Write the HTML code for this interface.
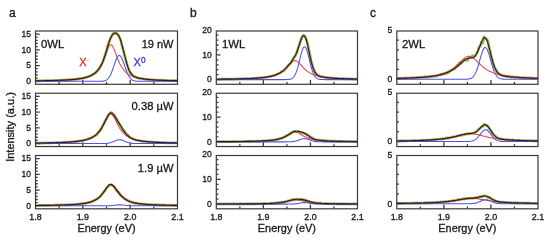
<!DOCTYPE html><html><head><meta charset="utf-8"><style>html,body{margin:0;padding:0;background:#fff;width:550px;height:240px;overflow:hidden}svg{display:block;will-change:transform;filter:blur(0.3px)}text{font-family:"Liberation Sans",sans-serif;fill:#1a1a1a;stroke:#1a1a1a;stroke-width:0.32px}</style></head><body>
<svg width="550" height="240" viewBox="0 0 550 240">
<clipPath id="cp00"><rect x="35.50" y="31.00" width="142.00" height="53.30"/></clipPath>
<path d="M35.50,81.31 h4.20 M35.50,78.15 h2.20 M35.50,75.00 h2.20 M35.50,71.85 h2.20 M35.50,68.70 h2.20 M35.50,65.55 h4.20 M35.50,62.39 h2.20 M35.50,59.24 h2.20 M35.50,56.09 h2.20 M35.50,52.94 h2.20 M35.50,49.79 h4.20 M35.50,46.63 h2.20 M35.50,43.48 h2.20 M35.50,40.33 h2.20 M35.50,37.18 h2.20 M35.50,34.03 h4.20 M59.17,84.30 v-2.40 M82.83,84.30 v-4.20 M106.50,84.30 v-2.40 M130.17,84.30 v-4.20 M153.83,84.30 v-2.40" stroke="#3a3a3a" stroke-width="1.3" fill="none"/>
<g clip-path="url(#cp00)">
<path d="M35.50,80.84 L36.79,80.80 L38.08,80.81 L39.37,80.80 L40.66,80.80 L41.95,80.75 L43.25,80.67 L44.54,80.68 L45.83,80.63 L47.12,80.64 L48.41,80.60 L49.70,80.58 L50.99,80.65 L52.28,80.49 L53.57,80.47 L54.86,80.43 L56.15,80.52 L57.45,80.48 L58.74,80.39 L60.03,80.31 L61.32,80.21 L62.61,80.18 L63.90,80.08 L65.19,80.09 L66.48,79.96 L67.77,79.87 L69.06,79.86 L70.35,79.59 L71.65,79.58 L72.94,79.42 L74.23,79.44 L75.52,79.32 L76.81,79.14 L78.10,78.95 L79.39,78.70 L80.68,78.53 L81.97,78.36 L83.26,78.16 L84.55,77.82 L85.85,77.28 L87.14,77.14 L88.43,76.57 L89.72,76.04 L91.01,75.72 L92.30,74.81 L93.59,73.81 L94.88,73.41 L96.17,72.00 L97.46,70.62 L98.75,69.16 L100.05,66.95 L101.34,64.77 L102.63,62.38 L103.92,58.50 L105.21,54.76 L106.50,50.46 L107.79,45.87 L109.08,42.03 L110.37,38.51 L111.66,36.38 L112.95,33.86 L114.25,33.44 L115.54,33.13 L116.83,33.91 L118.12,35.10 L119.41,37.27 L120.70,40.02 L121.99,45.67 L123.28,50.49 L124.57,55.19 L125.86,59.90 L127.15,64.61 L128.45,68.84 L129.74,71.79 L131.03,73.39 L132.32,75.09 L133.61,76.21 L134.90,76.69 L136.19,77.23 L137.48,77.75 L138.77,78.07 L140.06,78.32 L141.35,78.44 L142.65,78.74 L143.94,78.94 L145.23,79.10 L146.52,79.42 L147.81,79.32 L149.10,79.46 L150.39,79.61 L151.68,79.89 L152.97,79.88 L154.26,79.86 L155.55,80.12 L156.85,80.08 L158.14,80.06 L159.43,80.27 L160.72,80.15 L162.01,80.26 L163.30,80.35 L164.59,80.37 L165.88,80.39 L167.17,80.46 L168.46,80.44 L169.75,80.57 L171.05,80.59 L172.34,80.55 L173.63,80.63 L174.92,80.70 L176.21,80.64 L177.50,80.64" stroke="#a9ad4c" stroke-width="2.7" fill="none" stroke-linejoin="round"/>
<path d="M35.50,80.83 L35.97,80.83 L36.45,80.82 L36.92,80.82 L37.39,80.81 L37.87,80.80 L38.34,80.80 L38.81,80.79 L39.29,80.78 L39.76,80.78 L40.23,80.77 L40.71,80.76 L41.18,80.76 L41.65,80.75 L42.13,80.74 L42.60,80.73 L43.07,80.72 L43.55,80.72 L44.02,80.71 L44.49,80.70 L44.97,80.69 L45.44,80.68 L45.91,80.67 L46.39,80.66 L46.86,80.65 L47.33,80.65 L47.81,80.64 L48.28,80.63 L48.75,80.62 L49.23,80.60 L49.70,80.59 L50.17,80.58 L50.65,80.57 L51.12,80.56 L51.59,80.55 L52.07,80.54 L52.54,80.52 L53.01,80.51 L53.49,80.50 L53.96,80.49 L54.43,80.47 L54.91,80.46 L55.38,80.44 L55.85,80.43 L56.33,80.42 L56.80,80.40 L57.27,80.38 L57.75,80.37 L58.22,80.35 L58.69,80.33 L59.17,80.32 L59.64,80.30 L60.11,80.28 L60.59,80.26 L61.06,80.24 L61.53,80.22 L62.01,80.20 L62.48,80.18 L62.95,80.16 L63.43,80.14 L63.90,80.11 L64.37,80.09 L64.85,80.07 L65.32,80.04 L65.79,80.02 L66.27,79.99 L66.74,79.96 L67.21,79.93 L67.69,79.91 L68.16,79.88 L68.63,79.84 L69.11,79.81 L69.58,79.78 L70.05,79.75 L70.53,79.71 L71.00,79.67 L71.47,79.64 L71.95,79.60 L72.42,79.56 L72.89,79.51 L73.37,79.47 L73.84,79.43 L74.31,79.38 L74.79,79.33 L75.26,79.28 L75.73,79.23 L76.21,79.18 L76.68,79.12 L77.15,79.06 L77.63,79.00 L78.10,78.94 L78.57,78.87 L79.05,78.81 L79.52,78.74 L79.99,78.66 L80.47,78.59 L80.94,78.51 L81.41,78.42 L81.89,78.33 L82.36,78.24 L82.83,78.15 L83.31,78.05 L83.78,77.94 L84.25,77.84 L84.73,77.72 L85.20,77.60 L85.67,77.47 L86.15,77.34 L86.62,77.20 L87.09,77.06 L87.57,76.90 L88.04,76.74 L88.51,76.57 L88.99,76.39 L89.46,76.20 L89.93,76.01 L90.41,75.79 L90.88,75.57 L91.35,75.34 L91.83,75.09 L92.30,74.82 L92.77,74.54 L93.25,74.24 L93.72,73.93 L94.19,73.59 L94.67,73.24 L95.14,72.86 L95.61,72.45 L96.09,72.02 L96.56,71.56 L97.03,71.08 L97.51,70.55 L97.98,70.00 L98.45,69.40 L98.93,68.77 L99.40,68.10 L99.87,67.38 L100.35,66.61 L100.82,65.79 L101.29,64.92 L101.77,64.00 L102.24,63.02 L102.71,61.99 L103.19,60.91 L103.66,59.77 L104.13,58.58 L104.61,57.35 L105.08,56.08 L105.55,54.79 L106.03,53.48 L106.50,52.18 L106.97,50.91 L107.45,49.69 L107.92,48.54 L108.39,47.50 L108.87,46.59 L109.34,45.84 L109.81,45.27 L110.29,44.90 L110.76,44.75 L111.23,44.81 L111.71,45.10 L112.18,45.59 L112.65,46.27 L113.13,47.12 L113.60,48.11 L114.07,49.22 L114.55,50.42 L115.02,51.67 L115.49,52.96 L115.97,54.26 L116.44,55.56 L116.91,56.84 L117.39,58.09 L117.86,59.30 L118.33,60.46 L118.81,61.56 L119.28,62.62 L119.75,63.62 L120.23,64.56 L120.70,65.45 L121.17,66.29 L121.65,67.08 L122.12,67.81 L122.59,68.51 L123.07,69.16 L123.54,69.77 L124.01,70.34 L124.49,70.87 L124.96,71.37 L125.43,71.84 L125.91,72.28 L126.38,72.70 L126.85,73.09 L127.33,73.45 L127.80,73.80 L128.27,74.12 L128.75,74.42 L129.22,74.71 L129.69,74.98 L130.17,75.24 L130.64,75.48 L131.11,75.71 L131.59,75.92 L132.06,76.13 L132.53,76.32 L133.01,76.50 L133.48,76.68 L133.95,76.84 L134.43,77.00 L134.90,77.15 L135.37,77.29 L135.85,77.42 L136.32,77.55 L136.79,77.67 L137.27,77.79 L137.74,77.90 L138.21,78.01 L138.69,78.11 L139.16,78.21 L139.63,78.30 L140.11,78.39 L140.58,78.47 L141.05,78.55 L141.53,78.63 L142.00,78.71 L142.47,78.78 L142.95,78.85 L143.42,78.91 L143.89,78.98 L144.37,79.04 L144.84,79.10 L145.31,79.15 L145.79,79.21 L146.26,79.26 L146.73,79.31 L147.21,79.36 L147.68,79.41 L148.15,79.45 L148.63,79.50 L149.10,79.54 L149.57,79.58 L150.05,79.62 L150.52,79.66 L150.99,79.70 L151.47,79.73 L151.94,79.77 L152.41,79.80 L152.89,79.83 L153.36,79.86 L153.83,79.89 L154.31,79.92 L154.78,79.95 L155.25,79.98 L155.73,80.01 L156.20,80.03 L156.67,80.06 L157.15,80.08 L157.62,80.11 L158.09,80.13 L158.57,80.15 L159.04,80.17 L159.51,80.19 L159.99,80.22 L160.46,80.24 L160.93,80.25 L161.41,80.27 L161.88,80.29 L162.35,80.31 L162.83,80.33 L163.30,80.35 L163.77,80.36 L164.25,80.38 L164.72,80.39 L165.19,80.41 L165.67,80.42 L166.14,80.44 L166.61,80.45 L167.09,80.47 L167.56,80.48 L168.03,80.49 L168.51,80.51 L168.98,80.52 L169.45,80.53 L169.93,80.54 L170.40,80.56 L170.87,80.57 L171.35,80.58 L171.82,80.59 L172.29,80.60 L172.77,80.61 L173.24,80.62 L173.71,80.63 L174.19,80.64 L174.66,80.65 L175.13,80.66 L175.61,80.67 L176.08,80.68 L176.55,80.69 L177.03,80.70 L177.50,80.70" stroke="#e8404a" stroke-width="1.05" fill="none"/>
<path d="M35.50,81.31 L35.97,81.31 L36.45,81.31 L36.92,81.31 L37.39,81.31 L37.87,81.31 L38.34,81.31 L38.81,81.31 L39.29,81.31 L39.76,81.31 L40.23,81.31 L40.71,81.31 L41.18,81.31 L41.65,81.31 L42.13,81.31 L42.60,81.31 L43.07,81.31 L43.55,81.31 L44.02,81.31 L44.49,81.31 L44.97,81.31 L45.44,81.31 L45.91,81.31 L46.39,81.31 L46.86,81.31 L47.33,81.31 L47.81,81.31 L48.28,81.31 L48.75,81.31 L49.23,81.31 L49.70,81.31 L50.17,81.31 L50.65,81.31 L51.12,81.31 L51.59,81.31 L52.07,81.31 L52.54,81.31 L53.01,81.31 L53.49,81.31 L53.96,81.31 L54.43,81.31 L54.91,81.31 L55.38,81.31 L55.85,81.31 L56.33,81.31 L56.80,81.31 L57.27,81.31 L57.75,81.31 L58.22,81.31 L58.69,81.31 L59.17,81.31 L59.64,81.31 L60.11,81.31 L60.59,81.31 L61.06,81.31 L61.53,81.31 L62.01,81.31 L62.48,81.31 L62.95,81.31 L63.43,81.31 L63.90,81.31 L64.37,81.31 L64.85,81.31 L65.32,81.31 L65.79,81.31 L66.27,81.31 L66.74,81.31 L67.21,81.31 L67.69,81.31 L68.16,81.31 L68.63,81.31 L69.11,81.31 L69.58,81.31 L70.05,81.31 L70.53,81.31 L71.00,81.31 L71.47,81.31 L71.95,81.31 L72.42,81.31 L72.89,81.31 L73.37,81.31 L73.84,81.31 L74.31,81.31 L74.79,81.31 L75.26,81.31 L75.73,81.31 L76.21,81.31 L76.68,81.31 L77.15,81.31 L77.63,81.31 L78.10,81.31 L78.57,81.31 L79.05,81.31 L79.52,81.31 L79.99,81.31 L80.47,81.31 L80.94,81.31 L81.41,81.31 L81.89,81.31 L82.36,81.31 L82.83,81.31 L83.31,81.31 L83.78,81.31 L84.25,81.31 L84.73,81.31 L85.20,81.31 L85.67,81.31 L86.15,81.31 L86.62,81.31 L87.09,81.31 L87.57,81.31 L88.04,81.31 L88.51,81.31 L88.99,81.31 L89.46,81.31 L89.93,81.31 L90.41,81.31 L90.88,81.31 L91.35,81.31 L91.83,81.31 L92.30,81.31 L92.77,81.31 L93.25,81.31 L93.72,81.31 L94.19,81.31 L94.67,81.31 L95.14,81.30 L95.61,81.30 L96.09,81.30 L96.56,81.30 L97.03,81.30 L97.51,81.30 L97.98,81.30 L98.45,81.29 L98.93,81.29 L99.40,81.28 L99.87,81.27 L100.35,81.26 L100.82,81.25 L101.29,81.22 L101.77,81.20 L102.24,81.16 L102.71,81.11 L103.19,81.05 L103.66,80.97 L104.13,80.87 L104.61,80.74 L105.08,80.59 L105.55,80.40 L106.03,80.17 L106.50,79.89 L106.97,79.56 L107.45,79.17 L107.92,78.70 L108.39,78.17 L108.87,77.55 L109.34,76.85 L109.81,76.06 L110.29,75.18 L110.76,74.20 L111.23,73.14 L111.71,71.99 L112.18,70.76 L112.65,69.47 L113.13,68.13 L113.60,66.75 L114.07,65.35 L114.55,63.96 L115.02,62.59 L115.49,61.28 L115.97,60.05 L116.44,58.91 L116.91,57.91 L117.39,57.06 L117.86,56.37 L118.33,55.87 L118.81,55.56 L119.28,55.46 L119.75,55.56 L120.23,55.87 L120.70,56.37 L121.17,57.06 L121.65,57.91 L122.12,58.91 L122.59,60.05 L123.07,61.28 L123.54,62.59 L124.01,63.96 L124.49,65.35 L124.96,66.75 L125.43,68.13 L125.91,69.47 L126.38,70.76 L126.85,71.99 L127.33,73.14 L127.80,74.20 L128.27,75.18 L128.75,76.06 L129.22,76.85 L129.69,77.55 L130.17,78.17 L130.64,78.70 L131.11,79.17 L131.59,79.56 L132.06,79.89 L132.53,80.17 L133.01,80.40 L133.48,80.59 L133.95,80.74 L134.43,80.87 L134.90,80.97 L135.37,81.05 L135.85,81.11 L136.32,81.16 L136.79,81.20 L137.27,81.22 L137.74,81.25 L138.21,81.26 L138.69,81.27 L139.16,81.28 L139.63,81.29 L140.11,81.29 L140.58,81.30 L141.05,81.30 L141.53,81.30 L142.00,81.30 L142.47,81.30 L142.95,81.30 L143.42,81.30 L143.89,81.31 L144.37,81.31 L144.84,81.31 L145.31,81.31 L145.79,81.31 L146.26,81.31 L146.73,81.31 L147.21,81.31 L147.68,81.31 L148.15,81.31 L148.63,81.31 L149.10,81.31 L149.57,81.31 L150.05,81.31 L150.52,81.31 L150.99,81.31 L151.47,81.31 L151.94,81.31 L152.41,81.31 L152.89,81.31 L153.36,81.31 L153.83,81.31 L154.31,81.31 L154.78,81.31 L155.25,81.31 L155.73,81.31 L156.20,81.31 L156.67,81.31 L157.15,81.31 L157.62,81.31 L158.09,81.31 L158.57,81.31 L159.04,81.31 L159.51,81.31 L159.99,81.31 L160.46,81.31 L160.93,81.31 L161.41,81.31 L161.88,81.31 L162.35,81.31 L162.83,81.31 L163.30,81.31 L163.77,81.31 L164.25,81.31 L164.72,81.31 L165.19,81.31 L165.67,81.31 L166.14,81.31 L166.61,81.31 L167.09,81.31 L167.56,81.31 L168.03,81.31 L168.51,81.31 L168.98,81.31 L169.45,81.31 L169.93,81.31 L170.40,81.31 L170.87,81.31 L171.35,81.31 L171.82,81.31 L172.29,81.31 L172.77,81.31 L173.24,81.31 L173.71,81.31 L174.19,81.31 L174.66,81.31 L175.13,81.31 L175.61,81.31 L176.08,81.31 L176.55,81.31 L177.03,81.31 L177.50,81.31" stroke="#5050e8" stroke-width="1.05" fill="none"/>
<path d="M35.50,80.83 L35.97,80.83 L36.45,80.82 L36.92,80.82 L37.39,80.81 L37.87,80.80 L38.34,80.80 L38.81,80.79 L39.29,80.78 L39.76,80.78 L40.23,80.77 L40.71,80.76 L41.18,80.76 L41.65,80.75 L42.13,80.74 L42.60,80.73 L43.07,80.72 L43.55,80.72 L44.02,80.71 L44.49,80.70 L44.97,80.69 L45.44,80.68 L45.91,80.67 L46.39,80.66 L46.86,80.65 L47.33,80.65 L47.81,80.64 L48.28,80.63 L48.75,80.62 L49.23,80.60 L49.70,80.59 L50.17,80.58 L50.65,80.57 L51.12,80.56 L51.59,80.55 L52.07,80.54 L52.54,80.52 L53.01,80.51 L53.49,80.50 L53.96,80.49 L54.43,80.47 L54.91,80.46 L55.38,80.44 L55.85,80.43 L56.33,80.42 L56.80,80.40 L57.27,80.38 L57.75,80.37 L58.22,80.35 L58.69,80.33 L59.17,80.32 L59.64,80.30 L60.11,80.28 L60.59,80.26 L61.06,80.24 L61.53,80.22 L62.01,80.20 L62.48,80.18 L62.95,80.16 L63.43,80.14 L63.90,80.11 L64.37,80.09 L64.85,80.07 L65.32,80.04 L65.79,80.02 L66.27,79.99 L66.74,79.96 L67.21,79.93 L67.69,79.91 L68.16,79.88 L68.63,79.84 L69.11,79.81 L69.58,79.78 L70.05,79.75 L70.53,79.71 L71.00,79.67 L71.47,79.64 L71.95,79.60 L72.42,79.56 L72.89,79.51 L73.37,79.47 L73.84,79.43 L74.31,79.38 L74.79,79.33 L75.26,79.28 L75.73,79.23 L76.21,79.18 L76.68,79.12 L77.15,79.06 L77.63,79.00 L78.10,78.94 L78.57,78.87 L79.05,78.81 L79.52,78.74 L79.99,78.66 L80.47,78.59 L80.94,78.51 L81.41,78.42 L81.89,78.33 L82.36,78.24 L82.83,78.15 L83.31,78.05 L83.78,77.94 L84.25,77.84 L84.73,77.72 L85.20,77.60 L85.67,77.47 L86.15,77.34 L86.62,77.20 L87.09,77.06 L87.57,76.90 L88.04,76.74 L88.51,76.57 L88.99,76.39 L89.46,76.20 L89.93,76.01 L90.41,75.79 L90.88,75.57 L91.35,75.34 L91.83,75.09 L92.30,74.82 L92.77,74.54 L93.25,74.24 L93.72,73.93 L94.19,73.59 L94.67,73.24 L95.14,72.86 L95.61,72.45 L96.09,72.02 L96.56,71.56 L97.03,71.07 L97.51,70.55 L97.98,69.99 L98.45,69.39 L98.93,68.76 L99.40,68.07 L99.87,67.34 L100.35,66.57 L100.82,65.73 L101.29,64.84 L101.77,63.89 L102.24,62.88 L102.71,61.80 L103.19,60.65 L103.66,59.43 L104.13,58.14 L104.61,56.79 L105.08,55.36 L105.55,53.88 L106.03,52.35 L106.50,50.77 L106.97,49.17 L107.45,47.55 L107.92,45.94 L108.39,44.36 L108.87,42.84 L109.34,41.38 L109.81,40.02 L110.29,38.77 L110.76,37.64 L111.23,36.65 L111.71,35.78 L112.18,35.05 L112.65,34.44 L113.13,33.94 L113.60,33.55 L114.07,33.27 L114.55,33.07 L115.02,32.96 L115.49,32.93 L115.97,33.00 L116.44,33.17 L116.91,33.45 L117.39,33.84 L117.86,34.36 L118.33,35.02 L118.81,35.82 L119.28,36.77 L119.75,37.87 L120.23,39.12 L120.70,40.52 L121.17,42.04 L121.65,43.68 L122.12,45.42 L122.59,47.25 L123.07,49.13 L123.54,51.05 L124.01,52.99 L124.49,54.91 L124.96,56.81 L125.43,58.67 L125.91,60.45 L126.38,62.16 L126.85,63.77 L127.33,65.28 L127.80,66.69 L128.27,67.99 L128.75,69.18 L129.22,70.26 L129.69,71.23 L130.17,72.10 L130.64,72.88 L131.11,73.57 L131.59,74.18 L132.06,74.71 L132.53,75.18 L133.01,75.60 L133.48,75.96 L133.95,76.28 L134.43,76.56 L134.90,76.81 L135.37,77.03 L135.85,77.23 L136.32,77.40 L136.79,77.56 L137.27,77.71 L137.74,77.84 L138.21,77.96 L138.69,78.08 L139.16,78.18 L139.63,78.28 L140.11,78.38 L140.58,78.46 L141.05,78.55 L141.53,78.63 L142.00,78.70 L142.47,78.78 L142.95,78.85 L143.42,78.91 L143.89,78.98 L144.37,79.04 L144.84,79.10 L145.31,79.15 L145.79,79.21 L146.26,79.26 L146.73,79.31 L147.21,79.36 L147.68,79.41 L148.15,79.45 L148.63,79.50 L149.10,79.54 L149.57,79.58 L150.05,79.62 L150.52,79.66 L150.99,79.70 L151.47,79.73 L151.94,79.77 L152.41,79.80 L152.89,79.83 L153.36,79.86 L153.83,79.89 L154.31,79.92 L154.78,79.95 L155.25,79.98 L155.73,80.01 L156.20,80.03 L156.67,80.06 L157.15,80.08 L157.62,80.11 L158.09,80.13 L158.57,80.15 L159.04,80.17 L159.51,80.19 L159.99,80.22 L160.46,80.24 L160.93,80.25 L161.41,80.27 L161.88,80.29 L162.35,80.31 L162.83,80.33 L163.30,80.35 L163.77,80.36 L164.25,80.38 L164.72,80.39 L165.19,80.41 L165.67,80.42 L166.14,80.44 L166.61,80.45 L167.09,80.47 L167.56,80.48 L168.03,80.49 L168.51,80.51 L168.98,80.52 L169.45,80.53 L169.93,80.54 L170.40,80.56 L170.87,80.57 L171.35,80.58 L171.82,80.59 L172.29,80.60 L172.77,80.61 L173.24,80.62 L173.71,80.63 L174.19,80.64 L174.66,80.65 L175.13,80.66 L175.61,80.67 L176.08,80.68 L176.55,80.69 L177.03,80.70 L177.50,80.70" stroke="#222" stroke-width="1.15" fill="none"/>
</g>
<rect x="35.50" y="31.00" width="142.00" height="53.30" fill="none" stroke="#3a3a3a" stroke-width="1.2"/>
<text x="30.90" y="84.11" font-size="8.5" text-anchor="end">0</text>
<text x="30.90" y="68.35" font-size="8.5" text-anchor="end">5</text>
<text x="30.90" y="52.59" font-size="8.5" text-anchor="end">10</text>
<text x="30.90" y="36.83" font-size="8.5" text-anchor="end">15</text>
<clipPath id="cp01"><rect x="35.50" y="93.25" width="142.00" height="53.30"/></clipPath>
<path d="M35.50,143.56 h4.20 M35.50,140.40 h2.20 M35.50,137.25 h2.20 M35.50,134.10 h2.20 M35.50,130.95 h2.20 M35.50,127.80 h4.20 M35.50,124.64 h2.20 M35.50,121.49 h2.20 M35.50,118.34 h2.20 M35.50,115.19 h2.20 M35.50,112.04 h4.20 M35.50,108.88 h2.20 M35.50,105.73 h2.20 M35.50,102.58 h2.20 M35.50,99.43 h2.20 M35.50,96.28 h4.20 M59.17,146.55 v-2.40 M82.83,146.55 v-4.20 M106.50,146.55 v-2.40 M130.17,146.55 v-4.20 M153.83,146.55 v-2.40" stroke="#3a3a3a" stroke-width="1.3" fill="none"/>
<g clip-path="url(#cp01)">
<path d="M35.50,143.11 L36.79,143.14 L38.08,143.07 L39.37,143.05 L40.66,143.04 L41.95,142.93 L43.25,143.03 L44.54,142.90 L45.83,143.00 L47.12,142.95 L48.41,142.85 L49.70,142.80 L50.99,142.78 L52.28,142.78 L53.57,142.75 L54.86,142.72 L56.15,142.65 L57.45,142.66 L58.74,142.58 L60.03,142.52 L61.32,142.50 L62.61,142.39 L63.90,142.35 L65.19,142.18 L66.48,142.23 L67.77,142.21 L69.06,142.12 L70.35,142.00 L71.65,141.83 L72.94,141.83 L74.23,141.64 L75.52,141.38 L76.81,141.65 L78.10,141.35 L79.39,141.04 L80.68,140.82 L81.97,140.61 L83.26,140.44 L84.55,140.02 L85.85,139.74 L87.14,139.48 L88.43,138.65 L89.72,138.46 L91.01,138.04 L92.30,137.33 L93.59,136.60 L94.88,135.69 L96.17,135.19 L97.46,133.55 L98.75,131.80 L100.05,130.64 L101.34,128.46 L102.63,125.97 L103.92,123.52 L105.21,120.66 L106.50,119.01 L107.79,116.15 L109.08,114.26 L110.37,112.87 L111.66,112.63 L112.95,114.83 L114.25,115.04 L115.54,117.86 L116.83,119.29 L118.12,122.16 L119.41,123.81 L120.70,125.66 L121.99,128.08 L123.28,129.95 L124.57,131.64 L125.86,133.43 L127.15,134.92 L128.45,135.85 L129.74,136.96 L131.03,138.00 L132.32,138.21 L133.61,139.31 L134.90,139.47 L136.19,139.99 L137.48,140.25 L138.77,140.46 L140.06,140.75 L141.35,140.92 L142.65,141.33 L143.94,141.49 L145.23,141.44 L146.52,141.72 L147.81,141.84 L149.10,141.99 L150.39,141.86 L151.68,142.00 L152.97,142.03 L154.26,142.30 L155.55,142.30 L156.85,142.44 L158.14,142.37 L159.43,142.37 L160.72,142.59 L162.01,142.48 L163.30,142.57 L164.59,142.68 L165.88,142.83 L167.17,142.67 L168.46,142.79 L169.75,142.85 L171.05,142.82 L172.34,142.85 L173.63,142.82 L174.92,142.98 L176.21,142.89 L177.50,142.90" stroke="#a9ad4c" stroke-width="2.7" fill="none" stroke-linejoin="round"/>
<path d="M35.50,143.09 L35.97,143.09 L36.45,143.08 L36.92,143.07 L37.39,143.07 L37.87,143.06 L38.34,143.06 L38.81,143.05 L39.29,143.04 L39.76,143.04 L40.23,143.03 L40.71,143.02 L41.18,143.01 L41.65,143.01 L42.13,143.00 L42.60,142.99 L43.07,142.98 L43.55,142.98 L44.02,142.97 L44.49,142.96 L44.97,142.95 L45.44,142.94 L45.91,142.93 L46.39,142.93 L46.86,142.92 L47.33,142.91 L47.81,142.90 L48.28,142.89 L48.75,142.88 L49.23,142.87 L49.70,142.86 L50.17,142.85 L50.65,142.84 L51.12,142.82 L51.59,142.81 L52.07,142.80 L52.54,142.79 L53.01,142.78 L53.49,142.76 L53.96,142.75 L54.43,142.74 L54.91,142.72 L55.38,142.71 L55.85,142.70 L56.33,142.68 L56.80,142.67 L57.27,142.65 L57.75,142.64 L58.22,142.62 L58.69,142.60 L59.17,142.59 L59.64,142.57 L60.11,142.55 L60.59,142.53 L61.06,142.51 L61.53,142.49 L62.01,142.47 L62.48,142.45 L62.95,142.43 L63.43,142.41 L63.90,142.39 L64.37,142.36 L64.85,142.34 L65.32,142.32 L65.79,142.29 L66.27,142.26 L66.74,142.24 L67.21,142.21 L67.69,142.18 L68.16,142.15 L68.63,142.12 L69.11,142.09 L69.58,142.06 L70.05,142.03 L70.53,141.99 L71.00,141.96 L71.47,141.92 L71.95,141.88 L72.42,141.84 L72.89,141.80 L73.37,141.76 L73.84,141.71 L74.31,141.67 L74.79,141.62 L75.26,141.57 L75.73,141.52 L76.21,141.47 L76.68,141.42 L77.15,141.36 L77.63,141.30 L78.10,141.24 L78.57,141.18 L79.05,141.11 L79.52,141.04 L79.99,140.97 L80.47,140.90 L80.94,140.82 L81.41,140.74 L81.89,140.65 L82.36,140.57 L82.83,140.47 L83.31,140.38 L83.78,140.28 L84.25,140.17 L84.73,140.06 L85.20,139.95 L85.67,139.83 L86.15,139.70 L86.62,139.57 L87.09,139.43 L87.57,139.28 L88.04,139.13 L88.51,138.96 L88.99,138.79 L89.46,138.61 L89.93,138.42 L90.41,138.23 L90.88,138.01 L91.35,137.79 L91.83,137.56 L92.30,137.31 L92.77,137.05 L93.25,136.77 L93.72,136.48 L94.19,136.17 L94.67,135.84 L95.14,135.49 L95.61,135.12 L96.09,134.73 L96.56,134.31 L97.03,133.87 L97.51,133.40 L97.98,132.91 L98.45,132.38 L98.93,131.82 L99.40,131.23 L99.87,130.61 L100.35,129.95 L100.82,129.25 L101.29,128.52 L101.77,127.75 L102.24,126.94 L102.71,126.10 L103.19,125.22 L103.66,124.32 L104.13,123.39 L104.61,122.44 L105.08,121.48 L105.55,120.52 L106.03,119.57 L106.50,118.64 L106.97,117.75 L107.45,116.92 L107.92,116.15 L108.39,115.48 L108.87,114.91 L109.34,114.46 L109.81,114.14 L110.29,113.96 L110.76,113.93 L111.23,114.05 L111.71,114.31 L112.18,114.71 L112.65,115.24 L113.13,115.87 L113.60,116.60 L114.07,117.41 L114.55,118.28 L115.02,119.19 L115.49,120.14 L115.97,121.10 L116.44,122.06 L116.91,123.01 L117.39,123.95 L117.86,124.87 L118.33,125.75 L118.81,126.61 L119.28,127.43 L119.75,128.21 L120.23,128.96 L120.70,129.67 L121.17,130.35 L121.65,130.99 L122.12,131.59 L122.59,132.16 L123.07,132.70 L123.54,133.21 L124.01,133.69 L124.49,134.14 L124.96,134.56 L125.43,134.97 L125.91,135.34 L126.38,135.70 L126.85,136.04 L127.33,136.36 L127.80,136.66 L128.27,136.94 L128.75,137.21 L129.22,137.46 L129.69,137.70 L130.17,137.93 L130.64,138.14 L131.11,138.35 L131.59,138.54 L132.06,138.72 L132.53,138.90 L133.01,139.06 L133.48,139.22 L133.95,139.37 L134.43,139.51 L134.90,139.65 L135.37,139.78 L135.85,139.90 L136.32,140.02 L136.79,140.13 L137.27,140.24 L137.74,140.34 L138.21,140.44 L138.69,140.53 L139.16,140.62 L139.63,140.71 L140.11,140.79 L140.58,140.87 L141.05,140.94 L141.53,141.01 L142.00,141.08 L142.47,141.15 L142.95,141.22 L143.42,141.28 L143.89,141.34 L144.37,141.39 L144.84,141.45 L145.31,141.50 L145.79,141.55 L146.26,141.60 L146.73,141.65 L147.21,141.70 L147.68,141.74 L148.15,141.78 L148.63,141.82 L149.10,141.86 L149.57,141.90 L150.05,141.94 L150.52,141.98 L150.99,142.01 L151.47,142.05 L151.94,142.08 L152.41,142.11 L152.89,142.14 L153.36,142.17 L153.83,142.20 L154.31,142.23 L154.78,142.25 L155.25,142.28 L155.73,142.31 L156.20,142.33 L156.67,142.35 L157.15,142.38 L157.62,142.40 L158.09,142.42 L158.57,142.44 L159.04,142.46 L159.51,142.49 L159.99,142.50 L160.46,142.52 L160.93,142.54 L161.41,142.56 L161.88,142.58 L162.35,142.60 L162.83,142.61 L163.30,142.63 L163.77,142.64 L164.25,142.66 L164.72,142.68 L165.19,142.69 L165.67,142.70 L166.14,142.72 L166.61,142.73 L167.09,142.75 L167.56,142.76 L168.03,142.77 L168.51,142.78 L168.98,142.80 L169.45,142.81 L169.93,142.82 L170.40,142.83 L170.87,142.84 L171.35,142.85 L171.82,142.86 L172.29,142.87 L172.77,142.88 L173.24,142.89 L173.71,142.90 L174.19,142.91 L174.66,142.92 L175.13,142.93 L175.61,142.94 L176.08,142.95 L176.55,142.96 L177.03,142.97 L177.50,142.97" stroke="#e8404a" stroke-width="1.05" fill="none"/>
<path d="M35.50,143.56 L35.97,143.56 L36.45,143.56 L36.92,143.56 L37.39,143.56 L37.87,143.56 L38.34,143.56 L38.81,143.56 L39.29,143.56 L39.76,143.56 L40.23,143.56 L40.71,143.56 L41.18,143.56 L41.65,143.56 L42.13,143.56 L42.60,143.56 L43.07,143.56 L43.55,143.56 L44.02,143.56 L44.49,143.56 L44.97,143.56 L45.44,143.56 L45.91,143.56 L46.39,143.56 L46.86,143.56 L47.33,143.56 L47.81,143.56 L48.28,143.56 L48.75,143.56 L49.23,143.56 L49.70,143.56 L50.17,143.56 L50.65,143.56 L51.12,143.56 L51.59,143.56 L52.07,143.56 L52.54,143.56 L53.01,143.56 L53.49,143.56 L53.96,143.56 L54.43,143.56 L54.91,143.56 L55.38,143.56 L55.85,143.56 L56.33,143.56 L56.80,143.56 L57.27,143.56 L57.75,143.56 L58.22,143.56 L58.69,143.56 L59.17,143.56 L59.64,143.56 L60.11,143.56 L60.59,143.56 L61.06,143.56 L61.53,143.56 L62.01,143.56 L62.48,143.56 L62.95,143.56 L63.43,143.56 L63.90,143.56 L64.37,143.56 L64.85,143.56 L65.32,143.56 L65.79,143.56 L66.27,143.56 L66.74,143.56 L67.21,143.56 L67.69,143.56 L68.16,143.56 L68.63,143.56 L69.11,143.56 L69.58,143.56 L70.05,143.56 L70.53,143.56 L71.00,143.56 L71.47,143.56 L71.95,143.56 L72.42,143.56 L72.89,143.56 L73.37,143.56 L73.84,143.56 L74.31,143.56 L74.79,143.56 L75.26,143.56 L75.73,143.56 L76.21,143.56 L76.68,143.56 L77.15,143.56 L77.63,143.56 L78.10,143.56 L78.57,143.56 L79.05,143.56 L79.52,143.56 L79.99,143.56 L80.47,143.56 L80.94,143.56 L81.41,143.56 L81.89,143.56 L82.36,143.56 L82.83,143.56 L83.31,143.56 L83.78,143.56 L84.25,143.56 L84.73,143.56 L85.20,143.56 L85.67,143.56 L86.15,143.56 L86.62,143.56 L87.09,143.56 L87.57,143.56 L88.04,143.56 L88.51,143.56 L88.99,143.56 L89.46,143.56 L89.93,143.56 L90.41,143.56 L90.88,143.56 L91.35,143.56 L91.83,143.56 L92.30,143.56 L92.77,143.56 L93.25,143.56 L93.72,143.56 L94.19,143.56 L94.67,143.56 L95.14,143.56 L95.61,143.56 L96.09,143.56 L96.56,143.56 L97.03,143.56 L97.51,143.55 L97.98,143.55 L98.45,143.55 L98.93,143.55 L99.40,143.55 L99.87,143.55 L100.35,143.55 L100.82,143.55 L101.29,143.55 L101.77,143.54 L102.24,143.54 L102.71,143.53 L103.19,143.52 L103.66,143.51 L104.13,143.50 L104.61,143.48 L105.08,143.46 L105.55,143.44 L106.03,143.41 L106.50,143.37 L106.97,143.33 L107.45,143.27 L107.92,143.21 L108.39,143.14 L108.87,143.05 L109.34,142.96 L109.81,142.85 L110.29,142.72 L110.76,142.59 L111.23,142.44 L111.71,142.28 L112.18,142.10 L112.65,141.92 L113.13,141.73 L113.60,141.53 L114.07,141.32 L114.55,141.12 L115.02,140.92 L115.49,140.72 L115.97,140.53 L116.44,140.36 L116.91,140.20 L117.39,140.07 L117.86,139.95 L118.33,139.87 L118.81,139.81 L119.28,139.78 L119.75,139.78 L120.23,139.81 L120.70,139.87 L121.17,139.95 L121.65,140.07 L122.12,140.20 L122.59,140.36 L123.07,140.53 L123.54,140.72 L124.01,140.92 L124.49,141.12 L124.96,141.32 L125.43,141.53 L125.91,141.73 L126.38,141.92 L126.85,142.10 L127.33,142.28 L127.80,142.44 L128.27,142.59 L128.75,142.72 L129.22,142.85 L129.69,142.96 L130.17,143.05 L130.64,143.14 L131.11,143.21 L131.59,143.27 L132.06,143.33 L132.53,143.37 L133.01,143.41 L133.48,143.44 L133.95,143.46 L134.43,143.48 L134.90,143.50 L135.37,143.51 L135.85,143.52 L136.32,143.53 L136.79,143.54 L137.27,143.54 L137.74,143.55 L138.21,143.55 L138.69,143.55 L139.16,143.55 L139.63,143.55 L140.11,143.55 L140.58,143.55 L141.05,143.55 L141.53,143.55 L142.00,143.56 L142.47,143.56 L142.95,143.56 L143.42,143.56 L143.89,143.56 L144.37,143.56 L144.84,143.56 L145.31,143.56 L145.79,143.56 L146.26,143.56 L146.73,143.56 L147.21,143.56 L147.68,143.56 L148.15,143.56 L148.63,143.56 L149.10,143.56 L149.57,143.56 L150.05,143.56 L150.52,143.56 L150.99,143.56 L151.47,143.56 L151.94,143.56 L152.41,143.56 L152.89,143.56 L153.36,143.56 L153.83,143.56 L154.31,143.56 L154.78,143.56 L155.25,143.56 L155.73,143.56 L156.20,143.56 L156.67,143.56 L157.15,143.56 L157.62,143.56 L158.09,143.56 L158.57,143.56 L159.04,143.56 L159.51,143.56 L159.99,143.56 L160.46,143.56 L160.93,143.56 L161.41,143.56 L161.88,143.56 L162.35,143.56 L162.83,143.56 L163.30,143.56 L163.77,143.56 L164.25,143.56 L164.72,143.56 L165.19,143.56 L165.67,143.56 L166.14,143.56 L166.61,143.56 L167.09,143.56 L167.56,143.56 L168.03,143.56 L168.51,143.56 L168.98,143.56 L169.45,143.56 L169.93,143.56 L170.40,143.56 L170.87,143.56 L171.35,143.56 L171.82,143.56 L172.29,143.56 L172.77,143.56 L173.24,143.56 L173.71,143.56 L174.19,143.56 L174.66,143.56 L175.13,143.56 L175.61,143.56 L176.08,143.56 L176.55,143.56 L177.03,143.56 L177.50,143.56" stroke="#5050e8" stroke-width="1.05" fill="none"/>
<path d="M35.50,143.09 L35.97,143.09 L36.45,143.08 L36.92,143.07 L37.39,143.07 L37.87,143.06 L38.34,143.06 L38.81,143.05 L39.29,143.04 L39.76,143.04 L40.23,143.03 L40.71,143.02 L41.18,143.01 L41.65,143.01 L42.13,143.00 L42.60,142.99 L43.07,142.98 L43.55,142.98 L44.02,142.97 L44.49,142.96 L44.97,142.95 L45.44,142.94 L45.91,142.93 L46.39,142.93 L46.86,142.92 L47.33,142.91 L47.81,142.90 L48.28,142.89 L48.75,142.88 L49.23,142.87 L49.70,142.86 L50.17,142.85 L50.65,142.84 L51.12,142.82 L51.59,142.81 L52.07,142.80 L52.54,142.79 L53.01,142.78 L53.49,142.76 L53.96,142.75 L54.43,142.74 L54.91,142.72 L55.38,142.71 L55.85,142.70 L56.33,142.68 L56.80,142.67 L57.27,142.65 L57.75,142.64 L58.22,142.62 L58.69,142.60 L59.17,142.59 L59.64,142.57 L60.11,142.55 L60.59,142.53 L61.06,142.51 L61.53,142.49 L62.01,142.47 L62.48,142.45 L62.95,142.43 L63.43,142.41 L63.90,142.39 L64.37,142.36 L64.85,142.34 L65.32,142.32 L65.79,142.29 L66.27,142.26 L66.74,142.24 L67.21,142.21 L67.69,142.18 L68.16,142.15 L68.63,142.12 L69.11,142.09 L69.58,142.06 L70.05,142.03 L70.53,141.99 L71.00,141.96 L71.47,141.92 L71.95,141.88 L72.42,141.84 L72.89,141.80 L73.37,141.76 L73.84,141.71 L74.31,141.67 L74.79,141.62 L75.26,141.57 L75.73,141.52 L76.21,141.47 L76.68,141.42 L77.15,141.36 L77.63,141.30 L78.10,141.24 L78.57,141.18 L79.05,141.11 L79.52,141.04 L79.99,140.97 L80.47,140.90 L80.94,140.82 L81.41,140.74 L81.89,140.65 L82.36,140.57 L82.83,140.47 L83.31,140.38 L83.78,140.28 L84.25,140.17 L84.73,140.06 L85.20,139.95 L85.67,139.83 L86.15,139.70 L86.62,139.57 L87.09,139.43 L87.57,139.28 L88.04,139.13 L88.51,138.96 L88.99,138.79 L89.46,138.61 L89.93,138.42 L90.41,138.23 L90.88,138.01 L91.35,137.79 L91.83,137.56 L92.30,137.31 L92.77,137.05 L93.25,136.77 L93.72,136.48 L94.19,136.17 L94.67,135.84 L95.14,135.49 L95.61,135.12 L96.09,134.73 L96.56,134.31 L97.03,133.87 L97.51,133.40 L97.98,132.91 L98.45,132.38 L98.93,131.82 L99.40,131.23 L99.87,130.60 L100.35,129.94 L100.82,129.24 L101.29,128.51 L101.77,127.73 L102.24,126.92 L102.71,126.07 L103.19,125.19 L103.66,124.28 L104.13,123.33 L104.61,122.37 L105.08,121.39 L105.55,120.40 L106.03,119.42 L106.50,118.46 L106.97,117.52 L107.45,116.63 L107.92,115.81 L108.39,115.06 L108.87,114.40 L109.34,113.86 L109.81,113.43 L110.29,113.13 L110.76,112.97 L111.23,112.94 L111.71,113.04 L112.18,113.26 L112.65,113.60 L113.13,114.04 L113.60,114.57 L114.07,115.18 L114.55,115.84 L115.02,116.55 L115.49,117.30 L115.97,118.07 L116.44,118.86 L116.91,119.66 L117.39,120.46 L117.86,121.26 L118.33,122.06 L118.81,122.86 L119.28,123.65 L119.75,124.44 L120.23,125.21 L120.70,125.98 L121.17,126.75 L121.65,127.50 L122.12,128.24 L122.59,128.96 L123.07,129.68 L123.54,130.37 L124.01,131.05 L124.49,131.70 L124.96,132.33 L125.43,132.94 L125.91,133.51 L126.38,134.07 L126.85,134.59 L127.33,135.08 L127.80,135.54 L128.27,135.97 L128.75,136.38 L129.22,136.75 L129.69,137.10 L130.17,137.42 L130.64,137.72 L131.11,138.00 L131.59,138.26 L132.06,138.49 L132.53,138.71 L133.01,138.91 L133.48,139.10 L133.95,139.28 L134.43,139.44 L134.90,139.59 L135.37,139.73 L135.85,139.87 L136.32,139.99 L136.79,140.11 L137.27,140.22 L137.74,140.33 L138.21,140.43 L138.69,140.52 L139.16,140.62 L139.63,140.70 L140.11,140.79 L140.58,140.86 L141.05,140.94 L141.53,141.01 L142.00,141.08 L142.47,141.15 L142.95,141.22 L143.42,141.28 L143.89,141.34 L144.37,141.39 L144.84,141.45 L145.31,141.50 L145.79,141.55 L146.26,141.60 L146.73,141.65 L147.21,141.70 L147.68,141.74 L148.15,141.78 L148.63,141.82 L149.10,141.86 L149.57,141.90 L150.05,141.94 L150.52,141.98 L150.99,142.01 L151.47,142.05 L151.94,142.08 L152.41,142.11 L152.89,142.14 L153.36,142.17 L153.83,142.20 L154.31,142.23 L154.78,142.25 L155.25,142.28 L155.73,142.31 L156.20,142.33 L156.67,142.35 L157.15,142.38 L157.62,142.40 L158.09,142.42 L158.57,142.44 L159.04,142.46 L159.51,142.49 L159.99,142.50 L160.46,142.52 L160.93,142.54 L161.41,142.56 L161.88,142.58 L162.35,142.60 L162.83,142.61 L163.30,142.63 L163.77,142.64 L164.25,142.66 L164.72,142.68 L165.19,142.69 L165.67,142.70 L166.14,142.72 L166.61,142.73 L167.09,142.75 L167.56,142.76 L168.03,142.77 L168.51,142.78 L168.98,142.80 L169.45,142.81 L169.93,142.82 L170.40,142.83 L170.87,142.84 L171.35,142.85 L171.82,142.86 L172.29,142.87 L172.77,142.88 L173.24,142.89 L173.71,142.90 L174.19,142.91 L174.66,142.92 L175.13,142.93 L175.61,142.94 L176.08,142.95 L176.55,142.96 L177.03,142.97 L177.50,142.97" stroke="#222" stroke-width="1.15" fill="none"/>
</g>
<rect x="35.50" y="93.25" width="142.00" height="53.30" fill="none" stroke="#3a3a3a" stroke-width="1.2"/>
<text x="30.90" y="146.36" font-size="8.5" text-anchor="end">0</text>
<text x="30.90" y="130.60" font-size="8.5" text-anchor="end">5</text>
<text x="30.90" y="114.84" font-size="8.5" text-anchor="end">10</text>
<text x="30.90" y="99.08" font-size="8.5" text-anchor="end">15</text>
<clipPath id="cp02"><rect x="35.50" y="155.50" width="142.00" height="53.30"/></clipPath>
<path d="M35.50,205.81 h4.20 M35.50,202.65 h2.20 M35.50,199.50 h2.20 M35.50,196.35 h2.20 M35.50,193.20 h2.20 M35.50,190.05 h4.20 M35.50,186.89 h2.20 M35.50,183.74 h2.20 M35.50,180.59 h2.20 M35.50,177.44 h2.20 M35.50,174.29 h4.20 M35.50,171.13 h2.20 M35.50,167.98 h2.20 M35.50,164.83 h2.20 M35.50,161.68 h2.20 M35.50,158.53 h4.20 M59.17,208.80 v-2.40 M82.83,208.80 v-4.20 M106.50,208.80 v-2.40 M130.17,208.80 v-4.20 M153.83,208.80 v-2.40" stroke="#3a3a3a" stroke-width="1.3" fill="none"/>
<g clip-path="url(#cp02)">
<path d="M35.50,205.42 L36.79,205.47 L38.08,205.48 L39.37,205.40 L40.66,205.42 L41.95,205.41 L43.25,205.34 L44.54,205.39 L45.83,205.47 L47.12,205.36 L48.41,205.41 L49.70,205.27 L50.99,205.27 L52.28,205.29 L53.57,205.24 L54.86,205.17 L56.15,205.18 L57.45,205.09 L58.74,205.13 L60.03,205.03 L61.32,204.97 L62.61,204.92 L63.90,205.01 L65.19,204.87 L66.48,205.00 L67.77,204.89 L69.06,204.90 L70.35,204.62 L71.65,204.72 L72.94,204.55 L74.23,204.48 L75.52,204.38 L76.81,204.32 L78.10,204.14 L79.39,203.87 L80.68,203.88 L81.97,203.67 L83.26,203.45 L84.55,203.37 L85.85,203.25 L87.14,202.92 L88.43,202.42 L89.72,202.42 L91.01,201.89 L92.30,201.21 L93.59,200.70 L94.88,200.19 L96.17,199.32 L97.46,198.57 L98.75,197.82 L100.05,196.73 L101.34,195.18 L102.63,193.25 L103.92,191.86 L105.21,190.10 L106.50,188.22 L107.79,186.79 L109.08,185.13 L110.37,184.85 L111.66,184.51 L112.95,186.17 L114.25,186.72 L115.54,188.64 L116.83,190.72 L118.12,191.74 L119.41,193.59 L120.70,195.48 L121.99,196.50 L123.28,197.44 L124.57,198.63 L125.86,199.34 L127.15,200.14 L128.45,200.83 L129.74,201.45 L131.03,201.80 L132.32,202.30 L133.61,202.66 L134.90,203.24 L136.19,203.16 L137.48,203.34 L138.77,203.69 L140.06,203.87 L141.35,203.80 L142.65,204.26 L143.94,204.19 L145.23,204.14 L146.52,204.51 L147.81,204.47 L149.10,204.46 L150.39,204.68 L151.68,204.70 L152.97,204.74 L154.26,204.92 L155.55,204.91 L156.85,204.94 L158.14,204.95 L159.43,205.04 L160.72,205.09 L162.01,205.17 L163.30,205.16 L164.59,205.13 L165.88,205.20 L167.17,205.27 L168.46,205.30 L169.75,205.15 L171.05,205.25 L172.34,205.29 L173.63,205.46 L174.92,205.33 L176.21,205.35 L177.50,205.32" stroke="#a9ad4c" stroke-width="2.7" fill="none" stroke-linejoin="round"/>
<path d="M35.50,205.48 L35.97,205.47 L36.45,205.47 L36.92,205.46 L37.39,205.46 L37.87,205.45 L38.34,205.45 L38.81,205.44 L39.29,205.44 L39.76,205.44 L40.23,205.43 L40.71,205.43 L41.18,205.42 L41.65,205.42 L42.13,205.41 L42.60,205.40 L43.07,205.40 L43.55,205.39 L44.02,205.39 L44.49,205.38 L44.97,205.38 L45.44,205.37 L45.91,205.36 L46.39,205.36 L46.86,205.35 L47.33,205.34 L47.81,205.34 L48.28,205.33 L48.75,205.32 L49.23,205.32 L49.70,205.31 L50.17,205.30 L50.65,205.29 L51.12,205.28 L51.59,205.28 L52.07,205.27 L52.54,205.26 L53.01,205.25 L53.49,205.24 L53.96,205.23 L54.43,205.22 L54.91,205.21 L55.38,205.20 L55.85,205.19 L56.33,205.18 L56.80,205.17 L57.27,205.16 L57.75,205.15 L58.22,205.14 L58.69,205.13 L59.17,205.11 L59.64,205.10 L60.11,205.09 L60.59,205.08 L61.06,205.06 L61.53,205.05 L62.01,205.03 L62.48,205.02 L62.95,205.00 L63.43,204.99 L63.90,204.97 L64.37,204.96 L64.85,204.94 L65.32,204.92 L65.79,204.90 L66.27,204.89 L66.74,204.87 L67.21,204.85 L67.69,204.83 L68.16,204.81 L68.63,204.78 L69.11,204.76 L69.58,204.74 L70.05,204.71 L70.53,204.69 L71.00,204.66 L71.47,204.64 L71.95,204.61 L72.42,204.58 L72.89,204.55 L73.37,204.52 L73.84,204.49 L74.31,204.46 L74.79,204.43 L75.26,204.39 L75.73,204.36 L76.21,204.32 L76.68,204.28 L77.15,204.24 L77.63,204.20 L78.10,204.16 L78.57,204.11 L79.05,204.06 L79.52,204.01 L79.99,203.96 L80.47,203.91 L80.94,203.86 L81.41,203.80 L81.89,203.74 L82.36,203.67 L82.83,203.61 L83.31,203.54 L83.78,203.47 L84.25,203.39 L84.73,203.32 L85.20,203.23 L85.67,203.15 L86.15,203.06 L86.62,202.96 L87.09,202.86 L87.57,202.76 L88.04,202.65 L88.51,202.53 L88.99,202.41 L89.46,202.28 L89.93,202.15 L90.41,202.01 L90.88,201.86 L91.35,201.70 L91.83,201.53 L92.30,201.35 L92.77,201.17 L93.25,200.97 L93.72,200.76 L94.19,200.54 L94.67,200.30 L95.14,200.06 L95.61,199.79 L96.09,199.51 L96.56,199.22 L97.03,198.90 L97.51,198.57 L97.98,198.22 L98.45,197.84 L98.93,197.44 L99.40,197.02 L99.87,196.58 L100.35,196.11 L100.82,195.61 L101.29,195.09 L101.77,194.54 L102.24,193.96 L102.71,193.36 L103.19,192.74 L103.66,192.09 L104.13,191.43 L104.61,190.76 L105.08,190.07 L105.55,189.39 L106.03,188.71 L106.50,188.05 L106.97,187.41 L107.45,186.82 L107.92,186.27 L108.39,185.79 L108.87,185.39 L109.34,185.07 L109.81,184.84 L110.29,184.71 L110.76,184.69 L111.23,184.78 L111.71,184.96 L112.18,185.25 L112.65,185.62 L113.13,186.07 L113.60,186.59 L114.07,187.17 L114.55,187.79 L115.02,188.44 L115.49,189.11 L115.97,189.80 L116.44,190.48 L116.91,191.16 L117.39,191.83 L117.86,192.48 L118.33,193.12 L118.81,193.73 L119.28,194.31 L119.75,194.87 L120.23,195.40 L120.70,195.91 L121.17,196.39 L121.65,196.85 L122.12,197.28 L122.59,197.68 L123.07,198.07 L123.54,198.43 L124.01,198.77 L124.49,199.09 L124.96,199.40 L125.43,199.68 L125.91,199.95 L126.38,200.21 L126.85,200.45 L127.33,200.67 L127.80,200.89 L128.27,201.09 L128.75,201.28 L129.22,201.46 L129.69,201.63 L130.17,201.79 L130.64,201.95 L131.11,202.09 L131.59,202.23 L132.06,202.36 L132.53,202.48 L133.01,202.60 L133.48,202.71 L133.95,202.82 L134.43,202.92 L134.90,203.02 L135.37,203.11 L135.85,203.20 L136.32,203.28 L136.79,203.36 L137.27,203.44 L137.74,203.51 L138.21,203.58 L138.69,203.65 L139.16,203.71 L139.63,203.77 L140.11,203.83 L140.58,203.89 L141.05,203.94 L141.53,203.99 L142.00,204.04 L142.47,204.09 L142.95,204.14 L143.42,204.18 L143.89,204.22 L144.37,204.27 L144.84,204.30 L145.31,204.34 L145.79,204.38 L146.26,204.41 L146.73,204.45 L147.21,204.48 L147.68,204.51 L148.15,204.54 L148.63,204.57 L149.10,204.60 L149.57,204.63 L150.05,204.65 L150.52,204.68 L150.99,204.71 L151.47,204.73 L151.94,204.75 L152.41,204.78 L152.89,204.80 L153.36,204.82 L153.83,204.84 L154.31,204.86 L154.78,204.88 L155.25,204.90 L155.73,204.91 L156.20,204.93 L156.67,204.95 L157.15,204.97 L157.62,204.98 L158.09,205.00 L158.57,205.01 L159.04,205.03 L159.51,205.04 L159.99,205.06 L160.46,205.07 L160.93,205.08 L161.41,205.10 L161.88,205.11 L162.35,205.12 L162.83,205.13 L163.30,205.15 L163.77,205.16 L164.25,205.17 L164.72,205.18 L165.19,205.19 L165.67,205.20 L166.14,205.21 L166.61,205.22 L167.09,205.23 L167.56,205.24 L168.03,205.25 L168.51,205.26 L168.98,205.26 L169.45,205.27 L169.93,205.28 L170.40,205.29 L170.87,205.30 L171.35,205.30 L171.82,205.31 L172.29,205.32 L172.77,205.33 L173.24,205.33 L173.71,205.34 L174.19,205.35 L174.66,205.35 L175.13,205.36 L175.61,205.37 L176.08,205.37 L176.55,205.38 L177.03,205.39 L177.50,205.39" stroke="#e8404a" stroke-width="1.05" fill="none"/>
<path d="M35.50,205.81 L35.97,205.81 L36.45,205.81 L36.92,205.81 L37.39,205.81 L37.87,205.81 L38.34,205.81 L38.81,205.81 L39.29,205.81 L39.76,205.81 L40.23,205.81 L40.71,205.81 L41.18,205.81 L41.65,205.81 L42.13,205.81 L42.60,205.81 L43.07,205.81 L43.55,205.81 L44.02,205.81 L44.49,205.81 L44.97,205.81 L45.44,205.81 L45.91,205.81 L46.39,205.81 L46.86,205.81 L47.33,205.81 L47.81,205.81 L48.28,205.81 L48.75,205.81 L49.23,205.81 L49.70,205.81 L50.17,205.81 L50.65,205.81 L51.12,205.81 L51.59,205.81 L52.07,205.81 L52.54,205.81 L53.01,205.81 L53.49,205.81 L53.96,205.81 L54.43,205.81 L54.91,205.81 L55.38,205.81 L55.85,205.81 L56.33,205.81 L56.80,205.81 L57.27,205.81 L57.75,205.81 L58.22,205.81 L58.69,205.81 L59.17,205.81 L59.64,205.81 L60.11,205.81 L60.59,205.81 L61.06,205.81 L61.53,205.81 L62.01,205.81 L62.48,205.81 L62.95,205.81 L63.43,205.81 L63.90,205.81 L64.37,205.81 L64.85,205.81 L65.32,205.81 L65.79,205.81 L66.27,205.81 L66.74,205.81 L67.21,205.81 L67.69,205.81 L68.16,205.81 L68.63,205.81 L69.11,205.81 L69.58,205.81 L70.05,205.81 L70.53,205.81 L71.00,205.81 L71.47,205.81 L71.95,205.81 L72.42,205.81 L72.89,205.81 L73.37,205.81 L73.84,205.81 L74.31,205.81 L74.79,205.81 L75.26,205.81 L75.73,205.81 L76.21,205.81 L76.68,205.81 L77.15,205.81 L77.63,205.81 L78.10,205.81 L78.57,205.81 L79.05,205.81 L79.52,205.81 L79.99,205.81 L80.47,205.81 L80.94,205.81 L81.41,205.81 L81.89,205.81 L82.36,205.81 L82.83,205.81 L83.31,205.81 L83.78,205.81 L84.25,205.81 L84.73,205.81 L85.20,205.81 L85.67,205.81 L86.15,205.81 L86.62,205.81 L87.09,205.81 L87.57,205.81 L88.04,205.81 L88.51,205.81 L88.99,205.81 L89.46,205.81 L89.93,205.81 L90.41,205.81 L90.88,205.81 L91.35,205.81 L91.83,205.81 L92.30,205.81 L92.77,205.81 L93.25,205.81 L93.72,205.81 L94.19,205.81 L94.67,205.81 L95.14,205.81 L95.61,205.81 L96.09,205.81 L96.56,205.81 L97.03,205.81 L97.51,205.81 L97.98,205.81 L98.45,205.81 L98.93,205.81 L99.40,205.80 L99.87,205.80 L100.35,205.80 L100.82,205.80 L101.29,205.80 L101.77,205.80 L102.24,205.80 L102.71,205.80 L103.19,205.80 L103.66,205.79 L104.13,205.79 L104.61,205.79 L105.08,205.78 L105.55,205.78 L106.03,205.77 L106.50,205.76 L106.97,205.75 L107.45,205.73 L107.92,205.72 L108.39,205.70 L108.87,205.68 L109.34,205.66 L109.81,205.63 L110.29,205.60 L110.76,205.56 L111.23,205.53 L111.71,205.49 L112.18,205.44 L112.65,205.40 L113.13,205.35 L113.60,205.30 L114.07,205.25 L114.55,205.20 L115.02,205.15 L115.49,205.10 L115.97,205.05 L116.44,205.01 L116.91,204.97 L117.39,204.93 L117.86,204.91 L118.33,204.88 L118.81,204.87 L119.28,204.86 L119.75,204.86 L120.23,204.87 L120.70,204.88 L121.17,204.91 L121.65,204.93 L122.12,204.97 L122.59,205.01 L123.07,205.05 L123.54,205.10 L124.01,205.15 L124.49,205.20 L124.96,205.25 L125.43,205.30 L125.91,205.35 L126.38,205.40 L126.85,205.44 L127.33,205.49 L127.80,205.53 L128.27,205.56 L128.75,205.60 L129.22,205.63 L129.69,205.66 L130.17,205.68 L130.64,205.70 L131.11,205.72 L131.59,205.73 L132.06,205.75 L132.53,205.76 L133.01,205.77 L133.48,205.78 L133.95,205.78 L134.43,205.79 L134.90,205.79 L135.37,205.79 L135.85,205.80 L136.32,205.80 L136.79,205.80 L137.27,205.80 L137.74,205.80 L138.21,205.80 L138.69,205.80 L139.16,205.80 L139.63,205.80 L140.11,205.81 L140.58,205.81 L141.05,205.81 L141.53,205.81 L142.00,205.81 L142.47,205.81 L142.95,205.81 L143.42,205.81 L143.89,205.81 L144.37,205.81 L144.84,205.81 L145.31,205.81 L145.79,205.81 L146.26,205.81 L146.73,205.81 L147.21,205.81 L147.68,205.81 L148.15,205.81 L148.63,205.81 L149.10,205.81 L149.57,205.81 L150.05,205.81 L150.52,205.81 L150.99,205.81 L151.47,205.81 L151.94,205.81 L152.41,205.81 L152.89,205.81 L153.36,205.81 L153.83,205.81 L154.31,205.81 L154.78,205.81 L155.25,205.81 L155.73,205.81 L156.20,205.81 L156.67,205.81 L157.15,205.81 L157.62,205.81 L158.09,205.81 L158.57,205.81 L159.04,205.81 L159.51,205.81 L159.99,205.81 L160.46,205.81 L160.93,205.81 L161.41,205.81 L161.88,205.81 L162.35,205.81 L162.83,205.81 L163.30,205.81 L163.77,205.81 L164.25,205.81 L164.72,205.81 L165.19,205.81 L165.67,205.81 L166.14,205.81 L166.61,205.81 L167.09,205.81 L167.56,205.81 L168.03,205.81 L168.51,205.81 L168.98,205.81 L169.45,205.81 L169.93,205.81 L170.40,205.81 L170.87,205.81 L171.35,205.81 L171.82,205.81 L172.29,205.81 L172.77,205.81 L173.24,205.81 L173.71,205.81 L174.19,205.81 L174.66,205.81 L175.13,205.81 L175.61,205.81 L176.08,205.81 L176.55,205.81 L177.03,205.81 L177.50,205.81" stroke="#5050e8" stroke-width="1.05" fill="none"/>
<path d="M35.50,205.48 L35.97,205.47 L36.45,205.47 L36.92,205.46 L37.39,205.46 L37.87,205.45 L38.34,205.45 L38.81,205.44 L39.29,205.44 L39.76,205.44 L40.23,205.43 L40.71,205.43 L41.18,205.42 L41.65,205.42 L42.13,205.41 L42.60,205.40 L43.07,205.40 L43.55,205.39 L44.02,205.39 L44.49,205.38 L44.97,205.38 L45.44,205.37 L45.91,205.36 L46.39,205.36 L46.86,205.35 L47.33,205.34 L47.81,205.34 L48.28,205.33 L48.75,205.32 L49.23,205.32 L49.70,205.31 L50.17,205.30 L50.65,205.29 L51.12,205.28 L51.59,205.28 L52.07,205.27 L52.54,205.26 L53.01,205.25 L53.49,205.24 L53.96,205.23 L54.43,205.22 L54.91,205.21 L55.38,205.20 L55.85,205.19 L56.33,205.18 L56.80,205.17 L57.27,205.16 L57.75,205.15 L58.22,205.14 L58.69,205.13 L59.17,205.11 L59.64,205.10 L60.11,205.09 L60.59,205.08 L61.06,205.06 L61.53,205.05 L62.01,205.03 L62.48,205.02 L62.95,205.00 L63.43,204.99 L63.90,204.97 L64.37,204.96 L64.85,204.94 L65.32,204.92 L65.79,204.90 L66.27,204.89 L66.74,204.87 L67.21,204.85 L67.69,204.83 L68.16,204.81 L68.63,204.78 L69.11,204.76 L69.58,204.74 L70.05,204.71 L70.53,204.69 L71.00,204.66 L71.47,204.64 L71.95,204.61 L72.42,204.58 L72.89,204.55 L73.37,204.52 L73.84,204.49 L74.31,204.46 L74.79,204.43 L75.26,204.39 L75.73,204.36 L76.21,204.32 L76.68,204.28 L77.15,204.24 L77.63,204.20 L78.10,204.16 L78.57,204.11 L79.05,204.06 L79.52,204.01 L79.99,203.96 L80.47,203.91 L80.94,203.86 L81.41,203.80 L81.89,203.74 L82.36,203.67 L82.83,203.61 L83.31,203.54 L83.78,203.47 L84.25,203.39 L84.73,203.32 L85.20,203.23 L85.67,203.15 L86.15,203.06 L86.62,202.96 L87.09,202.86 L87.57,202.76 L88.04,202.65 L88.51,202.53 L88.99,202.41 L89.46,202.28 L89.93,202.15 L90.41,202.01 L90.88,201.86 L91.35,201.70 L91.83,201.53 L92.30,201.35 L92.77,201.17 L93.25,200.97 L93.72,200.76 L94.19,200.54 L94.67,200.30 L95.14,200.06 L95.61,199.79 L96.09,199.51 L96.56,199.22 L97.03,198.90 L97.51,198.57 L97.98,198.21 L98.45,197.84 L98.93,197.44 L99.40,197.02 L99.87,196.58 L100.35,196.10 L100.82,195.61 L101.29,195.08 L101.77,194.53 L102.24,193.96 L102.71,193.36 L103.19,192.73 L103.66,192.08 L104.13,191.42 L104.61,190.74 L105.08,190.05 L105.55,189.36 L106.03,188.67 L106.50,188.00 L106.97,187.36 L107.45,186.75 L107.92,186.19 L108.39,185.69 L108.87,185.26 L109.34,184.92 L109.81,184.66 L110.29,184.51 L110.76,184.45 L111.23,184.50 L111.71,184.64 L112.18,184.88 L112.65,185.21 L113.13,185.62 L113.60,186.09 L114.07,186.61 L114.55,187.18 L115.02,187.78 L115.49,188.41 L115.97,189.04 L116.44,189.68 L116.91,190.32 L117.39,190.96 L117.86,191.58 L118.33,192.19 L118.81,192.79 L119.28,193.37 L119.75,193.93 L120.23,194.47 L120.70,194.99 L121.17,195.49 L121.65,195.97 L122.12,196.44 L122.59,196.88 L123.07,197.31 L123.54,197.72 L124.01,198.11 L124.49,198.48 L124.96,198.84 L125.43,199.18 L125.91,199.50 L126.38,199.80 L126.85,200.08 L127.33,200.35 L127.80,200.61 L128.27,200.85 L128.75,201.07 L129.22,201.28 L129.69,201.48 L130.17,201.67 L130.64,201.84 L131.11,202.01 L131.59,202.16 L132.06,202.30 L132.53,202.44 L133.01,202.57 L133.48,202.69 L133.95,202.80 L134.43,202.90 L134.90,203.01 L135.37,203.10 L135.85,203.19 L136.32,203.28 L136.79,203.36 L137.27,203.44 L137.74,203.51 L138.21,203.58 L138.69,203.65 L139.16,203.71 L139.63,203.77 L140.11,203.83 L140.58,203.89 L141.05,203.94 L141.53,203.99 L142.00,204.04 L142.47,204.09 L142.95,204.14 L143.42,204.18 L143.89,204.22 L144.37,204.27 L144.84,204.30 L145.31,204.34 L145.79,204.38 L146.26,204.41 L146.73,204.45 L147.21,204.48 L147.68,204.51 L148.15,204.54 L148.63,204.57 L149.10,204.60 L149.57,204.63 L150.05,204.65 L150.52,204.68 L150.99,204.71 L151.47,204.73 L151.94,204.75 L152.41,204.78 L152.89,204.80 L153.36,204.82 L153.83,204.84 L154.31,204.86 L154.78,204.88 L155.25,204.90 L155.73,204.91 L156.20,204.93 L156.67,204.95 L157.15,204.97 L157.62,204.98 L158.09,205.00 L158.57,205.01 L159.04,205.03 L159.51,205.04 L159.99,205.06 L160.46,205.07 L160.93,205.08 L161.41,205.10 L161.88,205.11 L162.35,205.12 L162.83,205.13 L163.30,205.15 L163.77,205.16 L164.25,205.17 L164.72,205.18 L165.19,205.19 L165.67,205.20 L166.14,205.21 L166.61,205.22 L167.09,205.23 L167.56,205.24 L168.03,205.25 L168.51,205.26 L168.98,205.26 L169.45,205.27 L169.93,205.28 L170.40,205.29 L170.87,205.30 L171.35,205.30 L171.82,205.31 L172.29,205.32 L172.77,205.33 L173.24,205.33 L173.71,205.34 L174.19,205.35 L174.66,205.35 L175.13,205.36 L175.61,205.37 L176.08,205.37 L176.55,205.38 L177.03,205.39 L177.50,205.39" stroke="#222" stroke-width="1.15" fill="none"/>
</g>
<rect x="35.50" y="155.50" width="142.00" height="53.30" fill="none" stroke="#3a3a3a" stroke-width="1.2"/>
<text x="30.90" y="208.61" font-size="8.5" text-anchor="end">0</text>
<text x="30.90" y="192.85" font-size="8.5" text-anchor="end">5</text>
<text x="30.90" y="177.09" font-size="8.5" text-anchor="end">10</text>
<text x="30.90" y="161.33" font-size="8.5" text-anchor="end">15</text>
<text x="35.50" y="220.30" font-size="8.9" text-anchor="middle">1.8</text>
<text x="82.83" y="220.30" font-size="8.9" text-anchor="middle">1.9</text>
<text x="130.17" y="220.30" font-size="8.9" text-anchor="middle">2.0</text>
<text x="177.50" y="220.30" font-size="8.9" text-anchor="middle">2.1</text>
<text x="106.50" y="232.2" font-size="10.9" text-anchor="middle">Energy (eV)</text>
<clipPath id="cp10"><rect x="216.30" y="31.00" width="141.20" height="53.30"/></clipPath>
<path d="M216.30,79.61 h4.20 M216.30,74.66 h2.20 M216.30,69.72 h2.20 M216.30,64.78 h2.20 M216.30,59.84 h2.20 M216.30,54.89 h4.20 M216.30,49.95 h2.20 M216.30,45.01 h2.20 M216.30,40.07 h2.20 M216.30,35.13 h2.20 M239.83,84.30 v-2.40 M263.37,84.30 v-4.20 M286.90,84.30 v-2.40 M310.43,84.30 v-4.20 M333.97,84.30 v-2.40" stroke="#3a3a3a" stroke-width="1.3" fill="none"/>
<g clip-path="url(#cp10)">
<path d="M216.30,79.22 L217.58,79.23 L218.87,79.19 L220.15,79.31 L221.43,79.13 L222.72,79.15 L224.00,79.20 L225.29,79.06 L226.57,79.02 L227.85,79.19 L229.14,79.13 L230.42,79.05 L231.70,79.03 L232.99,79.05 L234.27,79.06 L235.55,78.83 L236.84,78.87 L238.12,79.00 L239.41,78.98 L240.69,78.72 L241.97,78.74 L243.26,78.64 L244.54,78.67 L245.82,78.76 L247.11,78.62 L248.39,78.78 L249.67,78.61 L250.96,78.49 L252.24,78.37 L253.53,78.42 L254.81,78.28 L256.09,78.14 L257.38,78.06 L258.66,77.93 L259.94,77.86 L261.23,77.80 L262.51,77.54 L263.79,77.48 L265.08,77.43 L266.36,77.22 L267.65,76.93 L268.93,76.72 L270.21,76.42 L271.50,76.16 L272.78,75.80 L274.06,75.47 L275.35,75.25 L276.63,74.45 L277.91,73.76 L279.20,73.24 L280.48,72.64 L281.77,71.64 L283.05,71.03 L284.33,70.21 L285.62,68.45 L286.90,67.39 L288.18,65.40 L289.47,64.43 L290.75,63.34 L292.03,61.05 L293.32,58.17 L294.60,56.83 L295.89,54.76 L297.17,51.47 L298.45,47.26 L299.74,43.32 L301.02,39.71 L302.30,36.08 L303.59,35.20 L304.87,36.39 L306.15,39.00 L307.44,43.21 L308.72,49.42 L310.01,55.53 L311.29,61.98 L312.57,66.33 L313.86,69.68 L315.14,72.50 L316.42,73.94 L317.71,75.15 L318.99,75.82 L320.27,76.47 L321.56,76.40 L322.84,76.85 L324.13,77.26 L325.41,77.40 L326.69,77.25 L327.98,77.75 L329.26,77.73 L330.54,77.84 L331.83,78.05 L333.11,78.27 L334.39,78.21 L335.68,78.28 L336.96,78.28 L338.25,78.38 L339.53,78.51 L340.81,78.50 L342.10,78.58 L343.38,78.65 L344.66,78.71 L345.95,78.78 L347.23,78.75 L348.51,78.91 L349.80,78.92 L351.08,78.90 L352.37,79.03 L353.65,78.99 L354.93,79.12 L356.22,79.06 L357.50,79.00" stroke="#a9ad4c" stroke-width="2.7" fill="none" stroke-linejoin="round"/>
<path d="M216.30,79.24 L216.77,79.23 L217.24,79.23 L217.71,79.23 L218.18,79.22 L218.65,79.22 L219.12,79.21 L219.59,79.21 L220.07,79.20 L220.54,79.20 L221.01,79.19 L221.48,79.19 L221.95,79.18 L222.42,79.18 L222.89,79.17 L223.36,79.16 L223.83,79.16 L224.30,79.15 L224.77,79.15 L225.24,79.14 L225.71,79.13 L226.18,79.13 L226.65,79.12 L227.13,79.12 L227.60,79.11 L228.07,79.10 L228.54,79.10 L229.01,79.09 L229.48,79.08 L229.95,79.07 L230.42,79.07 L230.89,79.06 L231.36,79.05 L231.83,79.04 L232.30,79.03 L232.77,79.03 L233.24,79.02 L233.71,79.01 L234.19,79.00 L234.66,78.99 L235.13,78.98 L235.60,78.97 L236.07,78.96 L236.54,78.95 L237.01,78.94 L237.48,78.93 L237.95,78.92 L238.42,78.91 L238.89,78.90 L239.36,78.89 L239.83,78.87 L240.30,78.86 L240.77,78.85 L241.25,78.84 L241.72,78.82 L242.19,78.81 L242.66,78.80 L243.13,78.78 L243.60,78.77 L244.07,78.75 L244.54,78.74 L245.01,78.72 L245.48,78.70 L245.95,78.69 L246.42,78.67 L246.89,78.65 L247.36,78.64 L247.83,78.62 L248.31,78.60 L248.78,78.58 L249.25,78.56 L249.72,78.54 L250.19,78.52 L250.66,78.49 L251.13,78.47 L251.60,78.45 L252.07,78.42 L252.54,78.40 L253.01,78.37 L253.48,78.35 L253.95,78.32 L254.42,78.29 L254.89,78.26 L255.37,78.23 L255.84,78.20 L256.31,78.17 L256.78,78.14 L257.25,78.11 L257.72,78.07 L258.19,78.03 L258.66,78.00 L259.13,77.96 L259.60,77.92 L260.07,77.88 L260.54,77.83 L261.01,77.79 L261.48,77.74 L261.95,77.69 L262.43,77.64 L262.90,77.59 L263.37,77.54 L263.84,77.48 L264.31,77.42 L264.78,77.36 L265.25,77.30 L265.72,77.23 L266.19,77.16 L266.66,77.09 L267.13,77.02 L267.60,76.94 L268.07,76.86 L268.54,76.78 L269.01,76.69 L269.49,76.60 L269.96,76.50 L270.43,76.40 L270.90,76.30 L271.37,76.19 L271.84,76.07 L272.31,75.95 L272.78,75.83 L273.25,75.69 L273.72,75.56 L274.19,75.41 L274.66,75.26 L275.13,75.10 L275.60,74.93 L276.07,74.75 L276.55,74.57 L277.02,74.37 L277.49,74.17 L277.96,73.95 L278.43,73.73 L278.90,73.49 L279.37,73.24 L279.84,72.98 L280.31,72.70 L280.78,72.41 L281.25,72.10 L281.72,71.78 L282.19,71.44 L282.66,71.09 L283.13,70.72 L283.61,70.33 L284.08,69.93 L284.55,69.51 L285.02,69.07 L285.49,68.61 L285.96,68.14 L286.43,67.65 L286.90,67.15 L287.37,66.64 L287.84,66.12 L288.31,65.59 L288.78,65.07 L289.25,64.54 L289.72,64.02 L290.19,63.52 L290.67,63.03 L291.14,62.57 L291.61,62.14 L292.08,61.75 L292.55,61.41 L293.02,61.12 L293.49,60.89 L293.96,60.72 L294.43,60.61 L294.90,60.58 L295.37,60.61 L295.84,60.72 L296.31,60.89 L296.78,61.12 L297.25,61.41 L297.73,61.75 L298.20,62.14 L298.67,62.57 L299.14,63.03 L299.61,63.52 L300.08,64.02 L300.55,64.54 L301.02,65.07 L301.49,65.59 L301.96,66.12 L302.43,66.64 L302.90,67.15 L303.37,67.65 L303.84,68.14 L304.31,68.61 L304.79,69.07 L305.26,69.51 L305.73,69.93 L306.20,70.33 L306.67,70.72 L307.14,71.09 L307.61,71.44 L308.08,71.78 L308.55,72.10 L309.02,72.41 L309.49,72.70 L309.96,72.98 L310.43,73.24 L310.90,73.49 L311.37,73.73 L311.85,73.95 L312.32,74.17 L312.79,74.37 L313.26,74.57 L313.73,74.75 L314.20,74.93 L314.67,75.10 L315.14,75.26 L315.61,75.41 L316.08,75.56 L316.55,75.69 L317.02,75.83 L317.49,75.95 L317.96,76.07 L318.43,76.19 L318.91,76.30 L319.38,76.40 L319.85,76.50 L320.32,76.60 L320.79,76.69 L321.26,76.78 L321.73,76.86 L322.20,76.94 L322.67,77.02 L323.14,77.09 L323.61,77.16 L324.08,77.23 L324.55,77.30 L325.02,77.36 L325.49,77.42 L325.97,77.48 L326.44,77.54 L326.91,77.59 L327.38,77.64 L327.85,77.69 L328.32,77.74 L328.79,77.79 L329.26,77.83 L329.73,77.88 L330.20,77.92 L330.67,77.96 L331.14,78.00 L331.61,78.03 L332.08,78.07 L332.55,78.11 L333.03,78.14 L333.50,78.17 L333.97,78.20 L334.44,78.23 L334.91,78.26 L335.38,78.29 L335.85,78.32 L336.32,78.35 L336.79,78.37 L337.26,78.40 L337.73,78.42 L338.20,78.45 L338.67,78.47 L339.14,78.49 L339.61,78.52 L340.09,78.54 L340.56,78.56 L341.03,78.58 L341.50,78.60 L341.97,78.62 L342.44,78.64 L342.91,78.65 L343.38,78.67 L343.85,78.69 L344.32,78.70 L344.79,78.72 L345.26,78.74 L345.73,78.75 L346.20,78.77 L346.67,78.78 L347.15,78.80 L347.62,78.81 L348.09,78.82 L348.56,78.84 L349.03,78.85 L349.50,78.86 L349.97,78.87 L350.44,78.89 L350.91,78.90 L351.38,78.91 L351.85,78.92 L352.32,78.93 L352.79,78.94 L353.26,78.95 L353.73,78.96 L354.21,78.97 L354.68,78.98 L355.15,78.99 L355.62,79.00 L356.09,79.01 L356.56,79.02 L357.03,79.03 L357.50,79.03" stroke="#e8404a" stroke-width="1.05" fill="none"/>
<path d="M216.30,79.61 L216.77,79.61 L217.24,79.61 L217.71,79.61 L218.18,79.61 L218.65,79.61 L219.12,79.61 L219.59,79.61 L220.07,79.61 L220.54,79.61 L221.01,79.61 L221.48,79.61 L221.95,79.61 L222.42,79.61 L222.89,79.61 L223.36,79.61 L223.83,79.61 L224.30,79.61 L224.77,79.61 L225.24,79.61 L225.71,79.61 L226.18,79.61 L226.65,79.61 L227.13,79.61 L227.60,79.61 L228.07,79.61 L228.54,79.61 L229.01,79.61 L229.48,79.61 L229.95,79.61 L230.42,79.61 L230.89,79.61 L231.36,79.61 L231.83,79.61 L232.30,79.61 L232.77,79.61 L233.24,79.61 L233.71,79.61 L234.19,79.61 L234.66,79.61 L235.13,79.61 L235.60,79.61 L236.07,79.61 L236.54,79.61 L237.01,79.61 L237.48,79.61 L237.95,79.61 L238.42,79.61 L238.89,79.61 L239.36,79.61 L239.83,79.61 L240.30,79.61 L240.77,79.61 L241.25,79.61 L241.72,79.61 L242.19,79.61 L242.66,79.61 L243.13,79.61 L243.60,79.61 L244.07,79.61 L244.54,79.61 L245.01,79.61 L245.48,79.61 L245.95,79.61 L246.42,79.61 L246.89,79.61 L247.36,79.61 L247.83,79.61 L248.31,79.61 L248.78,79.61 L249.25,79.61 L249.72,79.61 L250.19,79.61 L250.66,79.61 L251.13,79.61 L251.60,79.61 L252.07,79.61 L252.54,79.61 L253.01,79.61 L253.48,79.61 L253.95,79.61 L254.42,79.61 L254.89,79.61 L255.37,79.61 L255.84,79.61 L256.31,79.61 L256.78,79.61 L257.25,79.61 L257.72,79.61 L258.19,79.61 L258.66,79.61 L259.13,79.61 L259.60,79.61 L260.07,79.61 L260.54,79.61 L261.01,79.61 L261.48,79.61 L261.95,79.61 L262.43,79.61 L262.90,79.61 L263.37,79.61 L263.84,79.61 L264.31,79.61 L264.78,79.61 L265.25,79.61 L265.72,79.61 L266.19,79.61 L266.66,79.61 L267.13,79.61 L267.60,79.61 L268.07,79.61 L268.54,79.61 L269.01,79.61 L269.49,79.61 L269.96,79.61 L270.43,79.61 L270.90,79.61 L271.37,79.61 L271.84,79.61 L272.31,79.61 L272.78,79.61 L273.25,79.61 L273.72,79.61 L274.19,79.61 L274.66,79.61 L275.13,79.61 L275.60,79.61 L276.07,79.61 L276.55,79.61 L277.02,79.61 L277.49,79.61 L277.96,79.61 L278.43,79.61 L278.90,79.61 L279.37,79.61 L279.84,79.60 L280.31,79.60 L280.78,79.60 L281.25,79.60 L281.72,79.60 L282.19,79.60 L282.66,79.60 L283.13,79.60 L283.61,79.60 L284.08,79.60 L284.55,79.60 L285.02,79.60 L285.49,79.59 L285.96,79.59 L286.43,79.58 L286.90,79.57 L287.37,79.55 L287.84,79.53 L288.31,79.49 L288.78,79.45 L289.25,79.39 L289.72,79.32 L290.19,79.22 L290.67,79.09 L291.14,78.92 L291.61,78.71 L292.08,78.45 L292.55,78.13 L293.02,77.73 L293.49,77.24 L293.96,76.66 L294.43,75.97 L294.90,75.16 L295.37,74.22 L295.84,73.15 L296.31,71.93 L296.78,70.58 L297.25,69.09 L297.73,67.47 L298.20,65.74 L298.67,63.91 L299.14,62.01 L299.61,60.06 L300.08,58.11 L300.55,56.19 L301.02,54.34 L301.49,52.61 L301.96,51.04 L302.43,49.66 L302.90,48.52 L303.37,47.64 L303.84,47.05 L304.31,46.77 L304.79,46.80 L305.26,47.14 L305.73,47.79 L306.20,48.72 L306.67,49.92 L307.14,51.34 L307.61,52.95 L308.08,54.71 L308.55,56.57 L309.02,58.50 L309.49,60.45 L309.96,62.39 L310.43,64.28 L310.90,66.09 L311.37,67.81 L311.85,69.40 L312.32,70.86 L312.79,72.19 L313.26,73.37 L313.73,74.42 L314.20,75.33 L314.67,76.11 L315.14,76.78 L315.61,77.34 L316.08,77.81 L316.55,78.20 L317.02,78.51 L317.49,78.76 L317.96,78.96 L318.43,79.12 L318.91,79.24 L319.38,79.33 L319.85,79.41 L320.32,79.46 L320.79,79.50 L321.26,79.53 L321.73,79.55 L322.20,79.57 L322.67,79.58 L323.14,79.59 L323.61,79.59 L324.08,79.60 L324.55,79.60 L325.02,79.60 L325.49,79.60 L325.97,79.60 L326.44,79.60 L326.91,79.60 L327.38,79.60 L327.85,79.60 L328.32,79.60 L328.79,79.60 L329.26,79.60 L329.73,79.61 L330.20,79.61 L330.67,79.61 L331.14,79.61 L331.61,79.61 L332.08,79.61 L332.55,79.61 L333.03,79.61 L333.50,79.61 L333.97,79.61 L334.44,79.61 L334.91,79.61 L335.38,79.61 L335.85,79.61 L336.32,79.61 L336.79,79.61 L337.26,79.61 L337.73,79.61 L338.20,79.61 L338.67,79.61 L339.14,79.61 L339.61,79.61 L340.09,79.61 L340.56,79.61 L341.03,79.61 L341.50,79.61 L341.97,79.61 L342.44,79.61 L342.91,79.61 L343.38,79.61 L343.85,79.61 L344.32,79.61 L344.79,79.61 L345.26,79.61 L345.73,79.61 L346.20,79.61 L346.67,79.61 L347.15,79.61 L347.62,79.61 L348.09,79.61 L348.56,79.61 L349.03,79.61 L349.50,79.61 L349.97,79.61 L350.44,79.61 L350.91,79.61 L351.38,79.61 L351.85,79.61 L352.32,79.61 L352.79,79.61 L353.26,79.61 L353.73,79.61 L354.21,79.61 L354.68,79.61 L355.15,79.61 L355.62,79.61 L356.09,79.61 L356.56,79.61 L357.03,79.61 L357.50,79.61" stroke="#5050e8" stroke-width="1.05" fill="none"/>
<path d="M216.30,79.24 L216.77,79.23 L217.24,79.23 L217.71,79.23 L218.18,79.22 L218.65,79.22 L219.12,79.21 L219.59,79.21 L220.07,79.20 L220.54,79.20 L221.01,79.19 L221.48,79.19 L221.95,79.18 L222.42,79.18 L222.89,79.17 L223.36,79.16 L223.83,79.16 L224.30,79.15 L224.77,79.15 L225.24,79.14 L225.71,79.13 L226.18,79.13 L226.65,79.12 L227.13,79.12 L227.60,79.11 L228.07,79.10 L228.54,79.10 L229.01,79.09 L229.48,79.08 L229.95,79.07 L230.42,79.07 L230.89,79.06 L231.36,79.05 L231.83,79.04 L232.30,79.03 L232.77,79.03 L233.24,79.02 L233.71,79.01 L234.19,79.00 L234.66,78.99 L235.13,78.98 L235.60,78.97 L236.07,78.96 L236.54,78.95 L237.01,78.94 L237.48,78.93 L237.95,78.92 L238.42,78.91 L238.89,78.90 L239.36,78.89 L239.83,78.87 L240.30,78.86 L240.77,78.85 L241.25,78.84 L241.72,78.82 L242.19,78.81 L242.66,78.80 L243.13,78.78 L243.60,78.77 L244.07,78.75 L244.54,78.74 L245.01,78.72 L245.48,78.70 L245.95,78.69 L246.42,78.67 L246.89,78.65 L247.36,78.64 L247.83,78.62 L248.31,78.60 L248.78,78.58 L249.25,78.56 L249.72,78.54 L250.19,78.52 L250.66,78.49 L251.13,78.47 L251.60,78.45 L252.07,78.42 L252.54,78.40 L253.01,78.37 L253.48,78.35 L253.95,78.32 L254.42,78.29 L254.89,78.26 L255.37,78.23 L255.84,78.20 L256.31,78.17 L256.78,78.14 L257.25,78.11 L257.72,78.07 L258.19,78.03 L258.66,78.00 L259.13,77.96 L259.60,77.92 L260.07,77.88 L260.54,77.83 L261.01,77.79 L261.48,77.74 L261.95,77.69 L262.43,77.64 L262.90,77.59 L263.37,77.54 L263.84,77.48 L264.31,77.42 L264.78,77.36 L265.25,77.30 L265.72,77.23 L266.19,77.16 L266.66,77.09 L267.13,77.02 L267.60,76.94 L268.07,76.86 L268.54,76.78 L269.01,76.69 L269.49,76.60 L269.96,76.50 L270.43,76.40 L270.90,76.30 L271.37,76.19 L271.84,76.07 L272.31,75.95 L272.78,75.83 L273.25,75.69 L273.72,75.56 L274.19,75.41 L274.66,75.26 L275.13,75.10 L275.60,74.93 L276.07,74.75 L276.55,74.57 L277.02,74.37 L277.49,74.17 L277.96,73.95 L278.43,73.73 L278.90,73.49 L279.37,73.24 L279.84,72.98 L280.31,72.70 L280.78,72.41 L281.25,72.10 L281.72,71.78 L282.19,71.44 L282.66,71.09 L283.13,70.72 L283.61,70.33 L284.08,69.92 L284.55,69.50 L285.02,69.06 L285.49,68.60 L285.96,68.12 L286.43,67.62 L286.90,67.11 L287.37,66.58 L287.84,66.04 L288.31,65.48 L288.78,64.91 L289.25,64.33 L289.72,63.73 L290.19,63.13 L290.67,62.51 L291.14,61.89 L291.61,61.25 L292.08,60.60 L292.55,59.93 L293.02,59.24 L293.49,58.52 L293.96,57.77 L294.43,56.97 L294.90,56.13 L295.37,55.23 L295.84,54.26 L296.31,53.22 L296.78,52.09 L297.25,50.90 L297.73,49.62 L298.20,48.27 L298.67,46.87 L299.14,45.43 L299.61,43.97 L300.08,42.53 L300.55,41.13 L301.02,39.81 L301.49,38.60 L301.96,37.55 L302.43,36.69 L302.90,36.06 L303.37,35.68 L303.84,35.58 L304.31,35.77 L304.79,36.26 L305.26,37.04 L305.73,38.11 L306.20,39.45 L306.67,41.03 L307.14,42.82 L307.61,44.79 L308.08,46.88 L308.55,49.07 L309.02,51.30 L309.49,53.55 L309.96,55.76 L310.43,57.92 L310.90,59.98 L311.37,61.93 L311.85,63.75 L312.32,65.43 L312.79,66.96 L313.26,68.34 L313.73,69.57 L314.20,70.65 L314.67,71.61 L315.14,72.43 L315.61,73.15 L316.08,73.76 L316.55,74.28 L317.02,74.73 L317.49,75.11 L317.96,75.43 L318.43,75.70 L318.91,75.93 L319.38,76.13 L319.85,76.30 L320.32,76.45 L320.79,76.58 L321.26,76.70 L321.73,76.81 L322.20,76.90 L322.67,76.99 L323.14,77.08 L323.61,77.15 L324.08,77.22 L324.55,77.29 L325.02,77.36 L325.49,77.42 L325.97,77.48 L326.44,77.54 L326.91,77.59 L327.38,77.64 L327.85,77.69 L328.32,77.74 L328.79,77.79 L329.26,77.83 L329.73,77.88 L330.20,77.92 L330.67,77.96 L331.14,78.00 L331.61,78.03 L332.08,78.07 L332.55,78.11 L333.03,78.14 L333.50,78.17 L333.97,78.20 L334.44,78.23 L334.91,78.26 L335.38,78.29 L335.85,78.32 L336.32,78.35 L336.79,78.37 L337.26,78.40 L337.73,78.42 L338.20,78.45 L338.67,78.47 L339.14,78.49 L339.61,78.52 L340.09,78.54 L340.56,78.56 L341.03,78.58 L341.50,78.60 L341.97,78.62 L342.44,78.64 L342.91,78.65 L343.38,78.67 L343.85,78.69 L344.32,78.70 L344.79,78.72 L345.26,78.74 L345.73,78.75 L346.20,78.77 L346.67,78.78 L347.15,78.80 L347.62,78.81 L348.09,78.82 L348.56,78.84 L349.03,78.85 L349.50,78.86 L349.97,78.87 L350.44,78.89 L350.91,78.90 L351.38,78.91 L351.85,78.92 L352.32,78.93 L352.79,78.94 L353.26,78.95 L353.73,78.96 L354.21,78.97 L354.68,78.98 L355.15,78.99 L355.62,79.00 L356.09,79.01 L356.56,79.02 L357.03,79.03 L357.50,79.03" stroke="#222" stroke-width="1.15" fill="none"/>
</g>
<rect x="216.30" y="31.00" width="141.20" height="53.30" fill="none" stroke="#3a3a3a" stroke-width="1.2"/>
<text x="211.70" y="82.41" font-size="8.5" text-anchor="end">0</text>
<text x="211.70" y="57.69" font-size="8.5" text-anchor="end">10</text>
<text x="211.70" y="32.98" font-size="8.5" text-anchor="end">20</text>
<clipPath id="cp11"><rect x="216.30" y="93.25" width="141.20" height="53.30"/></clipPath>
<path d="M216.30,141.86 h4.20 M216.30,136.91 h2.20 M216.30,131.97 h2.20 M216.30,127.03 h2.20 M216.30,122.09 h2.20 M216.30,117.14 h4.20 M216.30,112.20 h2.20 M216.30,107.26 h2.20 M216.30,102.32 h2.20 M216.30,97.38 h2.20 M239.83,146.55 v-2.40 M263.37,146.55 v-4.20 M286.90,146.55 v-2.40 M310.43,146.55 v-4.20 M333.97,146.55 v-2.40" stroke="#3a3a3a" stroke-width="1.3" fill="none"/>
<g clip-path="url(#cp11)">
<path d="M216.30,141.65 L217.58,141.68 L218.87,141.69 L220.15,141.75 L221.43,141.55 L222.72,141.62 L224.00,141.58 L225.29,141.70 L226.57,141.65 L227.85,141.74 L229.14,141.56 L230.42,141.54 L231.70,141.73 L232.99,141.59 L234.27,141.53 L235.55,141.69 L236.84,141.69 L238.12,141.62 L239.41,141.57 L240.69,141.62 L241.97,141.49 L243.26,141.45 L244.54,141.40 L245.82,141.37 L247.11,141.28 L248.39,141.28 L249.67,141.49 L250.96,141.38 L252.24,141.41 L253.53,141.38 L254.81,141.25 L256.09,141.20 L257.38,141.10 L258.66,141.30 L259.94,141.21 L261.23,141.00 L262.51,140.96 L263.79,140.91 L265.08,140.80 L266.36,140.82 L267.65,140.50 L268.93,140.44 L270.21,140.39 L271.50,140.35 L272.78,140.11 L274.06,140.42 L275.35,139.89 L276.63,139.44 L277.91,139.51 L279.20,138.81 L280.48,138.46 L281.77,138.43 L283.05,137.65 L284.33,137.11 L285.62,136.23 L286.90,135.45 L288.18,134.89 L289.47,134.38 L290.75,133.30 L292.03,132.53 L293.32,131.57 L294.60,131.33 L295.89,131.58 L297.17,131.85 L298.45,131.55 L299.74,131.96 L301.02,132.44 L302.30,132.43 L303.59,133.09 L304.87,133.48 L306.15,134.07 L307.44,135.26 L308.72,135.23 L310.01,136.97 L311.29,137.37 L312.57,138.34 L313.86,138.70 L315.14,139.92 L316.42,139.92 L317.71,140.00 L318.99,140.15 L320.27,140.03 L321.56,140.49 L322.84,140.46 L324.13,140.64 L325.41,140.70 L326.69,140.84 L327.98,140.99 L329.26,140.97 L330.54,141.21 L331.83,141.00 L333.11,141.29 L334.39,141.19 L335.68,141.03 L336.96,141.31 L338.25,141.32 L339.53,141.24 L340.81,141.37 L342.10,141.48 L343.38,141.40 L344.66,141.39 L345.95,141.40 L347.23,141.55 L348.51,141.36 L349.80,141.38 L351.08,141.53 L352.37,141.52 L353.65,141.59 L354.93,141.47 L356.22,141.63 L357.50,141.54" stroke="#a9ad4c" stroke-width="2.7" fill="none" stroke-linejoin="round"/>
<path d="M216.30,141.69 L216.77,141.68 L217.24,141.68 L217.71,141.68 L218.18,141.68 L218.65,141.68 L219.12,141.67 L219.59,141.67 L220.07,141.67 L220.54,141.67 L221.01,141.66 L221.48,141.66 L221.95,141.66 L222.42,141.66 L222.89,141.65 L223.36,141.65 L223.83,141.65 L224.30,141.65 L224.77,141.64 L225.24,141.64 L225.71,141.64 L226.18,141.64 L226.65,141.63 L227.13,141.63 L227.60,141.63 L228.07,141.62 L228.54,141.62 L229.01,141.62 L229.48,141.61 L229.95,141.61 L230.42,141.61 L230.89,141.60 L231.36,141.60 L231.83,141.60 L232.30,141.59 L232.77,141.59 L233.24,141.58 L233.71,141.58 L234.19,141.58 L234.66,141.57 L235.13,141.57 L235.60,141.56 L236.07,141.56 L236.54,141.55 L237.01,141.55 L237.48,141.54 L237.95,141.54 L238.42,141.53 L238.89,141.53 L239.36,141.52 L239.83,141.52 L240.30,141.51 L240.77,141.51 L241.25,141.50 L241.72,141.49 L242.19,141.49 L242.66,141.48 L243.13,141.47 L243.60,141.47 L244.07,141.46 L244.54,141.45 L245.01,141.45 L245.48,141.44 L245.95,141.43 L246.42,141.42 L246.89,141.42 L247.36,141.41 L247.83,141.40 L248.31,141.39 L248.78,141.38 L249.25,141.37 L249.72,141.36 L250.19,141.35 L250.66,141.34 L251.13,141.33 L251.60,141.32 L252.07,141.31 L252.54,141.30 L253.01,141.29 L253.48,141.27 L253.95,141.26 L254.42,141.25 L254.89,141.23 L255.37,141.22 L255.84,141.21 L256.31,141.19 L256.78,141.18 L257.25,141.16 L257.72,141.14 L258.19,141.13 L258.66,141.11 L259.13,141.09 L259.60,141.07 L260.07,141.05 L260.54,141.03 L261.01,141.01 L261.48,140.99 L261.95,140.97 L262.43,140.94 L262.90,140.92 L263.37,140.89 L263.84,140.87 L264.31,140.84 L264.78,140.81 L265.25,140.78 L265.72,140.75 L266.19,140.72 L266.66,140.68 L267.13,140.65 L267.60,140.61 L268.07,140.57 L268.54,140.53 L269.01,140.49 L269.49,140.45 L269.96,140.40 L270.43,140.35 L270.90,140.30 L271.37,140.25 L271.84,140.20 L272.31,140.14 L272.78,140.08 L273.25,140.02 L273.72,139.95 L274.19,139.88 L274.66,139.80 L275.13,139.73 L275.60,139.65 L276.07,139.56 L276.55,139.47 L277.02,139.37 L277.49,139.27 L277.96,139.17 L278.43,139.06 L278.90,138.94 L279.37,138.81 L279.84,138.68 L280.31,138.54 L280.78,138.40 L281.25,138.24 L281.72,138.08 L282.19,137.91 L282.66,137.73 L283.13,137.54 L283.61,137.34 L284.08,137.13 L284.55,136.91 L285.02,136.68 L285.49,136.44 L285.96,136.19 L286.43,135.93 L286.90,135.67 L287.37,135.39 L287.84,135.11 L288.31,134.82 L288.78,134.53 L289.25,134.24 L289.72,133.95 L290.19,133.66 L290.67,133.39 L291.14,133.13 L291.61,132.88 L292.08,132.66 L292.55,132.46 L293.02,132.29 L293.49,132.15 L293.96,132.05 L294.43,131.99 L294.90,131.97 L295.37,131.99 L295.84,132.05 L296.31,132.15 L296.78,132.29 L297.25,132.46 L297.73,132.66 L298.20,132.88 L298.67,133.13 L299.14,133.39 L299.61,133.66 L300.08,133.95 L300.55,134.24 L301.02,134.53 L301.49,134.82 L301.96,135.11 L302.43,135.39 L302.90,135.67 L303.37,135.93 L303.84,136.19 L304.31,136.44 L304.79,136.68 L305.26,136.91 L305.73,137.13 L306.20,137.34 L306.67,137.54 L307.14,137.73 L307.61,137.91 L308.08,138.08 L308.55,138.24 L309.02,138.40 L309.49,138.54 L309.96,138.68 L310.43,138.81 L310.90,138.94 L311.37,139.06 L311.85,139.17 L312.32,139.27 L312.79,139.37 L313.26,139.47 L313.73,139.56 L314.20,139.65 L314.67,139.73 L315.14,139.80 L315.61,139.88 L316.08,139.95 L316.55,140.02 L317.02,140.08 L317.49,140.14 L317.96,140.20 L318.43,140.25 L318.91,140.30 L319.38,140.35 L319.85,140.40 L320.32,140.45 L320.79,140.49 L321.26,140.53 L321.73,140.57 L322.20,140.61 L322.67,140.65 L323.14,140.68 L323.61,140.72 L324.08,140.75 L324.55,140.78 L325.02,140.81 L325.49,140.84 L325.97,140.87 L326.44,140.89 L326.91,140.92 L327.38,140.94 L327.85,140.97 L328.32,140.99 L328.79,141.01 L329.26,141.03 L329.73,141.05 L330.20,141.07 L330.67,141.09 L331.14,141.11 L331.61,141.13 L332.08,141.14 L332.55,141.16 L333.03,141.18 L333.50,141.19 L333.97,141.21 L334.44,141.22 L334.91,141.23 L335.38,141.25 L335.85,141.26 L336.32,141.27 L336.79,141.29 L337.26,141.30 L337.73,141.31 L338.20,141.32 L338.67,141.33 L339.14,141.34 L339.61,141.35 L340.09,141.36 L340.56,141.37 L341.03,141.38 L341.50,141.39 L341.97,141.40 L342.44,141.41 L342.91,141.42 L343.38,141.42 L343.85,141.43 L344.32,141.44 L344.79,141.45 L345.26,141.45 L345.73,141.46 L346.20,141.47 L346.67,141.47 L347.15,141.48 L347.62,141.49 L348.09,141.49 L348.56,141.50 L349.03,141.51 L349.50,141.51 L349.97,141.52 L350.44,141.52 L350.91,141.53 L351.38,141.53 L351.85,141.54 L352.32,141.54 L352.79,141.55 L353.26,141.55 L353.73,141.56 L354.21,141.56 L354.68,141.57 L355.15,141.57 L355.62,141.58 L356.09,141.58 L356.56,141.58 L357.03,141.59 L357.50,141.59" stroke="#e8404a" stroke-width="1.05" fill="none"/>
<path d="M216.30,141.86 L216.77,141.86 L217.24,141.86 L217.71,141.86 L218.18,141.86 L218.65,141.86 L219.12,141.86 L219.59,141.86 L220.07,141.86 L220.54,141.86 L221.01,141.86 L221.48,141.86 L221.95,141.86 L222.42,141.86 L222.89,141.86 L223.36,141.86 L223.83,141.86 L224.30,141.86 L224.77,141.86 L225.24,141.86 L225.71,141.86 L226.18,141.86 L226.65,141.86 L227.13,141.86 L227.60,141.86 L228.07,141.86 L228.54,141.86 L229.01,141.86 L229.48,141.86 L229.95,141.86 L230.42,141.86 L230.89,141.86 L231.36,141.86 L231.83,141.86 L232.30,141.86 L232.77,141.86 L233.24,141.86 L233.71,141.86 L234.19,141.86 L234.66,141.86 L235.13,141.86 L235.60,141.86 L236.07,141.86 L236.54,141.86 L237.01,141.86 L237.48,141.86 L237.95,141.86 L238.42,141.86 L238.89,141.86 L239.36,141.86 L239.83,141.86 L240.30,141.86 L240.77,141.86 L241.25,141.86 L241.72,141.86 L242.19,141.86 L242.66,141.86 L243.13,141.86 L243.60,141.86 L244.07,141.86 L244.54,141.86 L245.01,141.86 L245.48,141.86 L245.95,141.86 L246.42,141.86 L246.89,141.86 L247.36,141.86 L247.83,141.86 L248.31,141.86 L248.78,141.86 L249.25,141.86 L249.72,141.86 L250.19,141.86 L250.66,141.86 L251.13,141.86 L251.60,141.86 L252.07,141.86 L252.54,141.86 L253.01,141.86 L253.48,141.86 L253.95,141.86 L254.42,141.86 L254.89,141.86 L255.37,141.86 L255.84,141.86 L256.31,141.86 L256.78,141.86 L257.25,141.86 L257.72,141.86 L258.19,141.86 L258.66,141.86 L259.13,141.86 L259.60,141.86 L260.07,141.86 L260.54,141.86 L261.01,141.86 L261.48,141.86 L261.95,141.86 L262.43,141.86 L262.90,141.86 L263.37,141.86 L263.84,141.86 L264.31,141.86 L264.78,141.86 L265.25,141.86 L265.72,141.86 L266.19,141.86 L266.66,141.86 L267.13,141.86 L267.60,141.86 L268.07,141.86 L268.54,141.86 L269.01,141.86 L269.49,141.86 L269.96,141.86 L270.43,141.86 L270.90,141.86 L271.37,141.86 L271.84,141.86 L272.31,141.86 L272.78,141.86 L273.25,141.86 L273.72,141.86 L274.19,141.86 L274.66,141.86 L275.13,141.86 L275.60,141.86 L276.07,141.86 L276.55,141.86 L277.02,141.86 L277.49,141.86 L277.96,141.86 L278.43,141.86 L278.90,141.86 L279.37,141.86 L279.84,141.86 L280.31,141.85 L280.78,141.85 L281.25,141.85 L281.72,141.85 L282.19,141.85 L282.66,141.85 L283.13,141.85 L283.61,141.85 L284.08,141.85 L284.55,141.85 L285.02,141.85 L285.49,141.85 L285.96,141.85 L286.43,141.85 L286.90,141.85 L287.37,141.84 L287.84,141.84 L288.31,141.83 L288.78,141.82 L289.25,141.81 L289.72,141.80 L290.19,141.78 L290.67,141.76 L291.14,141.74 L291.61,141.71 L292.08,141.67 L292.55,141.63 L293.02,141.58 L293.49,141.52 L293.96,141.45 L294.43,141.37 L294.90,141.28 L295.37,141.18 L295.84,141.06 L296.31,140.94 L296.78,140.80 L297.25,140.65 L297.73,140.49 L298.20,140.33 L298.67,140.15 L299.14,139.98 L299.61,139.80 L300.08,139.63 L300.55,139.46 L301.02,139.29 L301.49,139.14 L301.96,139.01 L302.43,138.89 L302.90,138.79 L303.37,138.72 L303.84,138.67 L304.31,138.64 L304.79,138.65 L305.26,138.68 L305.73,138.73 L306.20,138.81 L306.67,138.91 L307.14,139.03 L307.61,139.17 L308.08,139.32 L308.55,139.49 L309.02,139.66 L309.49,139.84 L309.96,140.01 L310.43,140.19 L310.90,140.36 L311.37,140.52 L311.85,140.68 L312.32,140.83 L312.79,140.96 L313.26,141.09 L313.73,141.20 L314.20,141.30 L314.67,141.39 L315.14,141.47 L315.61,141.53 L316.08,141.59 L316.55,141.64 L317.02,141.68 L317.49,141.72 L317.96,141.75 L318.43,141.77 L318.91,141.79 L319.38,141.80 L319.85,141.82 L320.32,141.82 L320.79,141.83 L321.26,141.84 L321.73,141.84 L322.20,141.85 L322.67,141.85 L323.14,141.85 L323.61,141.85 L324.08,141.85 L324.55,141.85 L325.02,141.85 L325.49,141.85 L325.97,141.85 L326.44,141.85 L326.91,141.85 L327.38,141.85 L327.85,141.85 L328.32,141.85 L328.79,141.85 L329.26,141.86 L329.73,141.86 L330.20,141.86 L330.67,141.86 L331.14,141.86 L331.61,141.86 L332.08,141.86 L332.55,141.86 L333.03,141.86 L333.50,141.86 L333.97,141.86 L334.44,141.86 L334.91,141.86 L335.38,141.86 L335.85,141.86 L336.32,141.86 L336.79,141.86 L337.26,141.86 L337.73,141.86 L338.20,141.86 L338.67,141.86 L339.14,141.86 L339.61,141.86 L340.09,141.86 L340.56,141.86 L341.03,141.86 L341.50,141.86 L341.97,141.86 L342.44,141.86 L342.91,141.86 L343.38,141.86 L343.85,141.86 L344.32,141.86 L344.79,141.86 L345.26,141.86 L345.73,141.86 L346.20,141.86 L346.67,141.86 L347.15,141.86 L347.62,141.86 L348.09,141.86 L348.56,141.86 L349.03,141.86 L349.50,141.86 L349.97,141.86 L350.44,141.86 L350.91,141.86 L351.38,141.86 L351.85,141.86 L352.32,141.86 L352.79,141.86 L353.26,141.86 L353.73,141.86 L354.21,141.86 L354.68,141.86 L355.15,141.86 L355.62,141.86 L356.09,141.86 L356.56,141.86 L357.03,141.86 L357.50,141.86" stroke="#5050e8" stroke-width="1.05" fill="none"/>
<path d="M216.30,141.69 L216.77,141.68 L217.24,141.68 L217.71,141.68 L218.18,141.68 L218.65,141.68 L219.12,141.67 L219.59,141.67 L220.07,141.67 L220.54,141.67 L221.01,141.66 L221.48,141.66 L221.95,141.66 L222.42,141.66 L222.89,141.65 L223.36,141.65 L223.83,141.65 L224.30,141.65 L224.77,141.64 L225.24,141.64 L225.71,141.64 L226.18,141.64 L226.65,141.63 L227.13,141.63 L227.60,141.63 L228.07,141.62 L228.54,141.62 L229.01,141.62 L229.48,141.61 L229.95,141.61 L230.42,141.61 L230.89,141.60 L231.36,141.60 L231.83,141.60 L232.30,141.59 L232.77,141.59 L233.24,141.58 L233.71,141.58 L234.19,141.58 L234.66,141.57 L235.13,141.57 L235.60,141.56 L236.07,141.56 L236.54,141.55 L237.01,141.55 L237.48,141.54 L237.95,141.54 L238.42,141.53 L238.89,141.53 L239.36,141.52 L239.83,141.52 L240.30,141.51 L240.77,141.51 L241.25,141.50 L241.72,141.49 L242.19,141.49 L242.66,141.48 L243.13,141.47 L243.60,141.47 L244.07,141.46 L244.54,141.45 L245.01,141.45 L245.48,141.44 L245.95,141.43 L246.42,141.42 L246.89,141.42 L247.36,141.41 L247.83,141.40 L248.31,141.39 L248.78,141.38 L249.25,141.37 L249.72,141.36 L250.19,141.35 L250.66,141.34 L251.13,141.33 L251.60,141.32 L252.07,141.31 L252.54,141.30 L253.01,141.29 L253.48,141.27 L253.95,141.26 L254.42,141.25 L254.89,141.23 L255.37,141.22 L255.84,141.21 L256.31,141.19 L256.78,141.18 L257.25,141.16 L257.72,141.14 L258.19,141.13 L258.66,141.11 L259.13,141.09 L259.60,141.07 L260.07,141.05 L260.54,141.03 L261.01,141.01 L261.48,140.99 L261.95,140.97 L262.43,140.94 L262.90,140.92 L263.37,140.89 L263.84,140.87 L264.31,140.84 L264.78,140.81 L265.25,140.78 L265.72,140.75 L266.19,140.72 L266.66,140.68 L267.13,140.65 L267.60,140.61 L268.07,140.57 L268.54,140.53 L269.01,140.49 L269.49,140.45 L269.96,140.40 L270.43,140.35 L270.90,140.30 L271.37,140.25 L271.84,140.20 L272.31,140.14 L272.78,140.08 L273.25,140.02 L273.72,139.95 L274.19,139.88 L274.66,139.80 L275.13,139.73 L275.60,139.65 L276.07,139.56 L276.55,139.47 L277.02,139.37 L277.49,139.27 L277.96,139.17 L278.43,139.06 L278.90,138.94 L279.37,138.81 L279.84,138.68 L280.31,138.54 L280.78,138.40 L281.25,138.24 L281.72,138.08 L282.19,137.91 L282.66,137.73 L283.13,137.54 L283.61,137.34 L284.08,137.13 L284.55,136.91 L285.02,136.68 L285.49,136.44 L285.96,136.19 L286.43,135.93 L286.90,135.66 L287.37,135.38 L287.84,135.09 L288.31,134.80 L288.78,134.50 L289.25,134.20 L289.72,133.89 L290.19,133.59 L290.67,133.30 L291.14,133.01 L291.61,132.74 L292.08,132.47 L292.55,132.23 L293.02,132.01 L293.49,131.82 L293.96,131.65 L294.43,131.51 L294.90,131.40 L295.37,131.31 L295.84,131.26 L296.31,131.23 L296.78,131.23 L297.25,131.25 L297.73,131.29 L298.20,131.35 L298.67,131.42 L299.14,131.51 L299.61,131.61 L300.08,131.72 L300.55,131.84 L301.02,131.97 L301.49,132.11 L301.96,132.26 L302.43,132.42 L302.90,132.60 L303.37,132.80 L303.84,133.01 L304.31,133.23 L304.79,133.48 L305.26,133.73 L305.73,134.01 L306.20,134.30 L306.67,134.60 L307.14,134.91 L307.61,135.23 L308.08,135.55 L308.55,135.88 L309.02,136.20 L309.49,136.53 L309.96,136.84 L310.43,137.15 L310.90,137.44 L311.37,137.72 L311.85,137.99 L312.32,138.24 L312.79,138.48 L313.26,138.70 L313.73,138.90 L314.20,139.09 L314.67,139.26 L315.14,139.42 L315.61,139.56 L316.08,139.68 L316.55,139.80 L317.02,139.91 L317.49,140.00 L317.96,140.09 L318.43,140.17 L318.91,140.24 L319.38,140.30 L319.85,140.36 L320.32,140.42 L320.79,140.47 L321.26,140.52 L321.73,140.56 L322.20,140.60 L322.67,140.64 L323.14,140.68 L323.61,140.71 L324.08,140.75 L324.55,140.78 L325.02,140.81 L325.49,140.84 L325.97,140.87 L326.44,140.89 L326.91,140.92 L327.38,140.94 L327.85,140.97 L328.32,140.99 L328.79,141.01 L329.26,141.03 L329.73,141.05 L330.20,141.07 L330.67,141.09 L331.14,141.11 L331.61,141.13 L332.08,141.14 L332.55,141.16 L333.03,141.18 L333.50,141.19 L333.97,141.21 L334.44,141.22 L334.91,141.23 L335.38,141.25 L335.85,141.26 L336.32,141.27 L336.79,141.29 L337.26,141.30 L337.73,141.31 L338.20,141.32 L338.67,141.33 L339.14,141.34 L339.61,141.35 L340.09,141.36 L340.56,141.37 L341.03,141.38 L341.50,141.39 L341.97,141.40 L342.44,141.41 L342.91,141.42 L343.38,141.42 L343.85,141.43 L344.32,141.44 L344.79,141.45 L345.26,141.45 L345.73,141.46 L346.20,141.47 L346.67,141.47 L347.15,141.48 L347.62,141.49 L348.09,141.49 L348.56,141.50 L349.03,141.51 L349.50,141.51 L349.97,141.52 L350.44,141.52 L350.91,141.53 L351.38,141.53 L351.85,141.54 L352.32,141.54 L352.79,141.55 L353.26,141.55 L353.73,141.56 L354.21,141.56 L354.68,141.57 L355.15,141.57 L355.62,141.58 L356.09,141.58 L356.56,141.58 L357.03,141.59 L357.50,141.59" stroke="#222" stroke-width="1.15" fill="none"/>
</g>
<rect x="216.30" y="93.25" width="141.20" height="53.30" fill="none" stroke="#3a3a3a" stroke-width="1.2"/>
<text x="211.70" y="144.66" font-size="8.5" text-anchor="end">0</text>
<text x="211.70" y="119.94" font-size="8.5" text-anchor="end">10</text>
<text x="211.70" y="95.23" font-size="8.5" text-anchor="end">20</text>
<clipPath id="cp12"><rect x="216.30" y="155.50" width="141.20" height="53.30"/></clipPath>
<path d="M216.30,204.11 h4.20 M216.30,199.16 h2.20 M216.30,194.22 h2.20 M216.30,189.28 h2.20 M216.30,184.34 h2.20 M216.30,179.39 h4.20 M216.30,174.45 h2.20 M216.30,169.51 h2.20 M216.30,164.57 h2.20 M216.30,159.63 h2.20 M239.83,208.80 v-2.40 M263.37,208.80 v-4.20 M286.90,208.80 v-2.40 M310.43,208.80 v-4.20 M333.97,208.80 v-2.40" stroke="#3a3a3a" stroke-width="1.3" fill="none"/>
<g clip-path="url(#cp12)">
<path d="M216.30,204.04 L217.58,204.05 L218.87,203.99 L220.15,203.95 L221.43,204.01 L222.72,204.04 L224.00,203.97 L225.29,204.00 L226.57,203.98 L227.85,203.92 L229.14,203.93 L230.42,204.01 L231.70,203.86 L232.99,203.97 L234.27,203.93 L235.55,204.00 L236.84,203.96 L238.12,204.06 L239.41,203.84 L240.69,203.85 L241.97,204.01 L243.26,204.02 L244.54,204.02 L245.82,203.82 L247.11,203.92 L248.39,203.89 L249.67,203.89 L250.96,203.86 L252.24,203.93 L253.53,203.82 L254.81,203.93 L256.09,203.80 L257.38,203.74 L258.66,203.71 L259.94,203.75 L261.23,203.79 L262.51,203.65 L263.79,203.69 L265.08,203.43 L266.36,203.48 L267.65,203.53 L268.93,203.52 L270.21,203.50 L271.50,203.47 L272.78,203.32 L274.06,203.15 L275.35,203.02 L276.63,202.90 L277.91,202.51 L279.20,202.85 L280.48,202.56 L281.77,201.82 L283.05,202.56 L284.33,202.04 L285.62,201.61 L286.90,201.30 L288.18,200.90 L289.47,200.72 L290.75,200.19 L292.03,199.95 L293.32,199.42 L294.60,200.06 L295.89,199.59 L297.17,199.23 L298.45,199.59 L299.74,199.66 L301.02,199.22 L302.30,199.81 L303.59,199.62 L304.87,199.89 L306.15,200.37 L307.44,200.72 L308.72,201.30 L310.01,202.02 L311.29,202.08 L312.57,202.31 L313.86,202.78 L315.14,202.92 L316.42,202.95 L317.71,203.33 L318.99,203.22 L320.27,203.14 L321.56,203.52 L322.84,203.49 L324.13,203.57 L325.41,203.43 L326.69,203.60 L327.98,203.57 L329.26,203.76 L330.54,203.72 L331.83,203.75 L333.11,203.92 L334.39,203.66 L335.68,203.73 L336.96,203.96 L338.25,203.78 L339.53,203.86 L340.81,203.83 L342.10,203.85 L343.38,204.00 L344.66,203.91 L345.95,203.81 L347.23,203.96 L348.51,203.99 L349.80,204.02 L351.08,204.02 L352.37,203.93 L353.65,203.86 L354.93,203.94 L356.22,203.95 L357.50,203.85" stroke="#a9ad4c" stroke-width="2.7" fill="none" stroke-linejoin="round"/>
<path d="M216.30,204.02 L216.77,204.02 L217.24,204.02 L217.71,204.02 L218.18,204.02 L218.65,204.02 L219.12,204.02 L219.59,204.02 L220.07,204.02 L220.54,204.01 L221.01,204.01 L221.48,204.01 L221.95,204.01 L222.42,204.01 L222.89,204.01 L223.36,204.01 L223.83,204.01 L224.30,204.00 L224.77,204.00 L225.24,204.00 L225.71,204.00 L226.18,204.00 L226.65,204.00 L227.13,204.00 L227.60,203.99 L228.07,203.99 L228.54,203.99 L229.01,203.99 L229.48,203.99 L229.95,203.99 L230.42,203.98 L230.89,203.98 L231.36,203.98 L231.83,203.98 L232.30,203.98 L232.77,203.98 L233.24,203.97 L233.71,203.97 L234.19,203.97 L234.66,203.97 L235.13,203.97 L235.60,203.96 L236.07,203.96 L236.54,203.96 L237.01,203.96 L237.48,203.95 L237.95,203.95 L238.42,203.95 L238.89,203.95 L239.36,203.94 L239.83,203.94 L240.30,203.94 L240.77,203.94 L241.25,203.93 L241.72,203.93 L242.19,203.93 L242.66,203.93 L243.13,203.92 L243.60,203.92 L244.07,203.92 L244.54,203.91 L245.01,203.91 L245.48,203.91 L245.95,203.90 L246.42,203.90 L246.89,203.89 L247.36,203.89 L247.83,203.89 L248.31,203.88 L248.78,203.88 L249.25,203.87 L249.72,203.87 L250.19,203.86 L250.66,203.86 L251.13,203.85 L251.60,203.85 L252.07,203.84 L252.54,203.84 L253.01,203.83 L253.48,203.83 L253.95,203.82 L254.42,203.81 L254.89,203.81 L255.37,203.80 L255.84,203.79 L256.31,203.79 L256.78,203.78 L257.25,203.77 L257.72,203.77 L258.19,203.76 L258.66,203.75 L259.13,203.74 L259.60,203.73 L260.07,203.72 L260.54,203.71 L261.01,203.70 L261.48,203.69 L261.95,203.68 L262.43,203.67 L262.90,203.66 L263.37,203.65 L263.84,203.64 L264.31,203.62 L264.78,203.61 L265.25,203.60 L265.72,203.58 L266.19,203.57 L266.66,203.55 L267.13,203.54 L267.60,203.52 L268.07,203.50 L268.54,203.48 L269.01,203.46 L269.49,203.44 L269.96,203.42 L270.43,203.40 L270.90,203.38 L271.37,203.35 L271.84,203.33 L272.31,203.30 L272.78,203.27 L273.25,203.25 L273.72,203.22 L274.19,203.18 L274.66,203.15 L275.13,203.12 L275.60,203.08 L276.07,203.04 L276.55,203.00 L277.02,202.96 L277.49,202.91 L277.96,202.87 L278.43,202.82 L278.90,202.76 L279.37,202.71 L279.84,202.65 L280.31,202.59 L280.78,202.53 L281.25,202.46 L281.72,202.39 L282.19,202.31 L282.66,202.23 L283.13,202.15 L283.61,202.07 L284.08,201.98 L284.55,201.88 L285.02,201.78 L285.49,201.68 L285.96,201.57 L286.43,201.46 L286.90,201.35 L287.37,201.23 L287.84,201.11 L288.31,200.98 L288.78,200.86 L289.25,200.73 L289.72,200.61 L290.19,200.49 L290.67,200.36 L291.14,200.25 L291.61,200.14 L292.08,200.03 L292.55,199.94 L293.02,199.86 L293.49,199.79 L293.96,199.73 L294.43,199.69 L294.90,199.67 L295.37,199.66 L295.84,199.67 L296.31,199.69 L296.78,199.73 L297.25,199.79 L297.73,199.86 L298.20,199.94 L298.67,200.03 L299.14,200.14 L299.61,200.25 L300.08,200.36 L300.55,200.49 L301.02,200.61 L301.49,200.73 L301.96,200.86 L302.43,200.98 L302.90,201.11 L303.37,201.23 L303.84,201.35 L304.31,201.46 L304.79,201.57 L305.26,201.68 L305.73,201.78 L306.20,201.88 L306.67,201.98 L307.14,202.07 L307.61,202.15 L308.08,202.23 L308.55,202.31 L309.02,202.39 L309.49,202.46 L309.96,202.53 L310.43,202.59 L310.90,202.65 L311.37,202.71 L311.85,202.76 L312.32,202.82 L312.79,202.87 L313.26,202.91 L313.73,202.96 L314.20,203.00 L314.67,203.04 L315.14,203.08 L315.61,203.12 L316.08,203.15 L316.55,203.18 L317.02,203.22 L317.49,203.25 L317.96,203.27 L318.43,203.30 L318.91,203.33 L319.38,203.35 L319.85,203.38 L320.32,203.40 L320.79,203.42 L321.26,203.44 L321.73,203.46 L322.20,203.48 L322.67,203.50 L323.14,203.52 L323.61,203.54 L324.08,203.55 L324.55,203.57 L325.02,203.58 L325.49,203.60 L325.97,203.61 L326.44,203.62 L326.91,203.64 L327.38,203.65 L327.85,203.66 L328.32,203.67 L328.79,203.68 L329.26,203.69 L329.73,203.70 L330.20,203.71 L330.67,203.72 L331.14,203.73 L331.61,203.74 L332.08,203.75 L332.55,203.76 L333.03,203.77 L333.50,203.77 L333.97,203.78 L334.44,203.79 L334.91,203.79 L335.38,203.80 L335.85,203.81 L336.32,203.81 L336.79,203.82 L337.26,203.83 L337.73,203.83 L338.20,203.84 L338.67,203.84 L339.14,203.85 L339.61,203.85 L340.09,203.86 L340.56,203.86 L341.03,203.87 L341.50,203.87 L341.97,203.88 L342.44,203.88 L342.91,203.89 L343.38,203.89 L343.85,203.89 L344.32,203.90 L344.79,203.90 L345.26,203.91 L345.73,203.91 L346.20,203.91 L346.67,203.92 L347.15,203.92 L347.62,203.92 L348.09,203.93 L348.56,203.93 L349.03,203.93 L349.50,203.93 L349.97,203.94 L350.44,203.94 L350.91,203.94 L351.38,203.94 L351.85,203.95 L352.32,203.95 L352.79,203.95 L353.26,203.95 L353.73,203.96 L354.21,203.96 L354.68,203.96 L355.15,203.96 L355.62,203.97 L356.09,203.97 L356.56,203.97 L357.03,203.97 L357.50,203.97" stroke="#e8404a" stroke-width="1.05" fill="none"/>
<path d="M216.30,204.11 L216.77,204.11 L217.24,204.11 L217.71,204.11 L218.18,204.11 L218.65,204.11 L219.12,204.11 L219.59,204.11 L220.07,204.11 L220.54,204.11 L221.01,204.11 L221.48,204.11 L221.95,204.11 L222.42,204.11 L222.89,204.11 L223.36,204.11 L223.83,204.11 L224.30,204.11 L224.77,204.11 L225.24,204.11 L225.71,204.11 L226.18,204.11 L226.65,204.11 L227.13,204.11 L227.60,204.11 L228.07,204.11 L228.54,204.11 L229.01,204.11 L229.48,204.11 L229.95,204.11 L230.42,204.11 L230.89,204.11 L231.36,204.11 L231.83,204.11 L232.30,204.11 L232.77,204.11 L233.24,204.11 L233.71,204.11 L234.19,204.11 L234.66,204.11 L235.13,204.11 L235.60,204.11 L236.07,204.11 L236.54,204.11 L237.01,204.11 L237.48,204.11 L237.95,204.11 L238.42,204.11 L238.89,204.11 L239.36,204.11 L239.83,204.11 L240.30,204.11 L240.77,204.11 L241.25,204.11 L241.72,204.11 L242.19,204.11 L242.66,204.11 L243.13,204.11 L243.60,204.11 L244.07,204.11 L244.54,204.11 L245.01,204.11 L245.48,204.11 L245.95,204.11 L246.42,204.11 L246.89,204.11 L247.36,204.11 L247.83,204.11 L248.31,204.11 L248.78,204.11 L249.25,204.11 L249.72,204.11 L250.19,204.11 L250.66,204.11 L251.13,204.11 L251.60,204.11 L252.07,204.11 L252.54,204.11 L253.01,204.11 L253.48,204.11 L253.95,204.11 L254.42,204.11 L254.89,204.11 L255.37,204.11 L255.84,204.11 L256.31,204.11 L256.78,204.11 L257.25,204.11 L257.72,204.11 L258.19,204.11 L258.66,204.11 L259.13,204.11 L259.60,204.11 L260.07,204.11 L260.54,204.11 L261.01,204.11 L261.48,204.11 L261.95,204.11 L262.43,204.11 L262.90,204.11 L263.37,204.11 L263.84,204.11 L264.31,204.11 L264.78,204.11 L265.25,204.11 L265.72,204.11 L266.19,204.11 L266.66,204.11 L267.13,204.11 L267.60,204.11 L268.07,204.11 L268.54,204.11 L269.01,204.11 L269.49,204.11 L269.96,204.11 L270.43,204.11 L270.90,204.11 L271.37,204.11 L271.84,204.11 L272.31,204.11 L272.78,204.11 L273.25,204.11 L273.72,204.11 L274.19,204.11 L274.66,204.11 L275.13,204.11 L275.60,204.11 L276.07,204.11 L276.55,204.11 L277.02,204.11 L277.49,204.11 L277.96,204.11 L278.43,204.11 L278.90,204.11 L279.37,204.11 L279.84,204.11 L280.31,204.11 L280.78,204.11 L281.25,204.10 L281.72,204.10 L282.19,204.10 L282.66,204.10 L283.13,204.10 L283.61,204.10 L284.08,204.10 L284.55,204.10 L285.02,204.10 L285.49,204.10 L285.96,204.10 L286.43,204.10 L286.90,204.10 L287.37,204.10 L287.84,204.10 L288.31,204.09 L288.78,204.09 L289.25,204.09 L289.72,204.08 L290.19,204.07 L290.67,204.06 L291.14,204.05 L291.61,204.04 L292.08,204.02 L292.55,204.00 L293.02,203.98 L293.49,203.95 L293.96,203.92 L294.43,203.88 L294.90,203.84 L295.37,203.79 L295.84,203.74 L296.31,203.68 L296.78,203.62 L297.25,203.55 L297.73,203.48 L298.20,203.40 L298.67,203.32 L299.14,203.24 L299.61,203.16 L300.08,203.08 L300.55,203.00 L301.02,202.92 L301.49,202.85 L301.96,202.79 L302.43,202.74 L302.90,202.69 L303.37,202.66 L303.84,202.63 L304.31,202.62 L304.79,202.62 L305.26,202.64 L305.73,202.66 L306.20,202.70 L306.67,202.75 L307.14,202.80 L307.61,202.87 L308.08,202.94 L308.55,203.01 L309.02,203.09 L309.49,203.17 L309.96,203.25 L310.43,203.34 L310.90,203.41 L311.37,203.49 L311.85,203.56 L312.32,203.63 L312.79,203.69 L313.26,203.75 L313.73,203.80 L314.20,203.85 L314.67,203.89 L315.14,203.93 L315.61,203.96 L316.08,203.98 L316.55,204.01 L317.02,204.03 L317.49,204.04 L317.96,204.05 L318.43,204.07 L318.91,204.07 L319.38,204.08 L319.85,204.09 L320.32,204.09 L320.79,204.09 L321.26,204.10 L321.73,204.10 L322.20,204.10 L322.67,204.10 L323.14,204.10 L323.61,204.10 L324.08,204.10 L324.55,204.10 L325.02,204.10 L325.49,204.10 L325.97,204.10 L326.44,204.10 L326.91,204.10 L327.38,204.10 L327.85,204.10 L328.32,204.11 L328.79,204.11 L329.26,204.11 L329.73,204.11 L330.20,204.11 L330.67,204.11 L331.14,204.11 L331.61,204.11 L332.08,204.11 L332.55,204.11 L333.03,204.11 L333.50,204.11 L333.97,204.11 L334.44,204.11 L334.91,204.11 L335.38,204.11 L335.85,204.11 L336.32,204.11 L336.79,204.11 L337.26,204.11 L337.73,204.11 L338.20,204.11 L338.67,204.11 L339.14,204.11 L339.61,204.11 L340.09,204.11 L340.56,204.11 L341.03,204.11 L341.50,204.11 L341.97,204.11 L342.44,204.11 L342.91,204.11 L343.38,204.11 L343.85,204.11 L344.32,204.11 L344.79,204.11 L345.26,204.11 L345.73,204.11 L346.20,204.11 L346.67,204.11 L347.15,204.11 L347.62,204.11 L348.09,204.11 L348.56,204.11 L349.03,204.11 L349.50,204.11 L349.97,204.11 L350.44,204.11 L350.91,204.11 L351.38,204.11 L351.85,204.11 L352.32,204.11 L352.79,204.11 L353.26,204.11 L353.73,204.11 L354.21,204.11 L354.68,204.11 L355.15,204.11 L355.62,204.11 L356.09,204.11 L356.56,204.11 L357.03,204.11 L357.50,204.11" stroke="#5050e8" stroke-width="1.05" fill="none"/>
<path d="M216.30,204.02 L216.77,204.02 L217.24,204.02 L217.71,204.02 L218.18,204.02 L218.65,204.02 L219.12,204.02 L219.59,204.02 L220.07,204.02 L220.54,204.01 L221.01,204.01 L221.48,204.01 L221.95,204.01 L222.42,204.01 L222.89,204.01 L223.36,204.01 L223.83,204.01 L224.30,204.00 L224.77,204.00 L225.24,204.00 L225.71,204.00 L226.18,204.00 L226.65,204.00 L227.13,204.00 L227.60,203.99 L228.07,203.99 L228.54,203.99 L229.01,203.99 L229.48,203.99 L229.95,203.99 L230.42,203.98 L230.89,203.98 L231.36,203.98 L231.83,203.98 L232.30,203.98 L232.77,203.98 L233.24,203.97 L233.71,203.97 L234.19,203.97 L234.66,203.97 L235.13,203.97 L235.60,203.96 L236.07,203.96 L236.54,203.96 L237.01,203.96 L237.48,203.95 L237.95,203.95 L238.42,203.95 L238.89,203.95 L239.36,203.94 L239.83,203.94 L240.30,203.94 L240.77,203.94 L241.25,203.93 L241.72,203.93 L242.19,203.93 L242.66,203.93 L243.13,203.92 L243.60,203.92 L244.07,203.92 L244.54,203.91 L245.01,203.91 L245.48,203.91 L245.95,203.90 L246.42,203.90 L246.89,203.89 L247.36,203.89 L247.83,203.89 L248.31,203.88 L248.78,203.88 L249.25,203.87 L249.72,203.87 L250.19,203.86 L250.66,203.86 L251.13,203.85 L251.60,203.85 L252.07,203.84 L252.54,203.84 L253.01,203.83 L253.48,203.83 L253.95,203.82 L254.42,203.81 L254.89,203.81 L255.37,203.80 L255.84,203.79 L256.31,203.79 L256.78,203.78 L257.25,203.77 L257.72,203.77 L258.19,203.76 L258.66,203.75 L259.13,203.74 L259.60,203.73 L260.07,203.72 L260.54,203.71 L261.01,203.70 L261.48,203.69 L261.95,203.68 L262.43,203.67 L262.90,203.66 L263.37,203.65 L263.84,203.64 L264.31,203.62 L264.78,203.61 L265.25,203.60 L265.72,203.58 L266.19,203.57 L266.66,203.55 L267.13,203.54 L267.60,203.52 L268.07,203.50 L268.54,203.48 L269.01,203.46 L269.49,203.44 L269.96,203.42 L270.43,203.40 L270.90,203.38 L271.37,203.35 L271.84,203.33 L272.31,203.30 L272.78,203.27 L273.25,203.25 L273.72,203.22 L274.19,203.18 L274.66,203.15 L275.13,203.12 L275.60,203.08 L276.07,203.04 L276.55,203.00 L277.02,202.96 L277.49,202.91 L277.96,202.87 L278.43,202.82 L278.90,202.76 L279.37,202.71 L279.84,202.65 L280.31,202.59 L280.78,202.53 L281.25,202.46 L281.72,202.39 L282.19,202.31 L282.66,202.23 L283.13,202.15 L283.61,202.07 L284.08,201.98 L284.55,201.88 L285.02,201.78 L285.49,201.68 L285.96,201.57 L286.43,201.46 L286.90,201.34 L287.37,201.22 L287.84,201.10 L288.31,200.97 L288.78,200.84 L289.25,200.71 L289.72,200.58 L290.19,200.45 L290.67,200.32 L291.14,200.19 L291.61,200.07 L292.08,199.95 L292.55,199.84 L293.02,199.73 L293.49,199.63 L293.96,199.55 L294.43,199.47 L294.90,199.40 L295.37,199.34 L295.84,199.30 L296.31,199.27 L296.78,199.24 L297.25,199.23 L297.73,199.23 L298.20,199.23 L298.67,199.25 L299.14,199.27 L299.61,199.30 L300.08,199.34 L300.55,199.38 L301.02,199.43 L301.49,199.48 L301.96,199.55 L302.43,199.62 L302.90,199.69 L303.37,199.78 L303.84,199.88 L304.31,199.98 L304.79,200.09 L305.26,200.21 L305.73,200.34 L306.20,200.48 L306.67,200.62 L307.14,200.76 L307.61,200.91 L308.08,201.07 L308.55,201.22 L309.02,201.37 L309.49,201.53 L309.96,201.68 L310.43,201.82 L310.90,201.96 L311.37,202.09 L311.85,202.22 L312.32,202.34 L312.79,202.45 L313.26,202.56 L313.73,202.65 L314.20,202.74 L314.67,202.82 L315.14,202.90 L315.61,202.97 L316.08,203.03 L316.55,203.08 L317.02,203.14 L317.49,203.18 L317.96,203.22 L318.43,203.26 L318.91,203.30 L319.38,203.33 L319.85,203.36 L320.32,203.39 L320.79,203.41 L321.26,203.44 L321.73,203.46 L322.20,203.48 L322.67,203.50 L323.14,203.52 L323.61,203.53 L324.08,203.55 L324.55,203.57 L325.02,203.58 L325.49,203.60 L325.97,203.61 L326.44,203.62 L326.91,203.64 L327.38,203.65 L327.85,203.66 L328.32,203.67 L328.79,203.68 L329.26,203.69 L329.73,203.70 L330.20,203.71 L330.67,203.72 L331.14,203.73 L331.61,203.74 L332.08,203.75 L332.55,203.76 L333.03,203.77 L333.50,203.77 L333.97,203.78 L334.44,203.79 L334.91,203.79 L335.38,203.80 L335.85,203.81 L336.32,203.81 L336.79,203.82 L337.26,203.83 L337.73,203.83 L338.20,203.84 L338.67,203.84 L339.14,203.85 L339.61,203.85 L340.09,203.86 L340.56,203.86 L341.03,203.87 L341.50,203.87 L341.97,203.88 L342.44,203.88 L342.91,203.89 L343.38,203.89 L343.85,203.89 L344.32,203.90 L344.79,203.90 L345.26,203.91 L345.73,203.91 L346.20,203.91 L346.67,203.92 L347.15,203.92 L347.62,203.92 L348.09,203.93 L348.56,203.93 L349.03,203.93 L349.50,203.93 L349.97,203.94 L350.44,203.94 L350.91,203.94 L351.38,203.94 L351.85,203.95 L352.32,203.95 L352.79,203.95 L353.26,203.95 L353.73,203.96 L354.21,203.96 L354.68,203.96 L355.15,203.96 L355.62,203.97 L356.09,203.97 L356.56,203.97 L357.03,203.97 L357.50,203.97" stroke="#222" stroke-width="1.15" fill="none"/>
</g>
<rect x="216.30" y="155.50" width="141.20" height="53.30" fill="none" stroke="#3a3a3a" stroke-width="1.2"/>
<text x="211.70" y="206.91" font-size="8.5" text-anchor="end">0</text>
<text x="211.70" y="182.19" font-size="8.5" text-anchor="end">10</text>
<text x="211.70" y="157.48" font-size="8.5" text-anchor="end">20</text>
<text x="216.30" y="220.30" font-size="8.9" text-anchor="middle">1.8</text>
<text x="263.37" y="220.30" font-size="8.9" text-anchor="middle">1.9</text>
<text x="310.43" y="220.30" font-size="8.9" text-anchor="middle">2.0</text>
<text x="357.50" y="220.30" font-size="8.9" text-anchor="middle">2.1</text>
<text x="286.90" y="232.2" font-size="10.9" text-anchor="middle">Energy (eV)</text>
<clipPath id="cp20"><rect x="396.80" y="31.00" width="141.20" height="53.30"/></clipPath>
<path d="M396.80,79.26 h4.20 M396.80,69.47 h2.20 M396.80,59.68 h2.20 M396.80,49.89 h2.20 M396.80,40.10 h2.20 M420.33,84.30 v-2.40 M443.87,84.30 v-4.20 M467.40,84.30 v-2.40 M490.93,84.30 v-4.20 M514.47,84.30 v-2.40" stroke="#3a3a3a" stroke-width="1.3" fill="none"/>
<g clip-path="url(#cp20)">
<path d="M396.80,78.48 L398.08,78.47 L399.37,78.25 L400.65,78.21 L401.93,78.44 L403.22,78.43 L404.50,78.14 L405.79,78.10 L407.07,78.34 L408.35,78.09 L409.64,78.11 L410.92,77.86 L412.20,77.92 L413.49,77.86 L414.77,77.85 L416.05,77.48 L417.34,77.33 L418.62,77.64 L419.91,77.28 L421.19,77.57 L422.47,77.28 L423.76,77.01 L425.04,76.70 L426.32,77.07 L427.61,76.86 L428.89,76.65 L430.17,76.97 L431.46,76.38 L432.74,76.41 L434.03,75.91 L435.31,76.17 L436.59,76.23 L437.88,75.32 L439.16,74.96 L440.44,74.95 L441.73,74.08 L443.01,74.16 L444.29,73.90 L445.58,73.00 L446.86,73.40 L448.15,72.47 L449.43,71.57 L450.71,70.47 L452.00,70.24 L453.28,69.18 L454.56,68.84 L455.85,67.34 L457.13,65.47 L458.41,65.84 L459.70,62.70 L460.98,63.57 L462.27,61.99 L463.55,60.82 L464.83,59.23 L466.12,60.18 L467.40,60.29 L468.68,57.81 L469.97,57.44 L471.25,57.42 L472.53,55.57 L473.82,56.95 L475.10,55.83 L476.39,53.50 L477.67,51.47 L478.95,47.08 L480.24,46.43 L481.52,42.24 L482.80,42.94 L484.09,36.88 L485.37,38.38 L486.65,38.89 L487.94,41.11 L489.22,47.88 L490.51,53.19 L491.79,58.42 L493.07,63.21 L494.36,66.85 L495.64,69.12 L496.92,71.66 L498.21,73.20 L499.49,74.35 L500.77,74.67 L502.06,75.31 L503.34,75.86 L504.63,75.87 L505.91,76.33 L507.19,76.80 L508.48,76.22 L509.76,76.64 L511.04,77.16 L512.33,76.75 L513.61,77.05 L514.89,77.63 L516.18,76.96 L517.46,77.36 L518.75,77.32 L520.03,77.56 L521.31,77.71 L522.60,78.07 L523.88,77.61 L525.16,77.86 L526.45,77.98 L527.73,77.91 L529.01,78.02 L530.30,77.95 L531.58,78.19 L532.87,78.17 L534.15,78.59 L535.43,78.32 L536.72,78.17 L538.00,78.09" stroke="#a9ad4c" stroke-width="2.7" fill="none" stroke-linejoin="round"/>
<path d="M396.80,78.30 L397.27,78.29 L397.74,78.28 L398.21,78.26 L398.68,78.25 L399.15,78.24 L399.62,78.22 L400.09,78.21 L400.57,78.20 L401.04,78.18 L401.51,78.17 L401.98,78.15 L402.45,78.14 L402.92,78.12 L403.39,78.11 L403.86,78.09 L404.33,78.08 L404.80,78.06 L405.27,78.04 L405.74,78.02 L406.21,78.01 L406.68,77.99 L407.15,77.97 L407.63,77.95 L408.10,77.93 L408.57,77.91 L409.04,77.89 L409.51,77.87 L409.98,77.85 L410.45,77.83 L410.92,77.81 L411.39,77.79 L411.86,77.76 L412.33,77.74 L412.80,77.72 L413.27,77.69 L413.74,77.67 L414.21,77.64 L414.69,77.62 L415.16,77.59 L415.63,77.56 L416.10,77.53 L416.57,77.51 L417.04,77.48 L417.51,77.45 L417.98,77.41 L418.45,77.38 L418.92,77.35 L419.39,77.32 L419.86,77.28 L420.33,77.25 L420.80,77.21 L421.27,77.18 L421.75,77.14 L422.22,77.10 L422.69,77.06 L423.16,77.02 L423.63,76.98 L424.10,76.93 L424.57,76.89 L425.04,76.84 L425.51,76.80 L425.98,76.75 L426.45,76.70 L426.92,76.65 L427.39,76.59 L427.86,76.54 L428.33,76.48 L428.81,76.43 L429.28,76.37 L429.75,76.31 L430.22,76.24 L430.69,76.18 L431.16,76.11 L431.63,76.04 L432.10,75.97 L432.57,75.90 L433.04,75.83 L433.51,75.75 L433.98,75.67 L434.45,75.58 L434.92,75.50 L435.39,75.41 L435.87,75.32 L436.34,75.23 L436.81,75.13 L437.28,75.03 L437.75,74.92 L438.22,74.82 L438.69,74.70 L439.16,74.59 L439.63,74.47 L440.10,74.35 L440.57,74.22 L441.04,74.08 L441.51,73.95 L441.98,73.80 L442.45,73.66 L442.93,73.50 L443.40,73.35 L443.87,73.18 L444.34,73.01 L444.81,72.83 L445.28,72.65 L445.75,72.46 L446.22,72.26 L446.69,72.06 L447.16,71.84 L447.63,71.62 L448.10,71.39 L448.57,71.16 L449.04,70.91 L449.51,70.66 L449.99,70.39 L450.46,70.12 L450.93,69.83 L451.40,69.54 L451.87,69.23 L452.34,68.91 L452.81,68.59 L453.28,68.25 L453.75,67.90 L454.22,67.54 L454.69,67.17 L455.16,66.78 L455.63,66.39 L456.10,65.99 L456.57,65.57 L457.05,65.15 L457.52,64.71 L457.99,64.27 L458.46,63.82 L458.93,63.36 L459.40,62.90 L459.87,62.44 L460.34,61.97 L460.81,61.50 L461.28,61.04 L461.75,60.58 L462.22,60.13 L462.69,59.69 L463.16,59.26 L463.63,58.85 L464.11,58.45 L464.58,58.08 L465.05,57.74 L465.52,57.42 L465.99,57.14 L466.46,56.89 L466.93,56.68 L467.40,56.51 L467.87,56.38 L468.34,56.30 L468.81,56.26 L469.28,56.26 L469.75,56.31 L470.22,56.41 L470.69,56.54 L471.17,56.72 L471.64,56.94 L472.11,57.19 L472.58,57.48 L473.05,57.80 L473.52,58.15 L473.99,58.53 L474.46,58.93 L474.93,59.34 L475.40,59.77 L475.87,60.22 L476.34,60.67 L476.81,61.13 L477.28,61.60 L477.75,62.06 L478.23,62.53 L478.70,63.00 L479.17,63.46 L479.64,63.91 L480.11,64.36 L480.58,64.80 L481.05,65.23 L481.52,65.65 L481.99,66.07 L482.46,66.47 L482.93,66.86 L483.40,67.24 L483.87,67.61 L484.34,67.97 L484.81,68.32 L485.29,68.65 L485.76,68.98 L486.23,69.29 L486.70,69.60 L487.17,69.89 L487.64,70.17 L488.11,70.44 L488.58,70.71 L489.05,70.96 L489.52,71.21 L489.99,71.44 L490.46,71.67 L490.93,71.89 L491.40,72.10 L491.87,72.30 L492.35,72.50 L492.82,72.69 L493.29,72.87 L493.76,73.04 L494.23,73.21 L494.70,73.38 L495.17,73.53 L495.64,73.69 L496.11,73.83 L496.58,73.97 L497.05,74.11 L497.52,74.24 L497.99,74.37 L498.46,74.49 L498.93,74.61 L499.41,74.73 L499.88,74.84 L500.35,74.94 L500.82,75.05 L501.29,75.15 L501.76,75.24 L502.23,75.34 L502.70,75.43 L503.17,75.52 L503.64,75.60 L504.11,75.68 L504.58,75.76 L505.05,75.84 L505.52,75.92 L505.99,75.99 L506.47,76.06 L506.94,76.13 L507.41,76.19 L507.88,76.26 L508.35,76.32 L508.82,76.38 L509.29,76.44 L509.76,76.50 L510.23,76.55 L510.70,76.60 L511.17,76.66 L511.64,76.71 L512.11,76.76 L512.58,76.80 L513.05,76.85 L513.53,76.90 L514.00,76.94 L514.47,76.98 L514.94,77.03 L515.41,77.07 L515.88,77.11 L516.35,77.15 L516.82,77.18 L517.29,77.22 L517.76,77.26 L518.23,77.29 L518.70,77.32 L519.17,77.36 L519.64,77.39 L520.11,77.42 L520.59,77.45 L521.06,77.48 L521.53,77.51 L522.00,77.54 L522.47,77.57 L522.94,77.59 L523.41,77.62 L523.88,77.65 L524.35,77.67 L524.82,77.70 L525.29,77.72 L525.76,77.75 L526.23,77.77 L526.70,77.79 L527.17,77.81 L527.65,77.84 L528.12,77.86 L528.59,77.88 L529.06,77.90 L529.53,77.92 L530.00,77.94 L530.47,77.96 L530.94,77.97 L531.41,77.99 L531.88,78.01 L532.35,78.03 L532.82,78.05 L533.29,78.06 L533.76,78.08 L534.23,78.09 L534.71,78.11 L535.18,78.13 L535.65,78.14 L536.12,78.16 L536.59,78.17 L537.06,78.18 L537.53,78.20 L538.00,78.21" stroke="#e8404a" stroke-width="1.05" fill="none"/>
<path d="M396.80,79.26 L397.27,79.26 L397.74,79.26 L398.21,79.26 L398.68,79.26 L399.15,79.26 L399.62,79.26 L400.09,79.26 L400.57,79.26 L401.04,79.26 L401.51,79.26 L401.98,79.26 L402.45,79.26 L402.92,79.26 L403.39,79.26 L403.86,79.26 L404.33,79.26 L404.80,79.26 L405.27,79.26 L405.74,79.26 L406.21,79.26 L406.68,79.26 L407.15,79.26 L407.63,79.26 L408.10,79.26 L408.57,79.26 L409.04,79.26 L409.51,79.26 L409.98,79.26 L410.45,79.26 L410.92,79.26 L411.39,79.26 L411.86,79.26 L412.33,79.26 L412.80,79.26 L413.27,79.26 L413.74,79.26 L414.21,79.26 L414.69,79.26 L415.16,79.26 L415.63,79.26 L416.10,79.26 L416.57,79.26 L417.04,79.26 L417.51,79.26 L417.98,79.26 L418.45,79.26 L418.92,79.26 L419.39,79.26 L419.86,79.26 L420.33,79.26 L420.80,79.26 L421.27,79.26 L421.75,79.26 L422.22,79.26 L422.69,79.26 L423.16,79.26 L423.63,79.26 L424.10,79.26 L424.57,79.26 L425.04,79.26 L425.51,79.26 L425.98,79.26 L426.45,79.26 L426.92,79.26 L427.39,79.26 L427.86,79.26 L428.33,79.26 L428.81,79.26 L429.28,79.26 L429.75,79.26 L430.22,79.26 L430.69,79.26 L431.16,79.26 L431.63,79.26 L432.10,79.26 L432.57,79.26 L433.04,79.26 L433.51,79.26 L433.98,79.26 L434.45,79.26 L434.92,79.26 L435.39,79.26 L435.87,79.26 L436.34,79.26 L436.81,79.26 L437.28,79.26 L437.75,79.26 L438.22,79.26 L438.69,79.26 L439.16,79.26 L439.63,79.26 L440.10,79.26 L440.57,79.26 L441.04,79.26 L441.51,79.26 L441.98,79.26 L442.45,79.26 L442.93,79.26 L443.40,79.26 L443.87,79.26 L444.34,79.26 L444.81,79.26 L445.28,79.26 L445.75,79.26 L446.22,79.26 L446.69,79.26 L447.16,79.26 L447.63,79.26 L448.10,79.26 L448.57,79.26 L449.04,79.26 L449.51,79.26 L449.99,79.26 L450.46,79.26 L450.93,79.26 L451.40,79.26 L451.87,79.26 L452.34,79.26 L452.81,79.26 L453.28,79.26 L453.75,79.26 L454.22,79.26 L454.69,79.26 L455.16,79.26 L455.63,79.26 L456.10,79.26 L456.57,79.26 L457.05,79.26 L457.52,79.26 L457.99,79.26 L458.46,79.26 L458.93,79.26 L459.40,79.26 L459.87,79.26 L460.34,79.26 L460.81,79.26 L461.28,79.26 L461.75,79.26 L462.22,79.26 L462.69,79.25 L463.16,79.25 L463.63,79.25 L464.11,79.24 L464.58,79.24 L465.05,79.23 L465.52,79.22 L465.99,79.21 L466.46,79.19 L466.93,79.16 L467.40,79.13 L467.87,79.09 L468.34,79.03 L468.81,78.96 L469.28,78.87 L469.75,78.75 L470.22,78.61 L470.69,78.43 L471.17,78.21 L471.64,77.95 L472.11,77.63 L472.58,77.25 L473.05,76.80 L473.52,76.27 L473.99,75.66 L474.46,74.95 L474.93,74.15 L475.40,73.24 L475.87,72.22 L476.34,71.09 L476.81,69.86 L477.28,68.52 L477.75,67.08 L478.23,65.56 L478.70,63.97 L479.17,62.32 L479.64,60.64 L480.11,58.95 L480.58,57.27 L481.05,55.64 L481.52,54.08 L481.99,52.63 L482.46,51.31 L482.93,50.14 L483.40,49.16 L483.87,48.39 L484.34,47.84 L484.81,47.52 L485.29,47.45 L485.76,47.62 L486.23,48.03 L486.70,48.67 L487.17,49.53 L487.64,50.59 L488.11,51.82 L488.58,53.20 L489.05,54.70 L489.52,56.29 L489.99,57.94 L490.46,59.62 L490.93,61.31 L491.40,62.99 L491.87,64.61 L492.35,66.18 L492.82,67.67 L493.29,69.07 L493.76,70.36 L494.23,71.56 L494.70,72.64 L495.17,73.61 L495.64,74.48 L496.11,75.25 L496.58,75.92 L497.05,76.49 L497.52,76.99 L497.99,77.41 L498.46,77.77 L498.93,78.06 L499.41,78.31 L499.88,78.51 L500.35,78.67 L500.82,78.80 L501.29,78.91 L501.76,78.99 L502.23,79.05 L502.70,79.10 L503.17,79.14 L503.64,79.17 L504.11,79.20 L504.58,79.21 L505.05,79.23 L505.52,79.23 L505.99,79.24 L506.47,79.25 L506.94,79.25 L507.41,79.25 L507.88,79.25 L508.35,79.26 L508.82,79.26 L509.29,79.26 L509.76,79.26 L510.23,79.26 L510.70,79.26 L511.17,79.26 L511.64,79.26 L512.11,79.26 L512.58,79.26 L513.05,79.26 L513.53,79.26 L514.00,79.26 L514.47,79.26 L514.94,79.26 L515.41,79.26 L515.88,79.26 L516.35,79.26 L516.82,79.26 L517.29,79.26 L517.76,79.26 L518.23,79.26 L518.70,79.26 L519.17,79.26 L519.64,79.26 L520.11,79.26 L520.59,79.26 L521.06,79.26 L521.53,79.26 L522.00,79.26 L522.47,79.26 L522.94,79.26 L523.41,79.26 L523.88,79.26 L524.35,79.26 L524.82,79.26 L525.29,79.26 L525.76,79.26 L526.23,79.26 L526.70,79.26 L527.17,79.26 L527.65,79.26 L528.12,79.26 L528.59,79.26 L529.06,79.26 L529.53,79.26 L530.00,79.26 L530.47,79.26 L530.94,79.26 L531.41,79.26 L531.88,79.26 L532.35,79.26 L532.82,79.26 L533.29,79.26 L533.76,79.26 L534.23,79.26 L534.71,79.26 L535.18,79.26 L535.65,79.26 L536.12,79.26 L536.59,79.26 L537.06,79.26 L537.53,79.26 L538.00,79.26" stroke="#5050e8" stroke-width="1.05" fill="none"/>
<path d="M396.80,78.40 L397.27,78.38 L397.74,78.37 L398.21,78.36 L398.68,78.35 L399.15,78.34 L399.62,78.33 L400.09,78.31 L400.57,78.30 L401.04,78.29 L401.51,78.28 L401.98,78.26 L402.45,78.25 L402.92,78.24 L403.39,78.22 L403.86,78.21 L404.33,78.19 L404.80,78.18 L405.27,78.16 L405.74,78.15 L406.21,78.13 L406.68,78.12 L407.15,78.10 L407.63,78.08 L408.10,78.07 L408.57,78.05 L409.04,78.03 L409.51,78.01 L409.98,77.99 L410.45,77.97 L410.92,77.95 L411.39,77.93 L411.86,77.91 L412.33,77.89 L412.80,77.87 L413.27,77.85 L413.74,77.83 L414.21,77.80 L414.69,77.78 L415.16,77.76 L415.63,77.73 L416.10,77.71 L416.57,77.68 L417.04,77.65 L417.51,77.63 L417.98,77.60 L418.45,77.57 L418.92,77.54 L419.39,77.51 L419.86,77.48 L420.33,77.45 L420.80,77.42 L421.27,77.38 L421.75,77.35 L422.22,77.31 L422.69,77.28 L423.16,77.24 L423.63,77.20 L424.10,77.16 L424.57,77.12 L425.04,77.08 L425.51,77.04 L425.98,77.00 L426.45,76.95 L426.92,76.91 L427.39,76.86 L427.86,76.81 L428.33,76.76 L428.81,76.71 L429.28,76.66 L429.75,76.60 L430.22,76.55 L430.69,76.49 L431.16,76.43 L431.63,76.37 L432.10,76.30 L432.57,76.24 L433.04,76.17 L433.51,76.10 L433.98,76.03 L434.45,75.95 L434.92,75.88 L435.39,75.80 L435.87,75.71 L436.34,75.63 L436.81,75.54 L437.28,75.45 L437.75,75.36 L438.22,75.26 L438.69,75.16 L439.16,75.06 L439.63,74.95 L440.10,74.84 L440.57,74.72 L441.04,74.60 L441.51,74.48 L441.98,74.35 L442.45,74.22 L442.93,74.08 L443.40,73.94 L443.87,73.79 L444.34,73.64 L444.81,73.48 L445.28,73.31 L445.75,73.14 L446.22,72.96 L446.69,72.78 L447.16,72.59 L447.63,72.39 L448.10,72.18 L448.57,71.97 L449.04,71.75 L449.51,71.52 L449.99,71.28 L450.46,71.03 L450.93,70.77 L451.40,70.51 L451.87,70.23 L452.34,69.95 L452.81,69.65 L453.28,69.35 L453.75,69.04 L454.22,68.71 L454.69,68.38 L455.16,68.03 L455.63,67.68 L456.10,67.31 L456.57,66.94 L457.05,66.56 L457.52,66.17 L457.99,65.77 L458.46,65.36 L458.93,64.95 L459.40,64.54 L459.87,64.12 L460.34,63.70 L460.81,63.28 L461.28,62.86 L461.75,62.45 L462.22,62.04 L462.69,61.64 L463.16,61.25 L463.63,60.88 L464.11,60.52 L464.58,60.18 L465.05,59.86 L465.52,59.57 L465.99,59.30 L466.46,59.06 L466.93,58.84 L467.40,58.66 L467.87,58.50 L468.34,58.37 L468.81,58.26 L469.28,58.17 L469.75,58.10 L470.22,58.04 L470.69,57.99 L471.17,57.93 L471.64,57.86 L472.11,57.77 L472.58,57.65 L473.05,57.49 L473.52,57.28 L473.99,57.00 L474.46,56.65 L474.93,56.22 L475.40,55.70 L475.87,55.08 L476.34,54.36 L476.81,53.54 L477.28,52.62 L477.75,51.61 L478.23,50.51 L478.70,49.33 L479.17,48.10 L479.64,46.83 L480.11,45.54 L480.58,44.26 L481.05,43.02 L481.52,41.84 L481.99,40.76 L482.46,39.80 L482.93,38.99 L483.40,38.35 L483.87,37.91 L484.34,37.68 L484.81,37.68 L485.29,37.91 L485.76,38.37 L486.23,39.06 L486.70,39.98 L487.17,41.10 L487.64,42.41 L488.11,43.89 L488.58,45.50 L489.05,47.23 L489.52,49.04 L489.99,50.90 L490.46,52.79 L490.93,54.68 L491.40,56.54 L491.87,58.35 L492.35,60.10 L492.82,61.75 L493.29,63.32 L493.76,64.77 L494.23,66.12 L494.70,67.35 L495.17,68.46 L495.64,69.47 L496.11,70.36 L496.58,71.16 L497.05,71.86 L497.52,72.48 L497.99,73.01 L498.46,73.48 L498.93,73.88 L499.41,74.23 L499.88,74.53 L500.35,74.79 L500.82,75.01 L501.29,75.21 L501.76,75.38 L502.23,75.52 L502.70,75.66 L503.17,75.77 L503.64,75.88 L504.11,75.98 L504.58,76.07 L505.05,76.15 L505.52,76.23 L505.99,76.30 L506.47,76.37 L506.94,76.43 L507.41,76.49 L507.88,76.55 L508.35,76.61 L508.82,76.67 L509.29,76.72 L509.76,76.77 L510.23,76.82 L510.70,76.87 L511.17,76.92 L511.64,76.96 L512.11,77.01 L512.58,77.05 L513.05,77.09 L513.53,77.13 L514.00,77.17 L514.47,77.21 L514.94,77.25 L515.41,77.29 L515.88,77.32 L516.35,77.36 L516.82,77.39 L517.29,77.42 L517.76,77.46 L518.23,77.49 L518.70,77.52 L519.17,77.55 L519.64,77.58 L520.11,77.60 L520.59,77.63 L521.06,77.66 L521.53,77.69 L522.00,77.71 L522.47,77.74 L522.94,77.76 L523.41,77.79 L523.88,77.81 L524.35,77.83 L524.82,77.85 L525.29,77.88 L525.76,77.90 L526.23,77.92 L526.70,77.94 L527.17,77.96 L527.65,77.98 L528.12,78.00 L528.59,78.02 L529.06,78.03 L529.53,78.05 L530.00,78.07 L530.47,78.09 L530.94,78.10 L531.41,78.12 L531.88,78.14 L532.35,78.15 L532.82,78.17 L533.29,78.18 L533.76,78.20 L534.23,78.21 L534.71,78.23 L535.18,78.24 L535.65,78.25 L536.12,78.27 L536.59,78.28 L537.06,78.29 L537.53,78.30 L538.00,78.32" stroke="#222" stroke-width="1.15" fill="none"/>
</g>
<rect x="396.80" y="31.00" width="141.20" height="53.30" fill="none" stroke="#3a3a3a" stroke-width="1.2"/>
<text x="392.20" y="82.06" font-size="8.5" text-anchor="end">0</text>
<text x="392.20" y="33.11" font-size="8.5" text-anchor="end">5</text>
<clipPath id="cp21"><rect x="396.80" y="93.25" width="141.20" height="53.30"/></clipPath>
<path d="M396.80,141.51 h4.20 M396.80,131.72 h2.20 M396.80,121.93 h2.20 M396.80,112.14 h2.20 M396.80,102.35 h2.20 M420.33,146.55 v-2.40 M443.87,146.55 v-4.20 M467.40,146.55 v-2.40 M490.93,146.55 v-4.20 M514.47,146.55 v-2.40" stroke="#3a3a3a" stroke-width="1.3" fill="none"/>
<g clip-path="url(#cp21)">
<path d="M396.80,141.00 L398.08,140.97 L399.37,140.84 L400.65,140.95 L401.93,140.85 L403.22,140.76 L404.50,140.86 L405.79,140.75 L407.07,140.86 L408.35,140.77 L409.64,140.76 L410.92,140.72 L412.20,140.60 L413.49,140.47 L414.77,140.68 L416.05,140.64 L417.34,140.51 L418.62,140.60 L419.91,140.42 L421.19,140.36 L422.47,140.39 L423.76,140.26 L425.04,140.40 L426.32,140.11 L427.61,140.28 L428.89,140.13 L430.17,140.04 L431.46,139.94 L432.74,139.71 L434.03,139.70 L435.31,139.66 L436.59,139.43 L437.88,139.18 L439.16,139.25 L440.44,139.06 L441.73,138.79 L443.01,138.76 L444.29,138.82 L445.58,138.06 L446.86,137.89 L448.15,138.35 L449.43,137.80 L450.71,137.47 L452.00,137.10 L453.28,136.87 L454.56,136.75 L455.85,136.60 L457.13,136.04 L458.41,135.52 L459.70,135.65 L460.98,135.31 L462.27,134.77 L463.55,134.93 L464.83,134.28 L466.12,134.09 L467.40,133.68 L468.68,133.81 L469.97,133.72 L471.25,133.46 L472.53,133.17 L473.82,133.01 L475.10,132.34 L476.39,131.41 L477.67,130.28 L478.95,128.88 L480.24,128.30 L481.52,126.85 L482.80,126.48 L484.09,124.24 L485.37,125.09 L486.65,125.40 L487.94,126.37 L489.22,128.62 L490.51,129.93 L491.79,132.00 L493.07,134.24 L494.36,135.27 L495.64,136.34 L496.92,137.84 L498.21,138.05 L499.49,138.63 L500.77,138.92 L502.06,139.17 L503.34,139.24 L504.63,139.57 L505.91,139.56 L507.19,139.81 L508.48,139.77 L509.76,140.03 L511.04,140.03 L512.33,139.91 L513.61,140.12 L514.89,140.24 L516.18,140.40 L517.46,140.42 L518.75,140.38 L520.03,140.36 L521.31,140.45 L522.60,140.49 L523.88,140.58 L525.16,140.50 L526.45,140.68 L527.73,140.73 L529.01,140.64 L530.30,140.74 L531.58,140.79 L532.87,140.84 L534.15,140.84 L535.43,140.80 L536.72,140.85 L538.00,140.98" stroke="#a9ad4c" stroke-width="2.7" fill="none" stroke-linejoin="round"/>
<path d="M396.80,140.98 L397.27,140.97 L397.74,140.97 L398.21,140.96 L398.68,140.95 L399.15,140.95 L399.62,140.94 L400.09,140.93 L400.57,140.93 L401.04,140.92 L401.51,140.91 L401.98,140.90 L402.45,140.89 L402.92,140.89 L403.39,140.88 L403.86,140.87 L404.33,140.86 L404.80,140.85 L405.27,140.84 L405.74,140.84 L406.21,140.83 L406.68,140.82 L407.15,140.81 L407.63,140.80 L408.10,140.79 L408.57,140.78 L409.04,140.77 L409.51,140.76 L409.98,140.75 L410.45,140.74 L410.92,140.73 L411.39,140.71 L411.86,140.70 L412.33,140.69 L412.80,140.68 L413.27,140.67 L413.74,140.65 L414.21,140.64 L414.69,140.63 L415.16,140.61 L415.63,140.60 L416.10,140.59 L416.57,140.57 L417.04,140.56 L417.51,140.54 L417.98,140.53 L418.45,140.51 L418.92,140.50 L419.39,140.48 L419.86,140.46 L420.33,140.45 L420.80,140.43 L421.27,140.41 L421.75,140.39 L422.22,140.37 L422.69,140.35 L423.16,140.33 L423.63,140.31 L424.10,140.29 L424.57,140.27 L425.04,140.25 L425.51,140.23 L425.98,140.21 L426.45,140.18 L426.92,140.16 L427.39,140.13 L427.86,140.11 L428.33,140.08 L428.81,140.06 L429.28,140.03 L429.75,140.00 L430.22,139.97 L430.69,139.94 L431.16,139.91 L431.63,139.88 L432.10,139.85 L432.57,139.82 L433.04,139.78 L433.51,139.75 L433.98,139.71 L434.45,139.68 L434.92,139.64 L435.39,139.60 L435.87,139.56 L436.34,139.52 L436.81,139.48 L437.28,139.44 L437.75,139.39 L438.22,139.35 L438.69,139.30 L439.16,139.25 L439.63,139.20 L440.10,139.15 L440.57,139.10 L441.04,139.05 L441.51,138.99 L441.98,138.93 L442.45,138.88 L442.93,138.81 L443.40,138.75 L443.87,138.69 L444.34,138.62 L444.81,138.56 L445.28,138.49 L445.75,138.42 L446.22,138.34 L446.69,138.27 L447.16,138.19 L447.63,138.11 L448.10,138.03 L448.57,137.95 L449.04,137.86 L449.51,137.78 L449.99,137.69 L450.46,137.59 L450.93,137.50 L451.40,137.40 L451.87,137.30 L452.34,137.20 L452.81,137.10 L453.28,136.99 L453.75,136.89 L454.22,136.78 L454.69,136.67 L455.16,136.55 L455.63,136.44 L456.10,136.32 L456.57,136.21 L457.05,136.09 L457.52,135.97 L457.99,135.85 L458.46,135.73 L458.93,135.61 L459.40,135.48 L459.87,135.36 L460.34,135.24 L460.81,135.13 L461.28,135.01 L461.75,134.89 L462.22,134.78 L462.69,134.67 L463.16,134.56 L463.63,134.46 L464.11,134.36 L464.58,134.27 L465.05,134.18 L465.52,134.10 L465.99,134.02 L466.46,133.95 L466.93,133.89 L467.40,133.83 L467.87,133.79 L468.34,133.75 L468.81,133.72 L469.28,133.70 L469.75,133.68 L470.22,133.68 L470.69,133.68 L471.17,133.70 L471.64,133.72 L472.11,133.75 L472.58,133.79 L473.05,133.83 L473.52,133.89 L473.99,133.95 L474.46,134.02 L474.93,134.10 L475.40,134.18 L475.87,134.27 L476.34,134.36 L476.81,134.46 L477.28,134.56 L477.75,134.67 L478.23,134.78 L478.70,134.89 L479.17,135.01 L479.64,135.13 L480.11,135.24 L480.58,135.36 L481.05,135.48 L481.52,135.61 L481.99,135.73 L482.46,135.85 L482.93,135.97 L483.40,136.09 L483.87,136.21 L484.34,136.32 L484.81,136.44 L485.29,136.55 L485.76,136.67 L486.23,136.78 L486.70,136.89 L487.17,136.99 L487.64,137.10 L488.11,137.20 L488.58,137.30 L489.05,137.40 L489.52,137.50 L489.99,137.59 L490.46,137.69 L490.93,137.78 L491.40,137.86 L491.87,137.95 L492.35,138.03 L492.82,138.11 L493.29,138.19 L493.76,138.27 L494.23,138.34 L494.70,138.42 L495.17,138.49 L495.64,138.56 L496.11,138.62 L496.58,138.69 L497.05,138.75 L497.52,138.81 L497.99,138.88 L498.46,138.93 L498.93,138.99 L499.41,139.05 L499.88,139.10 L500.35,139.15 L500.82,139.20 L501.29,139.25 L501.76,139.30 L502.23,139.35 L502.70,139.39 L503.17,139.44 L503.64,139.48 L504.11,139.52 L504.58,139.56 L505.05,139.60 L505.52,139.64 L505.99,139.68 L506.47,139.71 L506.94,139.75 L507.41,139.78 L507.88,139.82 L508.35,139.85 L508.82,139.88 L509.29,139.91 L509.76,139.94 L510.23,139.97 L510.70,140.00 L511.17,140.03 L511.64,140.06 L512.11,140.08 L512.58,140.11 L513.05,140.13 L513.53,140.16 L514.00,140.18 L514.47,140.21 L514.94,140.23 L515.41,140.25 L515.88,140.27 L516.35,140.29 L516.82,140.31 L517.29,140.33 L517.76,140.35 L518.23,140.37 L518.70,140.39 L519.17,140.41 L519.64,140.43 L520.11,140.45 L520.59,140.46 L521.06,140.48 L521.53,140.50 L522.00,140.51 L522.47,140.53 L522.94,140.54 L523.41,140.56 L523.88,140.57 L524.35,140.59 L524.82,140.60 L525.29,140.61 L525.76,140.63 L526.23,140.64 L526.70,140.65 L527.17,140.67 L527.65,140.68 L528.12,140.69 L528.59,140.70 L529.06,140.71 L529.53,140.73 L530.00,140.74 L530.47,140.75 L530.94,140.76 L531.41,140.77 L531.88,140.78 L532.35,140.79 L532.82,140.80 L533.29,140.81 L533.76,140.82 L534.23,140.83 L534.71,140.84 L535.18,140.84 L535.65,140.85 L536.12,140.86 L536.59,140.87 L537.06,140.88 L537.53,140.89 L538.00,140.89" stroke="#e8404a" stroke-width="1.05" fill="none"/>
<path d="M396.80,141.51 L397.27,141.51 L397.74,141.51 L398.21,141.51 L398.68,141.51 L399.15,141.51 L399.62,141.51 L400.09,141.51 L400.57,141.51 L401.04,141.51 L401.51,141.51 L401.98,141.51 L402.45,141.51 L402.92,141.51 L403.39,141.51 L403.86,141.51 L404.33,141.51 L404.80,141.51 L405.27,141.51 L405.74,141.51 L406.21,141.51 L406.68,141.51 L407.15,141.51 L407.63,141.51 L408.10,141.51 L408.57,141.51 L409.04,141.51 L409.51,141.51 L409.98,141.51 L410.45,141.51 L410.92,141.51 L411.39,141.51 L411.86,141.51 L412.33,141.51 L412.80,141.51 L413.27,141.51 L413.74,141.51 L414.21,141.51 L414.69,141.51 L415.16,141.51 L415.63,141.51 L416.10,141.51 L416.57,141.51 L417.04,141.51 L417.51,141.51 L417.98,141.51 L418.45,141.51 L418.92,141.51 L419.39,141.51 L419.86,141.51 L420.33,141.51 L420.80,141.51 L421.27,141.51 L421.75,141.51 L422.22,141.51 L422.69,141.51 L423.16,141.51 L423.63,141.51 L424.10,141.51 L424.57,141.51 L425.04,141.51 L425.51,141.51 L425.98,141.51 L426.45,141.51 L426.92,141.51 L427.39,141.51 L427.86,141.51 L428.33,141.51 L428.81,141.51 L429.28,141.51 L429.75,141.51 L430.22,141.51 L430.69,141.51 L431.16,141.51 L431.63,141.51 L432.10,141.51 L432.57,141.51 L433.04,141.51 L433.51,141.51 L433.98,141.51 L434.45,141.51 L434.92,141.51 L435.39,141.51 L435.87,141.51 L436.34,141.51 L436.81,141.51 L437.28,141.51 L437.75,141.51 L438.22,141.51 L438.69,141.51 L439.16,141.51 L439.63,141.51 L440.10,141.51 L440.57,141.51 L441.04,141.51 L441.51,141.51 L441.98,141.51 L442.45,141.51 L442.93,141.51 L443.40,141.51 L443.87,141.51 L444.34,141.51 L444.81,141.51 L445.28,141.51 L445.75,141.51 L446.22,141.51 L446.69,141.51 L447.16,141.51 L447.63,141.51 L448.10,141.51 L448.57,141.51 L449.04,141.51 L449.51,141.51 L449.99,141.51 L450.46,141.51 L450.93,141.51 L451.40,141.51 L451.87,141.51 L452.34,141.51 L452.81,141.51 L453.28,141.51 L453.75,141.51 L454.22,141.51 L454.69,141.51 L455.16,141.51 L455.63,141.51 L456.10,141.51 L456.57,141.51 L457.05,141.51 L457.52,141.51 L457.99,141.51 L458.46,141.51 L458.93,141.51 L459.40,141.51 L459.87,141.51 L460.34,141.51 L460.81,141.51 L461.28,141.51 L461.75,141.51 L462.22,141.51 L462.69,141.51 L463.16,141.51 L463.63,141.51 L464.11,141.50 L464.58,141.50 L465.05,141.50 L465.52,141.50 L465.99,141.49 L466.46,141.49 L466.93,141.48 L467.40,141.47 L467.87,141.46 L468.34,141.44 L468.81,141.42 L469.28,141.39 L469.75,141.35 L470.22,141.31 L470.69,141.25 L471.17,141.18 L471.64,141.10 L472.11,140.99 L472.58,140.87 L473.05,140.72 L473.52,140.55 L473.99,140.34 L474.46,140.11 L474.93,139.83 L475.40,139.52 L475.87,139.18 L476.34,138.79 L476.81,138.36 L477.28,137.89 L477.75,137.39 L478.23,136.85 L478.70,136.28 L479.17,135.68 L479.64,135.07 L480.11,134.45 L480.58,133.82 L481.05,133.21 L481.52,132.61 L481.99,132.05 L482.46,131.52 L482.93,131.05 L483.40,130.64 L483.87,130.30 L484.34,130.04 L484.81,129.86 L485.29,129.77 L485.76,129.77 L486.23,129.86 L486.70,130.04 L487.17,130.30 L487.64,130.64 L488.11,131.05 L488.58,131.52 L489.05,132.05 L489.52,132.61 L489.99,133.21 L490.46,133.82 L490.93,134.45 L491.40,135.07 L491.87,135.68 L492.35,136.28 L492.82,136.85 L493.29,137.39 L493.76,137.89 L494.23,138.36 L494.70,138.79 L495.17,139.18 L495.64,139.52 L496.11,139.83 L496.58,140.11 L497.05,140.34 L497.52,140.55 L497.99,140.72 L498.46,140.87 L498.93,140.99 L499.41,141.10 L499.88,141.18 L500.35,141.25 L500.82,141.31 L501.29,141.35 L501.76,141.39 L502.23,141.42 L502.70,141.44 L503.17,141.46 L503.64,141.47 L504.11,141.48 L504.58,141.49 L505.05,141.49 L505.52,141.50 L505.99,141.50 L506.47,141.50 L506.94,141.50 L507.41,141.51 L507.88,141.51 L508.35,141.51 L508.82,141.51 L509.29,141.51 L509.76,141.51 L510.23,141.51 L510.70,141.51 L511.17,141.51 L511.64,141.51 L512.11,141.51 L512.58,141.51 L513.05,141.51 L513.53,141.51 L514.00,141.51 L514.47,141.51 L514.94,141.51 L515.41,141.51 L515.88,141.51 L516.35,141.51 L516.82,141.51 L517.29,141.51 L517.76,141.51 L518.23,141.51 L518.70,141.51 L519.17,141.51 L519.64,141.51 L520.11,141.51 L520.59,141.51 L521.06,141.51 L521.53,141.51 L522.00,141.51 L522.47,141.51 L522.94,141.51 L523.41,141.51 L523.88,141.51 L524.35,141.51 L524.82,141.51 L525.29,141.51 L525.76,141.51 L526.23,141.51 L526.70,141.51 L527.17,141.51 L527.65,141.51 L528.12,141.51 L528.59,141.51 L529.06,141.51 L529.53,141.51 L530.00,141.51 L530.47,141.51 L530.94,141.51 L531.41,141.51 L531.88,141.51 L532.35,141.51 L532.82,141.51 L533.29,141.51 L533.76,141.51 L534.23,141.51 L534.71,141.51 L535.18,141.51 L535.65,141.51 L536.12,141.51 L536.59,141.51 L537.06,141.51 L537.53,141.51 L538.00,141.51" stroke="#5050e8" stroke-width="1.05" fill="none"/>
<path d="M396.80,140.98 L397.27,140.97 L397.74,140.97 L398.21,140.96 L398.68,140.95 L399.15,140.95 L399.62,140.94 L400.09,140.93 L400.57,140.93 L401.04,140.92 L401.51,140.91 L401.98,140.90 L402.45,140.89 L402.92,140.89 L403.39,140.88 L403.86,140.87 L404.33,140.86 L404.80,140.85 L405.27,140.84 L405.74,140.84 L406.21,140.83 L406.68,140.82 L407.15,140.81 L407.63,140.80 L408.10,140.79 L408.57,140.78 L409.04,140.77 L409.51,140.76 L409.98,140.75 L410.45,140.74 L410.92,140.73 L411.39,140.71 L411.86,140.70 L412.33,140.69 L412.80,140.68 L413.27,140.67 L413.74,140.65 L414.21,140.64 L414.69,140.63 L415.16,140.61 L415.63,140.60 L416.10,140.59 L416.57,140.57 L417.04,140.56 L417.51,140.54 L417.98,140.53 L418.45,140.51 L418.92,140.50 L419.39,140.48 L419.86,140.46 L420.33,140.45 L420.80,140.43 L421.27,140.41 L421.75,140.39 L422.22,140.37 L422.69,140.35 L423.16,140.33 L423.63,140.31 L424.10,140.29 L424.57,140.27 L425.04,140.25 L425.51,140.23 L425.98,140.21 L426.45,140.18 L426.92,140.16 L427.39,140.13 L427.86,140.11 L428.33,140.08 L428.81,140.06 L429.28,140.03 L429.75,140.00 L430.22,139.97 L430.69,139.94 L431.16,139.91 L431.63,139.88 L432.10,139.85 L432.57,139.82 L433.04,139.78 L433.51,139.75 L433.98,139.71 L434.45,139.68 L434.92,139.64 L435.39,139.60 L435.87,139.56 L436.34,139.52 L436.81,139.48 L437.28,139.44 L437.75,139.39 L438.22,139.35 L438.69,139.30 L439.16,139.25 L439.63,139.20 L440.10,139.15 L440.57,139.10 L441.04,139.05 L441.51,138.99 L441.98,138.93 L442.45,138.88 L442.93,138.81 L443.40,138.75 L443.87,138.69 L444.34,138.62 L444.81,138.56 L445.28,138.49 L445.75,138.42 L446.22,138.34 L446.69,138.27 L447.16,138.19 L447.63,138.11 L448.10,138.03 L448.57,137.95 L449.04,137.86 L449.51,137.78 L449.99,137.69 L450.46,137.59 L450.93,137.50 L451.40,137.40 L451.87,137.30 L452.34,137.20 L452.81,137.10 L453.28,136.99 L453.75,136.89 L454.22,136.78 L454.69,136.67 L455.16,136.55 L455.63,136.44 L456.10,136.32 L456.57,136.21 L457.05,136.09 L457.52,135.97 L457.99,135.85 L458.46,135.73 L458.93,135.61 L459.40,135.48 L459.87,135.36 L460.34,135.24 L460.81,135.12 L461.28,135.01 L461.75,134.89 L462.22,134.78 L462.69,134.67 L463.16,134.56 L463.63,134.46 L464.11,134.36 L464.58,134.26 L465.05,134.17 L465.52,134.09 L465.99,134.01 L466.46,133.93 L466.93,133.86 L467.40,133.80 L467.87,133.73 L468.34,133.68 L468.81,133.63 L469.28,133.57 L469.75,133.53 L470.22,133.48 L470.69,133.42 L471.17,133.37 L471.64,133.30 L472.11,133.23 L472.58,133.15 L473.05,133.05 L473.52,132.93 L473.99,132.79 L474.46,132.62 L474.93,132.42 L475.40,132.20 L475.87,131.94 L476.34,131.64 L476.81,131.31 L477.28,130.95 L477.75,130.55 L478.23,130.12 L478.70,129.66 L479.17,129.18 L479.64,128.69 L480.11,128.18 L480.58,127.68 L481.05,127.18 L481.52,126.71 L481.99,126.27 L482.46,125.86 L482.93,125.51 L483.40,125.22 L483.87,125.00 L484.34,124.86 L484.81,124.79 L485.29,124.82 L485.76,124.93 L486.23,125.13 L486.70,125.42 L487.17,125.79 L487.64,126.23 L488.11,126.75 L488.58,127.32 L489.05,127.94 L489.52,128.60 L489.99,129.29 L490.46,130.00 L490.93,130.71 L491.40,131.42 L491.87,132.12 L492.35,132.80 L492.82,133.45 L493.29,134.07 L493.76,134.65 L494.23,135.20 L494.70,135.70 L495.17,136.16 L495.64,136.57 L496.11,136.95 L496.58,137.29 L497.05,137.59 L497.52,137.85 L497.99,138.09 L498.46,138.29 L498.93,138.47 L499.41,138.63 L499.88,138.77 L500.35,138.89 L500.82,139.00 L501.29,139.09 L501.76,139.18 L502.23,139.25 L502.70,139.32 L503.17,139.38 L503.64,139.44 L504.11,139.49 L504.58,139.54 L505.05,139.59 L505.52,139.63 L505.99,139.67 L506.47,139.71 L506.94,139.74 L507.41,139.78 L507.88,139.81 L508.35,139.85 L508.82,139.88 L509.29,139.91 L509.76,139.94 L510.23,139.97 L510.70,140.00 L511.17,140.03 L511.64,140.06 L512.11,140.08 L512.58,140.11 L513.05,140.13 L513.53,140.16 L514.00,140.18 L514.47,140.21 L514.94,140.23 L515.41,140.25 L515.88,140.27 L516.35,140.29 L516.82,140.31 L517.29,140.33 L517.76,140.35 L518.23,140.37 L518.70,140.39 L519.17,140.41 L519.64,140.43 L520.11,140.45 L520.59,140.46 L521.06,140.48 L521.53,140.50 L522.00,140.51 L522.47,140.53 L522.94,140.54 L523.41,140.56 L523.88,140.57 L524.35,140.59 L524.82,140.60 L525.29,140.61 L525.76,140.63 L526.23,140.64 L526.70,140.65 L527.17,140.67 L527.65,140.68 L528.12,140.69 L528.59,140.70 L529.06,140.71 L529.53,140.73 L530.00,140.74 L530.47,140.75 L530.94,140.76 L531.41,140.77 L531.88,140.78 L532.35,140.79 L532.82,140.80 L533.29,140.81 L533.76,140.82 L534.23,140.83 L534.71,140.84 L535.18,140.84 L535.65,140.85 L536.12,140.86 L536.59,140.87 L537.06,140.88 L537.53,140.89 L538.00,140.89" stroke="#222" stroke-width="1.15" fill="none"/>
</g>
<rect x="396.80" y="93.25" width="141.20" height="53.30" fill="none" stroke="#3a3a3a" stroke-width="1.2"/>
<text x="392.20" y="144.31" font-size="8.5" text-anchor="end">0</text>
<text x="392.20" y="95.36" font-size="8.5" text-anchor="end">5</text>
<clipPath id="cp22"><rect x="396.80" y="155.50" width="141.20" height="53.30"/></clipPath>
<path d="M396.80,203.76 h4.20 M396.80,193.97 h2.20 M396.80,184.18 h2.20 M396.80,174.39 h2.20 M396.80,164.60 h2.20 M420.33,208.80 v-2.40 M443.87,208.80 v-4.20 M467.40,208.80 v-2.40 M490.93,208.80 v-4.20 M514.47,208.80 v-2.40" stroke="#3a3a3a" stroke-width="1.3" fill="none"/>
<g clip-path="url(#cp22)">
<path d="M396.80,203.37 L398.08,203.37 L399.37,203.43 L400.65,203.31 L401.93,203.36 L403.22,203.35 L404.50,203.27 L405.79,203.21 L407.07,203.33 L408.35,203.24 L409.64,203.31 L410.92,203.07 L412.20,203.24 L413.49,203.10 L414.77,203.21 L416.05,203.07 L417.34,202.94 L418.62,203.28 L419.91,203.08 L421.19,202.98 L422.47,202.99 L423.76,203.00 L425.04,202.72 L426.32,202.86 L427.61,202.97 L428.89,202.69 L430.17,202.89 L431.46,202.56 L432.74,202.67 L434.03,202.53 L435.31,202.35 L436.59,202.40 L437.88,202.49 L439.16,202.44 L440.44,202.01 L441.73,201.96 L443.01,202.05 L444.29,201.72 L445.58,201.64 L446.86,201.49 L448.15,201.76 L449.43,201.32 L450.71,200.97 L452.00,200.82 L453.28,200.60 L454.56,200.96 L455.85,200.30 L457.13,200.03 L458.41,199.41 L459.70,199.84 L460.98,199.49 L462.27,199.19 L463.55,198.80 L464.83,198.88 L466.12,198.36 L467.40,198.63 L468.68,198.28 L469.97,198.36 L471.25,198.14 L472.53,198.26 L473.82,198.39 L475.10,197.66 L476.39,197.67 L477.67,197.62 L478.95,197.12 L480.24,196.56 L481.52,196.70 L482.80,196.18 L484.09,195.86 L485.37,195.90 L486.65,196.40 L487.94,197.31 L489.22,197.14 L490.51,198.11 L491.79,198.95 L493.07,199.73 L494.36,200.27 L495.64,200.91 L496.92,201.41 L498.21,201.68 L499.49,201.89 L500.77,202.06 L502.06,202.27 L503.34,202.16 L504.63,202.48 L505.91,202.34 L507.19,202.60 L508.48,202.52 L509.76,202.48 L511.04,202.66 L512.33,202.80 L513.61,202.78 L514.89,202.82 L516.18,203.03 L517.46,202.97 L518.75,202.94 L520.03,203.03 L521.31,203.02 L522.60,202.99 L523.88,203.02 L525.16,203.04 L526.45,203.09 L527.73,203.18 L529.01,203.19 L530.30,203.23 L531.58,203.25 L532.87,203.26 L534.15,203.38 L535.43,203.31 L536.72,203.30 L538.00,203.38" stroke="#a9ad4c" stroke-width="2.7" fill="none" stroke-linejoin="round"/>
<path d="M396.80,203.40 L397.27,203.39 L397.74,203.39 L398.21,203.38 L398.68,203.38 L399.15,203.37 L399.62,203.37 L400.09,203.37 L400.57,203.36 L401.04,203.36 L401.51,203.35 L401.98,203.35 L402.45,203.34 L402.92,203.33 L403.39,203.33 L403.86,203.32 L404.33,203.32 L404.80,203.31 L405.27,203.31 L405.74,203.30 L406.21,203.29 L406.68,203.29 L407.15,203.28 L407.63,203.28 L408.10,203.27 L408.57,203.26 L409.04,203.25 L409.51,203.25 L409.98,203.24 L410.45,203.23 L410.92,203.23 L411.39,203.22 L411.86,203.21 L412.33,203.20 L412.80,203.19 L413.27,203.19 L413.74,203.18 L414.21,203.17 L414.69,203.16 L415.16,203.15 L415.63,203.14 L416.10,203.13 L416.57,203.12 L417.04,203.11 L417.51,203.10 L417.98,203.09 L418.45,203.08 L418.92,203.07 L419.39,203.06 L419.86,203.05 L420.33,203.04 L420.80,203.03 L421.27,203.01 L421.75,203.00 L422.22,202.99 L422.69,202.98 L423.16,202.96 L423.63,202.95 L424.10,202.94 L424.57,202.92 L425.04,202.91 L425.51,202.89 L425.98,202.88 L426.45,202.86 L426.92,202.85 L427.39,202.83 L427.86,202.81 L428.33,202.80 L428.81,202.78 L429.28,202.76 L429.75,202.74 L430.22,202.72 L430.69,202.70 L431.16,202.68 L431.63,202.66 L432.10,202.64 L432.57,202.62 L433.04,202.60 L433.51,202.57 L433.98,202.55 L434.45,202.53 L434.92,202.50 L435.39,202.48 L435.87,202.45 L436.34,202.42 L436.81,202.40 L437.28,202.37 L437.75,202.34 L438.22,202.31 L438.69,202.28 L439.16,202.25 L439.63,202.21 L440.10,202.18 L440.57,202.14 L441.04,202.11 L441.51,202.07 L441.98,202.03 L442.45,202.00 L442.93,201.96 L443.40,201.92 L443.87,201.87 L444.34,201.83 L444.81,201.79 L445.28,201.74 L445.75,201.69 L446.22,201.64 L446.69,201.59 L447.16,201.54 L447.63,201.49 L448.10,201.44 L448.57,201.38 L449.04,201.32 L449.51,201.27 L449.99,201.21 L450.46,201.15 L450.93,201.08 L451.40,201.02 L451.87,200.95 L452.34,200.88 L452.81,200.82 L453.28,200.74 L453.75,200.67 L454.22,200.60 L454.69,200.52 L455.16,200.45 L455.63,200.37 L456.10,200.29 L456.57,200.21 L457.05,200.13 L457.52,200.05 L457.99,199.96 L458.46,199.88 L458.93,199.80 L459.40,199.71 L459.87,199.63 L460.34,199.54 L460.81,199.46 L461.28,199.37 L461.75,199.29 L462.22,199.21 L462.69,199.13 L463.16,199.05 L463.63,198.97 L464.11,198.90 L464.58,198.83 L465.05,198.76 L465.52,198.69 L465.99,198.63 L466.46,198.57 L466.93,198.52 L467.40,198.47 L467.87,198.43 L468.34,198.39 L468.81,198.35 L469.28,198.33 L469.75,198.30 L470.22,198.29 L470.69,198.28 L471.17,198.28 L471.64,198.28 L472.11,198.29 L472.58,198.30 L473.05,198.33 L473.52,198.35 L473.99,198.39 L474.46,198.43 L474.93,198.47 L475.40,198.52 L475.87,198.57 L476.34,198.63 L476.81,198.69 L477.28,198.76 L477.75,198.83 L478.23,198.90 L478.70,198.97 L479.17,199.05 L479.64,199.13 L480.11,199.21 L480.58,199.29 L481.05,199.37 L481.52,199.46 L481.99,199.54 L482.46,199.63 L482.93,199.71 L483.40,199.80 L483.87,199.88 L484.34,199.96 L484.81,200.05 L485.29,200.13 L485.76,200.21 L486.23,200.29 L486.70,200.37 L487.17,200.45 L487.64,200.52 L488.11,200.60 L488.58,200.67 L489.05,200.74 L489.52,200.82 L489.99,200.88 L490.46,200.95 L490.93,201.02 L491.40,201.08 L491.87,201.15 L492.35,201.21 L492.82,201.27 L493.29,201.32 L493.76,201.38 L494.23,201.44 L494.70,201.49 L495.17,201.54 L495.64,201.59 L496.11,201.64 L496.58,201.69 L497.05,201.74 L497.52,201.79 L497.99,201.83 L498.46,201.87 L498.93,201.92 L499.41,201.96 L499.88,202.00 L500.35,202.03 L500.82,202.07 L501.29,202.11 L501.76,202.14 L502.23,202.18 L502.70,202.21 L503.17,202.25 L503.64,202.28 L504.11,202.31 L504.58,202.34 L505.05,202.37 L505.52,202.40 L505.99,202.42 L506.47,202.45 L506.94,202.48 L507.41,202.50 L507.88,202.53 L508.35,202.55 L508.82,202.57 L509.29,202.60 L509.76,202.62 L510.23,202.64 L510.70,202.66 L511.17,202.68 L511.64,202.70 L512.11,202.72 L512.58,202.74 L513.05,202.76 L513.53,202.78 L514.00,202.80 L514.47,202.81 L514.94,202.83 L515.41,202.85 L515.88,202.86 L516.35,202.88 L516.82,202.89 L517.29,202.91 L517.76,202.92 L518.23,202.94 L518.70,202.95 L519.17,202.96 L519.64,202.98 L520.11,202.99 L520.59,203.00 L521.06,203.01 L521.53,203.03 L522.00,203.04 L522.47,203.05 L522.94,203.06 L523.41,203.07 L523.88,203.08 L524.35,203.09 L524.82,203.10 L525.29,203.11 L525.76,203.12 L526.23,203.13 L526.70,203.14 L527.17,203.15 L527.65,203.16 L528.12,203.17 L528.59,203.18 L529.06,203.19 L529.53,203.19 L530.00,203.20 L530.47,203.21 L530.94,203.22 L531.41,203.23 L531.88,203.23 L532.35,203.24 L532.82,203.25 L533.29,203.25 L533.76,203.26 L534.23,203.27 L534.71,203.28 L535.18,203.28 L535.65,203.29 L536.12,203.29 L536.59,203.30 L537.06,203.31 L537.53,203.31 L538.00,203.32" stroke="#e8404a" stroke-width="1.05" fill="none"/>
<path d="M396.80,203.76 L397.27,203.76 L397.74,203.76 L398.21,203.76 L398.68,203.76 L399.15,203.76 L399.62,203.76 L400.09,203.76 L400.57,203.76 L401.04,203.76 L401.51,203.76 L401.98,203.76 L402.45,203.76 L402.92,203.76 L403.39,203.76 L403.86,203.76 L404.33,203.76 L404.80,203.76 L405.27,203.76 L405.74,203.76 L406.21,203.76 L406.68,203.76 L407.15,203.76 L407.63,203.76 L408.10,203.76 L408.57,203.76 L409.04,203.76 L409.51,203.76 L409.98,203.76 L410.45,203.76 L410.92,203.76 L411.39,203.76 L411.86,203.76 L412.33,203.76 L412.80,203.76 L413.27,203.76 L413.74,203.76 L414.21,203.76 L414.69,203.76 L415.16,203.76 L415.63,203.76 L416.10,203.76 L416.57,203.76 L417.04,203.76 L417.51,203.76 L417.98,203.76 L418.45,203.76 L418.92,203.76 L419.39,203.76 L419.86,203.76 L420.33,203.76 L420.80,203.76 L421.27,203.76 L421.75,203.76 L422.22,203.76 L422.69,203.76 L423.16,203.76 L423.63,203.76 L424.10,203.76 L424.57,203.76 L425.04,203.76 L425.51,203.76 L425.98,203.76 L426.45,203.76 L426.92,203.76 L427.39,203.76 L427.86,203.76 L428.33,203.76 L428.81,203.76 L429.28,203.76 L429.75,203.76 L430.22,203.76 L430.69,203.76 L431.16,203.76 L431.63,203.76 L432.10,203.76 L432.57,203.76 L433.04,203.76 L433.51,203.76 L433.98,203.76 L434.45,203.76 L434.92,203.76 L435.39,203.76 L435.87,203.76 L436.34,203.76 L436.81,203.76 L437.28,203.76 L437.75,203.76 L438.22,203.76 L438.69,203.76 L439.16,203.76 L439.63,203.76 L440.10,203.76 L440.57,203.76 L441.04,203.76 L441.51,203.76 L441.98,203.76 L442.45,203.76 L442.93,203.76 L443.40,203.76 L443.87,203.76 L444.34,203.76 L444.81,203.76 L445.28,203.76 L445.75,203.76 L446.22,203.76 L446.69,203.76 L447.16,203.76 L447.63,203.76 L448.10,203.76 L448.57,203.76 L449.04,203.76 L449.51,203.76 L449.99,203.76 L450.46,203.76 L450.93,203.76 L451.40,203.76 L451.87,203.76 L452.34,203.76 L452.81,203.76 L453.28,203.76 L453.75,203.76 L454.22,203.76 L454.69,203.76 L455.16,203.76 L455.63,203.76 L456.10,203.76 L456.57,203.76 L457.05,203.76 L457.52,203.76 L457.99,203.76 L458.46,203.76 L458.93,203.76 L459.40,203.76 L459.87,203.76 L460.34,203.76 L460.81,203.76 L461.28,203.76 L461.75,203.76 L462.22,203.76 L462.69,203.76 L463.16,203.76 L463.63,203.76 L464.11,203.76 L464.58,203.76 L465.05,203.76 L465.52,203.76 L465.99,203.75 L466.46,203.75 L466.93,203.75 L467.40,203.75 L467.87,203.74 L468.34,203.74 L468.81,203.73 L469.28,203.72 L469.75,203.71 L470.22,203.70 L470.69,203.68 L471.17,203.66 L471.64,203.63 L472.11,203.60 L472.58,203.56 L473.05,203.51 L473.52,203.45 L473.99,203.39 L474.46,203.31 L474.93,203.22 L475.40,203.12 L475.87,203.01 L476.34,202.88 L476.81,202.73 L477.28,202.58 L477.75,202.41 L478.23,202.22 L478.70,202.03 L479.17,201.82 L479.64,201.61 L480.11,201.40 L480.58,201.18 L481.05,200.96 L481.52,200.75 L481.99,200.54 L482.46,200.35 L482.93,200.18 L483.40,200.02 L483.87,199.89 L484.34,199.79 L484.81,199.71 L485.29,199.66 L485.76,199.65 L486.23,199.66 L486.70,199.71 L487.17,199.79 L487.64,199.89 L488.11,200.02 L488.58,200.18 L489.05,200.35 L489.52,200.54 L489.99,200.75 L490.46,200.96 L490.93,201.18 L491.40,201.40 L491.87,201.61 L492.35,201.82 L492.82,202.03 L493.29,202.22 L493.76,202.41 L494.23,202.58 L494.70,202.73 L495.17,202.88 L495.64,203.01 L496.11,203.12 L496.58,203.22 L497.05,203.31 L497.52,203.39 L497.99,203.45 L498.46,203.51 L498.93,203.56 L499.41,203.60 L499.88,203.63 L500.35,203.66 L500.82,203.68 L501.29,203.70 L501.76,203.71 L502.23,203.72 L502.70,203.73 L503.17,203.74 L503.64,203.74 L504.11,203.75 L504.58,203.75 L505.05,203.75 L505.52,203.75 L505.99,203.76 L506.47,203.76 L506.94,203.76 L507.41,203.76 L507.88,203.76 L508.35,203.76 L508.82,203.76 L509.29,203.76 L509.76,203.76 L510.23,203.76 L510.70,203.76 L511.17,203.76 L511.64,203.76 L512.11,203.76 L512.58,203.76 L513.05,203.76 L513.53,203.76 L514.00,203.76 L514.47,203.76 L514.94,203.76 L515.41,203.76 L515.88,203.76 L516.35,203.76 L516.82,203.76 L517.29,203.76 L517.76,203.76 L518.23,203.76 L518.70,203.76 L519.17,203.76 L519.64,203.76 L520.11,203.76 L520.59,203.76 L521.06,203.76 L521.53,203.76 L522.00,203.76 L522.47,203.76 L522.94,203.76 L523.41,203.76 L523.88,203.76 L524.35,203.76 L524.82,203.76 L525.29,203.76 L525.76,203.76 L526.23,203.76 L526.70,203.76 L527.17,203.76 L527.65,203.76 L528.12,203.76 L528.59,203.76 L529.06,203.76 L529.53,203.76 L530.00,203.76 L530.47,203.76 L530.94,203.76 L531.41,203.76 L531.88,203.76 L532.35,203.76 L532.82,203.76 L533.29,203.76 L533.76,203.76 L534.23,203.76 L534.71,203.76 L535.18,203.76 L535.65,203.76 L536.12,203.76 L536.59,203.76 L537.06,203.76 L537.53,203.76 L538.00,203.76" stroke="#5050e8" stroke-width="1.05" fill="none"/>
<path d="M396.80,203.40 L397.27,203.39 L397.74,203.39 L398.21,203.38 L398.68,203.38 L399.15,203.37 L399.62,203.37 L400.09,203.37 L400.57,203.36 L401.04,203.36 L401.51,203.35 L401.98,203.35 L402.45,203.34 L402.92,203.33 L403.39,203.33 L403.86,203.32 L404.33,203.32 L404.80,203.31 L405.27,203.31 L405.74,203.30 L406.21,203.29 L406.68,203.29 L407.15,203.28 L407.63,203.28 L408.10,203.27 L408.57,203.26 L409.04,203.25 L409.51,203.25 L409.98,203.24 L410.45,203.23 L410.92,203.23 L411.39,203.22 L411.86,203.21 L412.33,203.20 L412.80,203.19 L413.27,203.19 L413.74,203.18 L414.21,203.17 L414.69,203.16 L415.16,203.15 L415.63,203.14 L416.10,203.13 L416.57,203.12 L417.04,203.11 L417.51,203.10 L417.98,203.09 L418.45,203.08 L418.92,203.07 L419.39,203.06 L419.86,203.05 L420.33,203.04 L420.80,203.03 L421.27,203.01 L421.75,203.00 L422.22,202.99 L422.69,202.98 L423.16,202.96 L423.63,202.95 L424.10,202.94 L424.57,202.92 L425.04,202.91 L425.51,202.89 L425.98,202.88 L426.45,202.86 L426.92,202.85 L427.39,202.83 L427.86,202.81 L428.33,202.80 L428.81,202.78 L429.28,202.76 L429.75,202.74 L430.22,202.72 L430.69,202.70 L431.16,202.68 L431.63,202.66 L432.10,202.64 L432.57,202.62 L433.04,202.60 L433.51,202.57 L433.98,202.55 L434.45,202.53 L434.92,202.50 L435.39,202.48 L435.87,202.45 L436.34,202.42 L436.81,202.40 L437.28,202.37 L437.75,202.34 L438.22,202.31 L438.69,202.28 L439.16,202.25 L439.63,202.21 L440.10,202.18 L440.57,202.14 L441.04,202.11 L441.51,202.07 L441.98,202.03 L442.45,202.00 L442.93,201.96 L443.40,201.92 L443.87,201.87 L444.34,201.83 L444.81,201.79 L445.28,201.74 L445.75,201.69 L446.22,201.64 L446.69,201.59 L447.16,201.54 L447.63,201.49 L448.10,201.44 L448.57,201.38 L449.04,201.32 L449.51,201.27 L449.99,201.21 L450.46,201.15 L450.93,201.08 L451.40,201.02 L451.87,200.95 L452.34,200.88 L452.81,200.82 L453.28,200.74 L453.75,200.67 L454.22,200.60 L454.69,200.52 L455.16,200.45 L455.63,200.37 L456.10,200.29 L456.57,200.21 L457.05,200.13 L457.52,200.05 L457.99,199.96 L458.46,199.88 L458.93,199.80 L459.40,199.71 L459.87,199.63 L460.34,199.54 L460.81,199.46 L461.28,199.37 L461.75,199.29 L462.22,199.21 L462.69,199.13 L463.16,199.05 L463.63,198.97 L464.11,198.90 L464.58,198.82 L465.05,198.75 L465.52,198.69 L465.99,198.62 L466.46,198.56 L466.93,198.51 L467.40,198.46 L467.87,198.41 L468.34,198.37 L468.81,198.33 L469.28,198.29 L469.75,198.26 L470.22,198.23 L470.69,198.20 L471.17,198.18 L471.64,198.15 L472.11,198.13 L472.58,198.10 L473.05,198.08 L473.52,198.05 L473.99,198.02 L474.46,197.98 L474.93,197.93 L475.40,197.88 L475.87,197.82 L476.34,197.75 L476.81,197.67 L477.28,197.57 L477.75,197.47 L478.23,197.36 L478.70,197.24 L479.17,197.11 L479.64,196.98 L480.11,196.85 L480.58,196.71 L481.05,196.58 L481.52,196.45 L481.99,196.33 L482.46,196.22 L482.93,196.13 L483.40,196.06 L483.87,196.01 L484.34,195.99 L484.81,196.00 L485.29,196.03 L485.76,196.10 L486.23,196.19 L486.70,196.32 L487.17,196.48 L487.64,196.66 L488.11,196.86 L488.58,197.09 L489.05,197.34 L489.52,197.60 L489.99,197.87 L490.46,198.15 L490.93,198.44 L491.40,198.72 L491.87,199.00 L492.35,199.27 L492.82,199.54 L493.29,199.79 L493.76,200.03 L494.23,200.26 L494.70,200.47 L495.17,200.66 L495.64,200.84 L496.11,201.01 L496.58,201.16 L497.05,201.29 L497.52,201.41 L497.99,201.52 L498.46,201.62 L498.93,201.71 L499.41,201.79 L499.88,201.87 L500.35,201.93 L500.82,201.99 L501.29,202.05 L501.76,202.10 L502.23,202.14 L502.70,202.18 L503.17,202.22 L503.64,202.26 L504.11,202.30 L504.58,202.33 L505.05,202.36 L505.52,202.39 L505.99,202.42 L506.47,202.45 L506.94,202.47 L507.41,202.50 L507.88,202.53 L508.35,202.55 L508.82,202.57 L509.29,202.60 L509.76,202.62 L510.23,202.64 L510.70,202.66 L511.17,202.68 L511.64,202.70 L512.11,202.72 L512.58,202.74 L513.05,202.76 L513.53,202.78 L514.00,202.80 L514.47,202.81 L514.94,202.83 L515.41,202.85 L515.88,202.86 L516.35,202.88 L516.82,202.89 L517.29,202.91 L517.76,202.92 L518.23,202.94 L518.70,202.95 L519.17,202.96 L519.64,202.98 L520.11,202.99 L520.59,203.00 L521.06,203.01 L521.53,203.03 L522.00,203.04 L522.47,203.05 L522.94,203.06 L523.41,203.07 L523.88,203.08 L524.35,203.09 L524.82,203.10 L525.29,203.11 L525.76,203.12 L526.23,203.13 L526.70,203.14 L527.17,203.15 L527.65,203.16 L528.12,203.17 L528.59,203.18 L529.06,203.19 L529.53,203.19 L530.00,203.20 L530.47,203.21 L530.94,203.22 L531.41,203.23 L531.88,203.23 L532.35,203.24 L532.82,203.25 L533.29,203.25 L533.76,203.26 L534.23,203.27 L534.71,203.28 L535.18,203.28 L535.65,203.29 L536.12,203.29 L536.59,203.30 L537.06,203.31 L537.53,203.31 L538.00,203.32" stroke="#222" stroke-width="1.15" fill="none"/>
</g>
<rect x="396.80" y="155.50" width="141.20" height="53.30" fill="none" stroke="#3a3a3a" stroke-width="1.2"/>
<text x="392.20" y="206.56" font-size="8.5" text-anchor="end">0</text>
<text x="392.20" y="157.61" font-size="8.5" text-anchor="end">5</text>
<text x="396.80" y="220.30" font-size="8.9" text-anchor="middle">1.8</text>
<text x="443.87" y="220.30" font-size="8.9" text-anchor="middle">1.9</text>
<text x="490.93" y="220.30" font-size="8.9" text-anchor="middle">2.0</text>
<text x="538.00" y="220.30" font-size="8.9" text-anchor="middle">2.1</text>
<text x="467.40" y="232.2" font-size="10.9" text-anchor="middle">Energy (eV)</text>
<text x="9" y="16.5" font-size="12">a</text>
<text x="190" y="16.5" font-size="12">b</text>
<text x="370" y="16.5" font-size="12">c</text>
<text transform="translate(14.0,127.0) rotate(-90)" font-size="11" text-anchor="middle">Intensity (a.u.)</text>
<text x="41" y="47.8" font-size="11.3">0WL</text>
<text x="173.5" y="47.8" font-size="11" text-anchor="end">19 nW</text>
<text x="173.5" y="109.5" font-size="11.2" text-anchor="end">0.38 µW</text>
<text x="173.5" y="172" font-size="11.2" text-anchor="end">1.9 µW</text>
<text x="222" y="47.8" font-size="11.3">1WL</text>
<text x="402" y="47.8" font-size="11.3">2WL</text>
<text x="79.3" y="66" font-size="11" style="fill:#e8262e;stroke:#e8262e">X<tspan font-size="5.5" dy="-4.3" style="stroke-width:0.1px">-</tspan></text>
<text x="133.6" y="66" font-size="11" style="fill:#3a3ae0;stroke:#3a3ae0">X<tspan font-size="8.2" dy="-3.4">0</tspan></text>
</svg></body></html>
